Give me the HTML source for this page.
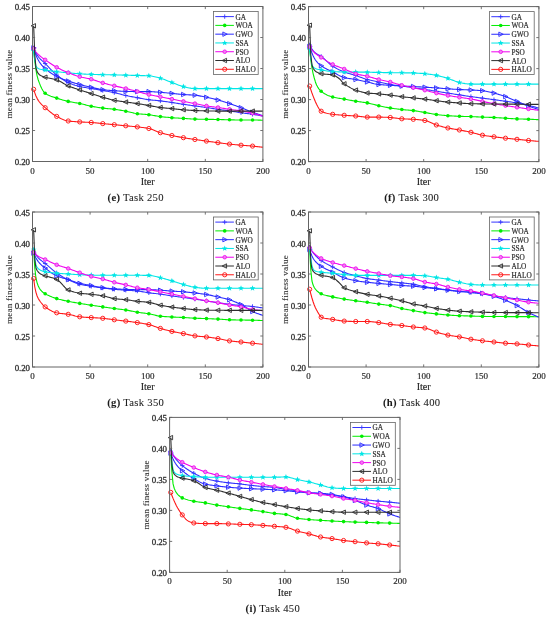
<!DOCTYPE html>
<html><head><meta charset="utf-8"><style>
html,body{margin:0;padding:0;background:#fff;}
svg{display:block;will-change:transform;}
text{stroke:#3a3a3a;stroke-width:0.18px;}
</style></head><body>
<svg width="550" height="617" viewBox="0 0 550 617">
<rect width="550" height="617" fill="#fff"/>
<path d="M33.65 47.90 L34.80 50.58 L35.96 53.00 L37.11 54.91 L38.26 56.56 L39.41 58.00 L40.56 59.26 L41.72 60.37 L42.87 61.40 L44.02 62.43 L45.17 63.50 L46.32 64.65 L47.48 65.84 L48.63 67.06 L49.78 68.28 L50.93 69.51 L52.08 70.71 L53.24 71.88 L54.39 72.99 L55.54 74.04 L56.69 75.00 L57.84 75.91 L59.00 76.80 L60.15 77.66 L61.30 78.50 L62.45 79.30 L63.60 80.06 L64.76 80.78 L65.91 81.44 L67.06 82.05 L68.21 82.60 L69.36 83.10 L70.52 83.58 L71.67 84.03 L72.82 84.46 L73.97 84.86 L75.12 85.24 L76.28 85.59 L77.43 85.92 L78.58 86.22 L79.73 86.50 L80.88 86.75 L82.04 86.98 L83.19 87.19 L84.34 87.39 L85.49 87.58 L86.64 87.76 L87.80 87.94 L88.95 88.12 L90.10 88.31 L91.25 88.50 L92.40 88.70 L93.56 88.90 L94.71 89.10 L95.86 89.30 L97.01 89.49 L98.16 89.69 L99.32 89.89 L100.47 90.09 L101.62 90.30 L102.77 90.50 L103.92 90.70 L105.08 90.90 L106.23 91.10 L107.38 91.30 L108.53 91.50 L109.68 91.71 L110.84 91.92 L111.99 92.14 L113.14 92.36 L114.29 92.60 L115.44 92.86 L116.60 93.13 L117.75 93.43 L118.90 93.73 L120.05 94.04 L121.20 94.35 L122.36 94.66 L123.51 94.96 L124.66 95.24 L125.81 95.50 L126.96 95.75 L128.12 95.98 L129.27 96.21 L130.42 96.43 L131.57 96.65 L132.72 96.86 L133.88 97.07 L135.03 97.28 L136.18 97.49 L137.33 97.70 L138.48 97.91 L139.64 98.13 L140.79 98.35 L141.94 98.56 L143.09 98.77 L144.24 98.98 L145.40 99.18 L146.55 99.37 L147.70 99.54 L148.85 99.70 L150.00 99.84 L151.16 99.97 L152.31 100.09 L153.46 100.21 L154.61 100.32 L155.76 100.42 L156.92 100.53 L158.07 100.65 L159.22 100.77 L160.37 100.90 L161.52 101.04 L162.68 101.19 L163.83 101.34 L164.98 101.50 L166.13 101.66 L167.28 101.82 L168.44 101.99 L169.59 102.16 L170.74 102.33 L171.89 102.50 L173.04 102.67 L174.20 102.85 L175.35 103.03 L176.50 103.21 L177.65 103.40 L178.80 103.59 L179.96 103.77 L181.11 103.95 L182.26 104.13 L183.41 104.30 L184.56 104.47 L185.72 104.63 L186.87 104.79 L188.02 104.95 L189.17 105.11 L190.32 105.27 L191.48 105.43 L192.63 105.58 L193.78 105.74 L194.93 105.90 L196.08 106.06 L197.24 106.22 L198.39 106.37 L199.54 106.53 L200.69 106.69 L201.84 106.85 L203.00 107.01 L204.15 107.17 L205.30 107.33 L206.45 107.50 L207.60 107.67 L208.76 107.85 L209.91 108.03 L211.06 108.21 L212.21 108.40 L213.36 108.59 L214.52 108.77 L215.67 108.95 L216.82 109.13 L217.97 109.30 L219.12 109.47 L220.28 109.63 L221.43 109.79 L222.58 109.94 L223.73 110.10 L224.88 110.26 L226.04 110.41 L227.19 110.57 L228.34 110.73 L229.49 110.90 L230.64 111.07 L231.80 111.25 L232.95 111.43 L234.10 111.61 L235.25 111.80 L236.40 111.99 L237.56 112.17 L238.71 112.35 L239.86 112.53 L241.01 112.70 L242.16 112.87 L243.32 113.03 L244.47 113.18 L245.62 113.34 L246.77 113.49 L247.92 113.64 L249.08 113.80 L250.23 113.96 L251.38 114.13 L252.53 114.30 L253.68 114.48 L254.84 114.67 L255.99 114.87 L257.14 115.07 L258.29 115.28 L259.44 115.49 L260.60 115.69 L261.75 115.90 L262.90 116.10" fill="none" stroke="#3434ff" stroke-width="1.1" stroke-linejoin="round"/>
<path d="M31.45 47.90H35.85M33.65 45.70V50.10" stroke="#3434ff" stroke-width="0.9" fill="none"/>
<path d="M42.97 63.50H47.37M45.17 61.30V65.70" stroke="#3434ff" stroke-width="0.9" fill="none"/>
<path d="M54.49 75.00H58.89M56.69 72.80V77.20" stroke="#3434ff" stroke-width="0.9" fill="none"/>
<path d="M66.01 82.60H70.41M68.21 80.40V84.80" stroke="#3434ff" stroke-width="0.9" fill="none"/>
<path d="M77.53 86.50H81.93M79.73 84.30V88.70" stroke="#3434ff" stroke-width="0.9" fill="none"/>
<path d="M89.05 88.50H93.45M91.25 86.30V90.70" stroke="#3434ff" stroke-width="0.9" fill="none"/>
<path d="M100.57 90.50H104.97M102.77 88.30V92.70" stroke="#3434ff" stroke-width="0.9" fill="none"/>
<path d="M112.09 92.60H116.49M114.29 90.40V94.80" stroke="#3434ff" stroke-width="0.9" fill="none"/>
<path d="M123.61 95.50H128.01M125.81 93.30V97.70" stroke="#3434ff" stroke-width="0.9" fill="none"/>
<path d="M135.13 97.70H139.53M137.33 95.50V99.90" stroke="#3434ff" stroke-width="0.9" fill="none"/>
<path d="M146.65 99.70H151.05M148.85 97.50V101.90" stroke="#3434ff" stroke-width="0.9" fill="none"/>
<path d="M158.17 100.90H162.57M160.37 98.70V103.10" stroke="#3434ff" stroke-width="0.9" fill="none"/>
<path d="M169.69 102.50H174.09M171.89 100.30V104.70" stroke="#3434ff" stroke-width="0.9" fill="none"/>
<path d="M181.21 104.30H185.61M183.41 102.10V106.50" stroke="#3434ff" stroke-width="0.9" fill="none"/>
<path d="M192.73 105.90H197.13M194.93 103.70V108.10" stroke="#3434ff" stroke-width="0.9" fill="none"/>
<path d="M204.25 107.50H208.65M206.45 105.30V109.70" stroke="#3434ff" stroke-width="0.9" fill="none"/>
<path d="M215.77 109.30H220.17M217.97 107.10V111.50" stroke="#3434ff" stroke-width="0.9" fill="none"/>
<path d="M227.29 110.90H231.69M229.49 108.70V113.10" stroke="#3434ff" stroke-width="0.9" fill="none"/>
<path d="M238.81 112.70H243.21M241.01 110.50V114.90" stroke="#3434ff" stroke-width="0.9" fill="none"/>
<path d="M250.33 114.30H254.73M252.53 112.10V116.50" stroke="#3434ff" stroke-width="0.9" fill="none"/>
<path d="M33.65 51.00 L34.80 61.24 L35.96 70.00 L37.11 75.82 L38.26 80.00 L39.41 83.13 L40.56 85.95 L41.72 88.42 L42.87 90.48 L44.02 92.09 L45.17 93.20 L46.32 93.99 L47.48 94.67 L48.63 95.25 L49.78 95.76 L50.93 96.21 L52.08 96.62 L53.24 97.00 L54.39 97.36 L55.54 97.72 L56.69 98.10 L57.84 98.49 L59.00 98.87 L60.15 99.23 L61.30 99.58 L62.45 99.92 L63.60 100.25 L64.76 100.56 L65.91 100.85 L67.06 101.14 L68.21 101.40 L69.36 101.65 L70.52 101.87 L71.67 102.08 L72.82 102.28 L73.97 102.48 L75.12 102.67 L76.28 102.86 L77.43 103.06 L78.58 103.27 L79.73 103.50 L80.88 103.75 L82.04 104.01 L83.19 104.29 L84.34 104.58 L85.49 104.87 L86.64 105.16 L87.80 105.44 L88.95 105.71 L90.10 105.96 L91.25 106.20 L92.40 106.42 L93.56 106.64 L94.71 106.85 L95.86 107.05 L97.01 107.24 L98.16 107.43 L99.32 107.61 L100.47 107.79 L101.62 107.95 L102.77 108.10 L103.92 108.24 L105.08 108.37 L106.23 108.48 L107.38 108.59 L108.53 108.70 L109.68 108.81 L110.84 108.92 L111.99 109.03 L113.14 109.16 L114.29 109.30 L115.44 109.45 L116.60 109.62 L117.75 109.79 L118.90 109.97 L120.05 110.16 L121.20 110.36 L122.36 110.56 L123.51 110.77 L124.66 110.99 L125.81 111.20 L126.96 111.43 L128.12 111.69 L129.27 111.97 L130.42 112.25 L131.57 112.54 L132.72 112.82 L133.88 113.09 L135.03 113.33 L136.18 113.53 L137.33 113.70 L138.48 113.83 L139.64 113.94 L140.79 114.04 L141.94 114.13 L143.09 114.21 L144.24 114.30 L145.40 114.38 L146.55 114.47 L147.70 114.58 L148.85 114.70 L150.00 114.85 L151.16 115.02 L152.31 115.22 L153.46 115.42 L154.61 115.64 L155.76 115.86 L156.92 116.07 L158.07 116.27 L159.22 116.45 L160.37 116.60 L161.52 116.74 L162.68 116.87 L163.83 116.99 L164.98 117.11 L166.13 117.22 L167.28 117.32 L168.44 117.42 L169.59 117.52 L170.74 117.61 L171.89 117.70 L173.04 117.78 L174.20 117.86 L175.35 117.93 L176.50 118.00 L177.65 118.07 L178.80 118.13 L179.96 118.20 L181.11 118.26 L182.26 118.33 L183.41 118.40 L184.56 118.47 L185.72 118.55 L186.87 118.63 L188.02 118.72 L189.17 118.80 L190.32 118.88 L191.48 118.95 L192.63 119.01 L193.78 119.06 L194.93 119.10 L196.08 119.13 L197.24 119.15 L198.39 119.18 L199.54 119.20 L200.69 119.21 L201.84 119.23 L203.00 119.25 L204.15 119.26 L205.30 119.28 L206.45 119.30 L207.60 119.32 L208.76 119.34 L209.91 119.36 L211.06 119.38 L212.21 119.39 L213.36 119.41 L214.52 119.43 L215.67 119.45 L216.82 119.48 L217.97 119.50 L219.12 119.53 L220.28 119.55 L221.43 119.58 L222.58 119.62 L223.73 119.65 L224.88 119.68 L226.04 119.72 L227.19 119.75 L228.34 119.77 L229.49 119.80 L230.64 119.83 L231.80 119.85 L232.95 119.88 L234.10 119.90 L235.25 119.93 L236.40 119.95 L237.56 119.97 L238.71 119.99 L239.86 120.00 L241.01 120.00 L242.16 120.00 L243.32 120.00 L244.47 120.00 L245.62 120.00 L246.77 120.00 L247.92 120.00 L249.08 120.00 L250.23 120.00 L251.38 120.00 L252.53 120.00 L253.68 120.00 L254.84 120.02 L255.99 120.04 L257.14 120.06 L258.29 120.09 L259.44 120.12 L260.60 120.15 L261.75 120.18 L262.90 120.20" fill="none" stroke="#00ee00" stroke-width="1.1" stroke-linejoin="round"/>
<circle cx="33.65" cy="51.00" r="1.8" fill="#00ee00"/>
<circle cx="45.17" cy="93.20" r="1.8" fill="#00ee00"/>
<circle cx="56.69" cy="98.10" r="1.8" fill="#00ee00"/>
<circle cx="68.21" cy="101.40" r="1.8" fill="#00ee00"/>
<circle cx="79.73" cy="103.50" r="1.8" fill="#00ee00"/>
<circle cx="91.25" cy="106.20" r="1.8" fill="#00ee00"/>
<circle cx="102.77" cy="108.10" r="1.8" fill="#00ee00"/>
<circle cx="114.29" cy="109.30" r="1.8" fill="#00ee00"/>
<circle cx="125.81" cy="111.20" r="1.8" fill="#00ee00"/>
<circle cx="137.33" cy="113.70" r="1.8" fill="#00ee00"/>
<circle cx="148.85" cy="114.70" r="1.8" fill="#00ee00"/>
<circle cx="160.37" cy="116.60" r="1.8" fill="#00ee00"/>
<circle cx="171.89" cy="117.70" r="1.8" fill="#00ee00"/>
<circle cx="183.41" cy="118.40" r="1.8" fill="#00ee00"/>
<circle cx="194.93" cy="119.10" r="1.8" fill="#00ee00"/>
<circle cx="206.45" cy="119.30" r="1.8" fill="#00ee00"/>
<circle cx="217.97" cy="119.50" r="1.8" fill="#00ee00"/>
<circle cx="229.49" cy="119.80" r="1.8" fill="#00ee00"/>
<circle cx="241.01" cy="120.00" r="1.8" fill="#00ee00"/>
<circle cx="252.53" cy="120.00" r="1.8" fill="#00ee00"/>
<path d="M33.65 47.90 L34.80 51.62 L35.96 55.00 L37.11 57.70 L38.26 60.06 L39.41 62.00 L40.56 63.61 L41.72 65.03 L42.87 66.30 L44.02 67.45 L45.17 68.50 L46.32 69.50 L47.48 70.45 L48.63 71.36 L49.78 72.23 L50.93 73.05 L52.08 73.83 L53.24 74.57 L54.39 75.26 L55.54 75.90 L56.69 76.50 L57.84 77.06 L59.00 77.58 L60.15 78.07 L61.30 78.54 L62.45 78.98 L63.60 79.40 L64.76 79.81 L65.91 80.21 L67.06 80.61 L68.21 81.00 L69.36 81.39 L70.52 81.77 L71.67 82.14 L72.82 82.50 L73.97 82.85 L75.12 83.20 L76.28 83.53 L77.43 83.86 L78.58 84.19 L79.73 84.50 L80.88 84.81 L82.04 85.11 L83.19 85.40 L84.34 85.69 L85.49 85.97 L86.64 86.24 L87.80 86.51 L88.95 86.78 L90.10 87.04 L91.25 87.30 L92.40 87.56 L93.56 87.84 L94.71 88.11 L95.86 88.38 L97.01 88.65 L98.16 88.90 L99.32 89.14 L100.47 89.35 L101.62 89.54 L102.77 89.70 L103.92 89.83 L105.08 89.96 L106.23 90.07 L107.38 90.18 L108.53 90.27 L109.68 90.36 L110.84 90.45 L111.99 90.54 L113.14 90.62 L114.29 90.70 L115.44 90.78 L116.60 90.87 L117.75 90.95 L118.90 91.04 L120.05 91.11 L121.20 91.19 L122.36 91.25 L123.51 91.31 L124.66 91.36 L125.81 91.40 L126.96 91.43 L128.12 91.46 L129.27 91.49 L130.42 91.52 L131.57 91.54 L132.72 91.56 L133.88 91.58 L135.03 91.59 L136.18 91.60 L137.33 91.60 L138.48 91.60 L139.64 91.60 L140.79 91.60 L141.94 91.60 L143.09 91.60 L144.24 91.60 L145.40 91.60 L146.55 91.60 L147.70 91.60 L148.85 91.60 L150.00 91.61 L151.16 91.65 L152.31 91.70 L153.46 91.76 L154.61 91.84 L155.76 91.93 L156.92 92.02 L158.07 92.12 L159.22 92.21 L160.37 92.30 L161.52 92.39 L162.68 92.49 L163.83 92.59 L164.98 92.70 L166.13 92.82 L167.28 92.94 L168.44 93.05 L169.59 93.17 L170.74 93.29 L171.89 93.40 L173.04 93.51 L174.20 93.63 L175.35 93.75 L176.50 93.86 L177.65 93.98 L178.80 94.10 L179.96 94.21 L181.11 94.31 L182.26 94.41 L183.41 94.50 L184.56 94.58 L185.72 94.65 L186.87 94.71 L188.02 94.77 L189.17 94.83 L190.32 94.88 L191.48 94.95 L192.63 95.02 L193.78 95.10 L194.93 95.20 L196.08 95.32 L197.24 95.48 L198.39 95.66 L199.54 95.86 L200.69 96.09 L201.84 96.32 L203.00 96.57 L204.15 96.81 L205.30 97.06 L206.45 97.30 L207.60 97.54 L208.76 97.78 L209.91 98.04 L211.06 98.29 L212.21 98.56 L213.36 98.83 L214.52 99.11 L215.67 99.40 L216.82 99.70 L217.97 100.00 L219.12 100.32 L220.28 100.65 L221.43 100.99 L222.58 101.34 L223.73 101.71 L224.88 102.08 L226.04 102.45 L227.19 102.83 L228.34 103.22 L229.49 103.60 L230.64 103.99 L231.80 104.38 L232.95 104.78 L234.10 105.18 L235.25 105.59 L236.40 106.00 L237.56 106.42 L238.71 106.84 L239.86 107.27 L241.01 107.70 L242.16 108.14 L243.32 108.60 L244.47 109.07 L245.62 109.55 L246.77 110.02 L247.92 110.50 L249.08 110.97 L250.23 111.43 L251.38 111.87 L252.53 112.30 L253.68 112.71 L254.84 113.10 L255.99 113.48 L257.14 113.86 L258.29 114.22 L259.44 114.59 L260.60 114.96 L261.75 115.33 L262.90 115.70" fill="none" stroke="#2a2aff" stroke-width="1.1" stroke-linejoin="round"/>
<path d="M36.18 47.90L31.78 45.70L31.78 50.10Z" stroke="#2a2aff" stroke-width="0.9" fill="none"/>
<path d="M47.70 68.50L43.30 66.30L43.30 70.70Z" stroke="#2a2aff" stroke-width="0.9" fill="none"/>
<path d="M59.22 76.50L54.82 74.30L54.82 78.70Z" stroke="#2a2aff" stroke-width="0.9" fill="none"/>
<path d="M70.74 81.00L66.34 78.80L66.34 83.20Z" stroke="#2a2aff" stroke-width="0.9" fill="none"/>
<path d="M82.26 84.50L77.86 82.30L77.86 86.70Z" stroke="#2a2aff" stroke-width="0.9" fill="none"/>
<path d="M93.78 87.30L89.38 85.10L89.38 89.50Z" stroke="#2a2aff" stroke-width="0.9" fill="none"/>
<path d="M105.30 89.70L100.90 87.50L100.90 91.90Z" stroke="#2a2aff" stroke-width="0.9" fill="none"/>
<path d="M116.82 90.70L112.42 88.50L112.42 92.90Z" stroke="#2a2aff" stroke-width="0.9" fill="none"/>
<path d="M128.34 91.40L123.94 89.20L123.94 93.60Z" stroke="#2a2aff" stroke-width="0.9" fill="none"/>
<path d="M139.86 91.60L135.46 89.40L135.46 93.80Z" stroke="#2a2aff" stroke-width="0.9" fill="none"/>
<path d="M151.38 91.60L146.98 89.40L146.98 93.80Z" stroke="#2a2aff" stroke-width="0.9" fill="none"/>
<path d="M162.90 92.30L158.50 90.10L158.50 94.50Z" stroke="#2a2aff" stroke-width="0.9" fill="none"/>
<path d="M174.42 93.40L170.02 91.20L170.02 95.60Z" stroke="#2a2aff" stroke-width="0.9" fill="none"/>
<path d="M185.94 94.50L181.54 92.30L181.54 96.70Z" stroke="#2a2aff" stroke-width="0.9" fill="none"/>
<path d="M197.46 95.20L193.06 93.00L193.06 97.40Z" stroke="#2a2aff" stroke-width="0.9" fill="none"/>
<path d="M208.98 97.30L204.58 95.10L204.58 99.50Z" stroke="#2a2aff" stroke-width="0.9" fill="none"/>
<path d="M220.50 100.00L216.10 97.80L216.10 102.20Z" stroke="#2a2aff" stroke-width="0.9" fill="none"/>
<path d="M232.02 103.60L227.62 101.40L227.62 105.80Z" stroke="#2a2aff" stroke-width="0.9" fill="none"/>
<path d="M243.54 107.70L239.14 105.50L239.14 109.90Z" stroke="#2a2aff" stroke-width="0.9" fill="none"/>
<path d="M255.06 112.30L250.66 110.10L250.66 114.50Z" stroke="#2a2aff" stroke-width="0.9" fill="none"/>
<path d="M33.65 51.00 L34.80 60.00 L35.96 66.00 L37.11 67.56 L38.26 68.50 L39.41 69.00 L40.56 69.30 L41.72 69.52 L42.87 69.68 L44.02 69.83 L45.17 70.00 L46.32 70.19 L47.48 70.37 L48.63 70.56 L49.78 70.74 L50.93 70.91 L52.08 71.09 L53.24 71.25 L54.39 71.41 L55.54 71.56 L56.69 71.70 L57.84 71.83 L59.00 71.95 L60.15 72.07 L61.30 72.18 L62.45 72.29 L63.60 72.39 L64.76 72.49 L65.91 72.59 L67.06 72.70 L68.21 72.80 L69.36 72.91 L70.52 73.01 L71.67 73.12 L72.82 73.23 L73.97 73.34 L75.12 73.44 L76.28 73.54 L77.43 73.63 L78.58 73.72 L79.73 73.80 L80.88 73.87 L82.04 73.95 L83.19 74.01 L84.34 74.08 L85.49 74.14 L86.64 74.20 L87.80 74.26 L88.95 74.31 L90.10 74.36 L91.25 74.40 L92.40 74.44 L93.56 74.47 L94.71 74.51 L95.86 74.54 L97.01 74.57 L98.16 74.60 L99.32 74.63 L100.47 74.65 L101.62 74.68 L102.77 74.70 L103.92 74.72 L105.08 74.74 L106.23 74.76 L107.38 74.78 L108.53 74.80 L109.68 74.82 L110.84 74.84 L111.99 74.86 L113.14 74.88 L114.29 74.90 L115.44 74.93 L116.60 74.95 L117.75 74.98 L118.90 75.01 L120.05 75.04 L121.20 75.07 L122.36 75.11 L123.51 75.14 L124.66 75.17 L125.81 75.20 L126.96 75.23 L128.12 75.26 L129.27 75.29 L130.42 75.32 L131.57 75.35 L132.72 75.38 L133.88 75.41 L135.03 75.44 L136.18 75.47 L137.33 75.50 L138.48 75.53 L139.64 75.55 L140.79 75.58 L141.94 75.60 L143.09 75.62 L144.24 75.65 L145.40 75.68 L146.55 75.71 L147.70 75.75 L148.85 75.80 L150.00 75.88 L151.16 76.02 L152.31 76.20 L153.46 76.43 L154.61 76.68 L155.76 76.96 L156.92 77.26 L158.07 77.57 L159.22 77.89 L160.37 78.20 L161.52 78.53 L162.68 78.91 L163.83 79.32 L164.98 79.75 L166.13 80.21 L167.28 80.68 L168.44 81.15 L169.59 81.61 L170.74 82.07 L171.89 82.50 L173.04 82.93 L174.20 83.38 L175.35 83.83 L176.50 84.29 L177.65 84.74 L178.80 85.17 L179.96 85.58 L181.11 85.96 L182.26 86.31 L183.41 86.60 L184.56 86.87 L185.72 87.15 L186.87 87.43 L188.02 87.69 L189.17 87.94 L190.32 88.15 L191.48 88.34 L192.63 88.48 L193.78 88.57 L194.93 88.60 L196.08 88.60 L197.24 88.60 L198.39 88.60 L199.54 88.60 L200.69 88.60 L201.84 88.60 L203.00 88.60 L204.15 88.60 L205.30 88.60 L206.45 88.60 L207.60 88.60 L208.76 88.60 L209.91 88.60 L211.06 88.60 L212.21 88.60 L213.36 88.60 L214.52 88.60 L215.67 88.60 L216.82 88.60 L217.97 88.60 L219.12 88.60 L220.28 88.60 L221.43 88.60 L222.58 88.60 L223.73 88.60 L224.88 88.60 L226.04 88.60 L227.19 88.60 L228.34 88.60 L229.49 88.60 L230.64 88.60 L231.80 88.60 L232.95 88.60 L234.10 88.60 L235.25 88.60 L236.40 88.60 L237.56 88.60 L238.71 88.60 L239.86 88.60 L241.01 88.60 L242.16 88.60 L243.32 88.60 L244.47 88.60 L245.62 88.60 L246.77 88.60 L247.92 88.60 L249.08 88.60 L250.23 88.60 L251.38 88.60 L252.53 88.60 L253.68 88.60 L254.84 88.60 L255.99 88.60 L257.14 88.60 L258.29 88.60 L259.44 88.60 L260.60 88.60 L261.75 88.60 L262.90 88.60" fill="none" stroke="#00e6e6" stroke-width="1.1" stroke-linejoin="round"/>
<polygon points="33.65,48.00 34.42,49.95 36.51,50.07 34.89,51.40 35.42,53.43 33.65,52.30 31.89,53.43 32.42,51.40 30.80,50.07 32.89,49.95" fill="#00e6e6"/>
<polygon points="45.17,67.00 45.94,68.95 48.03,69.07 46.41,70.40 46.94,72.43 45.17,71.30 43.41,72.43 43.94,70.40 42.32,69.07 44.41,68.95" fill="#00e6e6"/>
<polygon points="56.69,68.70 57.46,70.65 59.55,70.77 57.93,72.10 58.46,74.13 56.69,73.00 54.93,74.13 55.46,72.10 53.84,70.77 55.93,70.65" fill="#00e6e6"/>
<polygon points="68.21,69.80 68.98,71.75 71.07,71.87 69.45,73.20 69.98,75.23 68.21,74.10 66.45,75.23 66.98,73.20 65.36,71.87 67.45,71.75" fill="#00e6e6"/>
<polygon points="79.73,70.80 80.50,72.75 82.59,72.87 80.97,74.20 81.50,76.23 79.73,75.10 77.97,76.23 78.50,74.20 76.88,72.87 78.97,72.75" fill="#00e6e6"/>
<polygon points="91.25,71.40 92.02,73.35 94.11,73.47 92.49,74.80 93.02,76.83 91.25,75.70 89.49,76.83 90.02,74.80 88.40,73.47 90.49,73.35" fill="#00e6e6"/>
<polygon points="102.77,71.70 103.54,73.65 105.63,73.77 104.01,75.10 104.54,77.13 102.77,76.00 101.01,77.13 101.54,75.10 99.92,73.77 102.01,73.65" fill="#00e6e6"/>
<polygon points="114.29,71.90 115.06,73.85 117.15,73.97 115.53,75.30 116.06,77.33 114.29,76.20 112.53,77.33 113.06,75.30 111.44,73.97 113.53,73.85" fill="#00e6e6"/>
<polygon points="125.81,72.20 126.58,74.15 128.67,74.27 127.05,75.60 127.58,77.63 125.81,76.50 124.05,77.63 124.58,75.60 122.96,74.27 125.05,74.15" fill="#00e6e6"/>
<polygon points="137.33,72.50 138.10,74.45 140.19,74.57 138.57,75.90 139.10,77.93 137.33,76.80 135.57,77.93 136.10,75.90 134.48,74.57 136.57,74.45" fill="#00e6e6"/>
<polygon points="148.85,72.80 149.62,74.75 151.71,74.87 150.09,76.20 150.62,78.23 148.85,77.10 147.09,78.23 147.62,76.20 146.00,74.87 148.09,74.75" fill="#00e6e6"/>
<polygon points="160.37,75.20 161.14,77.15 163.23,77.27 161.61,78.60 162.14,80.63 160.37,79.50 158.61,80.63 159.14,78.60 157.52,77.27 159.61,77.15" fill="#00e6e6"/>
<polygon points="171.89,79.50 172.66,81.45 174.75,81.57 173.13,82.90 173.66,84.93 171.89,83.80 170.13,84.93 170.66,82.90 169.04,81.57 171.13,81.45" fill="#00e6e6"/>
<polygon points="183.41,83.60 184.18,85.55 186.27,85.67 184.65,87.00 185.18,89.03 183.41,87.90 181.65,89.03 182.18,87.00 180.56,85.67 182.65,85.55" fill="#00e6e6"/>
<polygon points="194.93,85.60 195.70,87.55 197.79,87.67 196.17,89.00 196.70,91.03 194.93,89.90 193.17,91.03 193.70,89.00 192.08,87.67 194.17,87.55" fill="#00e6e6"/>
<polygon points="206.45,85.60 207.22,87.55 209.31,87.67 207.69,89.00 208.22,91.03 206.45,89.90 204.69,91.03 205.22,89.00 203.60,87.67 205.69,87.55" fill="#00e6e6"/>
<polygon points="217.97,85.60 218.74,87.55 220.83,87.67 219.21,89.00 219.74,91.03 217.97,89.90 216.21,91.03 216.74,89.00 215.12,87.67 217.21,87.55" fill="#00e6e6"/>
<polygon points="229.49,85.60 230.26,87.55 232.35,87.67 230.73,89.00 231.26,91.03 229.49,89.90 227.73,91.03 228.26,89.00 226.64,87.67 228.73,87.55" fill="#00e6e6"/>
<polygon points="241.01,85.60 241.78,87.55 243.87,87.67 242.25,89.00 242.78,91.03 241.01,89.90 239.25,91.03 239.78,89.00 238.16,87.67 240.25,87.55" fill="#00e6e6"/>
<polygon points="252.53,85.60 253.30,87.55 255.39,87.67 253.77,89.00 254.30,91.03 252.53,89.90 250.77,91.03 251.30,89.00 249.68,87.67 251.77,87.55" fill="#00e6e6"/>
<path d="M33.65 48.50 L34.80 50.33 L35.96 52.00 L37.11 53.32 L38.26 54.46 L39.41 55.50 L40.56 56.46 L41.72 57.35 L42.87 58.19 L44.02 59.00 L45.17 59.80 L46.32 60.61 L47.48 61.41 L48.63 62.21 L49.78 63.00 L50.93 63.77 L52.08 64.53 L53.24 65.27 L54.39 65.97 L55.54 66.65 L56.69 67.30 L57.84 67.92 L59.00 68.52 L60.15 69.10 L61.30 69.66 L62.45 70.21 L63.60 70.74 L64.76 71.25 L65.91 71.75 L67.06 72.23 L68.21 72.70 L69.36 73.16 L70.52 73.61 L71.67 74.05 L72.82 74.47 L73.97 74.89 L75.12 75.29 L76.28 75.67 L77.43 76.04 L78.58 76.38 L79.73 76.70 L80.88 76.99 L82.04 77.26 L83.19 77.50 L84.34 77.74 L85.49 77.96 L86.64 78.19 L87.80 78.42 L88.95 78.66 L90.10 78.92 L91.25 79.20 L92.40 79.52 L93.56 79.86 L94.71 80.23 L95.86 80.62 L97.01 81.02 L98.16 81.42 L99.32 81.81 L100.47 82.19 L101.62 82.56 L102.77 82.90 L103.92 83.22 L105.08 83.53 L106.23 83.83 L107.38 84.12 L108.53 84.41 L109.68 84.69 L110.84 84.97 L111.99 85.24 L113.14 85.52 L114.29 85.80 L115.44 86.08 L116.60 86.35 L117.75 86.62 L118.90 86.88 L120.05 87.14 L121.20 87.41 L122.36 87.68 L123.51 87.94 L124.66 88.22 L125.81 88.50 L126.96 88.79 L128.12 89.08 L129.27 89.37 L130.42 89.67 L131.57 89.97 L132.72 90.28 L133.88 90.58 L135.03 90.89 L136.18 91.19 L137.33 91.50 L138.48 91.81 L139.64 92.13 L140.79 92.46 L141.94 92.78 L143.09 93.11 L144.24 93.43 L145.40 93.74 L146.55 94.05 L147.70 94.33 L148.85 94.60 L150.00 94.85 L151.16 95.09 L152.31 95.31 L153.46 95.53 L154.61 95.74 L155.76 95.95 L156.92 96.16 L158.07 96.37 L159.22 96.58 L160.37 96.80 L161.52 97.03 L162.68 97.25 L163.83 97.48 L164.98 97.71 L166.13 97.94 L167.28 98.18 L168.44 98.41 L169.59 98.64 L170.74 98.87 L171.89 99.10 L173.04 99.33 L174.20 99.56 L175.35 99.79 L176.50 100.02 L177.65 100.26 L178.80 100.49 L179.96 100.72 L181.11 100.95 L182.26 101.17 L183.41 101.40 L184.56 101.62 L185.72 101.84 L186.87 102.06 L188.02 102.28 L189.17 102.50 L190.32 102.72 L191.48 102.94 L192.63 103.16 L193.78 103.38 L194.93 103.60 L196.08 103.83 L197.24 104.07 L198.39 104.31 L199.54 104.55 L200.69 104.80 L201.84 105.03 L203.00 105.27 L204.15 105.49 L205.30 105.70 L206.45 105.90 L207.60 106.08 L208.76 106.25 L209.91 106.42 L211.06 106.57 L212.21 106.72 L213.36 106.87 L214.52 107.02 L215.67 107.18 L216.82 107.33 L217.97 107.50 L219.12 107.67 L220.28 107.85 L221.43 108.03 L222.58 108.21 L223.73 108.40 L224.88 108.59 L226.04 108.77 L227.19 108.95 L228.34 109.13 L229.49 109.30 L230.64 109.47 L231.80 109.62 L232.95 109.78 L234.10 109.93 L235.25 110.08 L236.40 110.23 L237.56 110.38 L238.71 110.55 L239.86 110.72 L241.01 110.90 L242.16 111.09 L243.32 111.29 L244.47 111.50 L245.62 111.72 L246.77 111.95 L247.92 112.18 L249.08 112.43 L250.23 112.68 L251.38 112.93 L252.53 113.20 L253.68 113.48 L254.84 113.78 L255.99 114.10 L257.14 114.42 L258.29 114.76 L259.44 115.10 L260.60 115.44 L261.75 115.77 L262.90 116.10" fill="none" stroke="#f000f0" stroke-width="1.1" stroke-linejoin="round"/>
<circle cx="33.65" cy="48.50" r="1.8" fill="#f080f0" stroke="#f000f0" stroke-width="0.8"/>
<circle cx="45.17" cy="59.80" r="1.8" fill="#f080f0" stroke="#f000f0" stroke-width="0.8"/>
<circle cx="56.69" cy="67.30" r="1.8" fill="#f080f0" stroke="#f000f0" stroke-width="0.8"/>
<circle cx="68.21" cy="72.70" r="1.8" fill="#f080f0" stroke="#f000f0" stroke-width="0.8"/>
<circle cx="79.73" cy="76.70" r="1.8" fill="#f080f0" stroke="#f000f0" stroke-width="0.8"/>
<circle cx="91.25" cy="79.20" r="1.8" fill="#f080f0" stroke="#f000f0" stroke-width="0.8"/>
<circle cx="102.77" cy="82.90" r="1.8" fill="#f080f0" stroke="#f000f0" stroke-width="0.8"/>
<circle cx="114.29" cy="85.80" r="1.8" fill="#f080f0" stroke="#f000f0" stroke-width="0.8"/>
<circle cx="125.81" cy="88.50" r="1.8" fill="#f080f0" stroke="#f000f0" stroke-width="0.8"/>
<circle cx="137.33" cy="91.50" r="1.8" fill="#f080f0" stroke="#f000f0" stroke-width="0.8"/>
<circle cx="148.85" cy="94.60" r="1.8" fill="#f080f0" stroke="#f000f0" stroke-width="0.8"/>
<circle cx="160.37" cy="96.80" r="1.8" fill="#f080f0" stroke="#f000f0" stroke-width="0.8"/>
<circle cx="171.89" cy="99.10" r="1.8" fill="#f080f0" stroke="#f000f0" stroke-width="0.8"/>
<circle cx="183.41" cy="101.40" r="1.8" fill="#f080f0" stroke="#f000f0" stroke-width="0.8"/>
<circle cx="194.93" cy="103.60" r="1.8" fill="#f080f0" stroke="#f000f0" stroke-width="0.8"/>
<circle cx="206.45" cy="105.90" r="1.8" fill="#f080f0" stroke="#f000f0" stroke-width="0.8"/>
<circle cx="217.97" cy="107.50" r="1.8" fill="#f080f0" stroke="#f000f0" stroke-width="0.8"/>
<circle cx="229.49" cy="109.30" r="1.8" fill="#f080f0" stroke="#f000f0" stroke-width="0.8"/>
<circle cx="241.01" cy="110.90" r="1.8" fill="#f080f0" stroke="#f000f0" stroke-width="0.8"/>
<circle cx="252.53" cy="113.20" r="1.8" fill="#f080f0" stroke="#f000f0" stroke-width="0.8"/>
<path d="M33.65 25.80 L34.80 55.00 L35.96 68.00 L37.11 71.61 L38.26 73.50 L39.41 74.71 L40.56 75.50 L41.72 76.05 L42.87 76.49 L44.02 76.86 L45.17 77.20 L46.32 77.52 L47.48 77.80 L48.63 78.05 L49.78 78.28 L50.93 78.51 L52.08 78.74 L53.24 78.98 L54.39 79.25 L55.54 79.55 L56.69 79.90 L57.84 80.33 L59.00 80.85 L60.15 81.44 L61.30 82.09 L62.45 82.77 L63.60 83.45 L64.76 84.13 L65.91 84.78 L67.06 85.38 L68.21 85.90 L69.36 86.37 L70.52 86.81 L71.67 87.23 L72.82 87.63 L73.97 88.02 L75.12 88.40 L76.28 88.77 L77.43 89.15 L78.58 89.52 L79.73 89.90 L80.88 90.28 L82.04 90.66 L83.19 91.03 L84.34 91.41 L85.49 91.77 L86.64 92.14 L87.80 92.51 L88.95 92.87 L90.10 93.24 L91.25 93.60 L92.40 93.97 L93.56 94.33 L94.71 94.70 L95.86 95.07 L97.01 95.44 L98.16 95.80 L99.32 96.16 L100.47 96.52 L101.62 96.86 L102.77 97.20 L103.92 97.54 L105.08 97.88 L106.23 98.22 L107.38 98.56 L108.53 98.89 L109.68 99.21 L110.84 99.52 L111.99 99.80 L113.14 100.07 L114.29 100.30 L115.44 100.51 L116.60 100.71 L117.75 100.89 L118.90 101.06 L120.05 101.22 L121.20 101.38 L122.36 101.53 L123.51 101.68 L124.66 101.84 L125.81 102.00 L126.96 102.16 L128.12 102.32 L129.27 102.48 L130.42 102.63 L131.57 102.79 L132.72 102.94 L133.88 103.10 L135.03 103.26 L136.18 103.43 L137.33 103.60 L138.48 103.78 L139.64 103.96 L140.79 104.14 L141.94 104.33 L143.09 104.52 L144.24 104.72 L145.40 104.91 L146.55 105.11 L147.70 105.30 L148.85 105.50 L150.00 105.70 L151.16 105.91 L152.31 106.13 L153.46 106.35 L154.61 106.57 L155.76 106.78 L156.92 106.98 L158.07 107.17 L159.22 107.35 L160.37 107.50 L161.52 107.64 L162.68 107.76 L163.83 107.87 L164.98 107.98 L166.13 108.08 L167.28 108.18 L168.44 108.28 L169.59 108.38 L170.74 108.49 L171.89 108.60 L173.04 108.72 L174.20 108.84 L175.35 108.97 L176.50 109.10 L177.65 109.23 L178.80 109.36 L179.96 109.48 L181.11 109.60 L182.26 109.71 L183.41 109.80 L184.56 109.89 L185.72 109.97 L186.87 110.05 L188.02 110.12 L189.17 110.20 L190.32 110.27 L191.48 110.33 L192.63 110.39 L193.78 110.45 L194.93 110.50 L196.08 110.55 L197.24 110.60 L198.39 110.64 L199.54 110.69 L200.69 110.73 L201.84 110.77 L203.00 110.81 L204.15 110.84 L205.30 110.87 L206.45 110.90 L207.60 110.93 L208.76 110.95 L209.91 110.98 L211.06 111.01 L212.21 111.03 L213.36 111.06 L214.52 111.07 L215.67 111.09 L216.82 111.10 L217.97 111.10 L219.12 111.10 L220.28 111.10 L221.43 111.10 L222.58 111.10 L223.73 111.10 L224.88 111.10 L226.04 111.10 L227.19 111.10 L228.34 111.10 L229.49 111.10 L230.64 111.10 L231.80 111.10 L232.95 111.10 L234.10 111.10 L235.25 111.10 L236.40 111.10 L237.56 111.10 L238.71 111.10 L239.86 111.10 L241.01 111.10 L242.16 111.10 L243.32 111.10 L244.47 111.10 L245.62 111.10 L246.77 111.10 L247.92 111.10 L249.08 111.10 L250.23 111.10 L251.38 111.10 L252.53 111.10 L253.68 111.10 L254.84 111.10 L255.99 111.10 L257.14 111.10 L258.29 111.10 L259.44 111.10 L260.60 111.10 L261.75 111.10 L262.90 111.10" fill="none" stroke="#2e2e2e" stroke-width="1.1" stroke-linejoin="round"/>
<path d="M31.12 25.80L35.52 23.60L35.52 28.00Z" stroke="#2e2e2e" stroke-width="0.9" fill="none"/>
<path d="M42.64 77.20L47.04 75.00L47.04 79.40Z" stroke="#2e2e2e" stroke-width="0.9" fill="none"/>
<path d="M54.16 79.90L58.56 77.70L58.56 82.10Z" stroke="#2e2e2e" stroke-width="0.9" fill="none"/>
<path d="M65.68 85.90L70.08 83.70L70.08 88.10Z" stroke="#2e2e2e" stroke-width="0.9" fill="none"/>
<path d="M77.20 89.90L81.60 87.70L81.60 92.10Z" stroke="#2e2e2e" stroke-width="0.9" fill="none"/>
<path d="M88.72 93.60L93.12 91.40L93.12 95.80Z" stroke="#2e2e2e" stroke-width="0.9" fill="none"/>
<path d="M100.24 97.20L104.64 95.00L104.64 99.40Z" stroke="#2e2e2e" stroke-width="0.9" fill="none"/>
<path d="M111.76 100.30L116.16 98.10L116.16 102.50Z" stroke="#2e2e2e" stroke-width="0.9" fill="none"/>
<path d="M123.28 102.00L127.68 99.80L127.68 104.20Z" stroke="#2e2e2e" stroke-width="0.9" fill="none"/>
<path d="M134.80 103.60L139.20 101.40L139.20 105.80Z" stroke="#2e2e2e" stroke-width="0.9" fill="none"/>
<path d="M146.32 105.50L150.72 103.30L150.72 107.70Z" stroke="#2e2e2e" stroke-width="0.9" fill="none"/>
<path d="M157.84 107.50L162.24 105.30L162.24 109.70Z" stroke="#2e2e2e" stroke-width="0.9" fill="none"/>
<path d="M169.36 108.60L173.76 106.40L173.76 110.80Z" stroke="#2e2e2e" stroke-width="0.9" fill="none"/>
<path d="M180.88 109.80L185.28 107.60L185.28 112.00Z" stroke="#2e2e2e" stroke-width="0.9" fill="none"/>
<path d="M192.40 110.50L196.80 108.30L196.80 112.70Z" stroke="#2e2e2e" stroke-width="0.9" fill="none"/>
<path d="M203.92 110.90L208.32 108.70L208.32 113.10Z" stroke="#2e2e2e" stroke-width="0.9" fill="none"/>
<path d="M215.44 111.10L219.84 108.90L219.84 113.30Z" stroke="#2e2e2e" stroke-width="0.9" fill="none"/>
<path d="M226.96 111.10L231.36 108.90L231.36 113.30Z" stroke="#2e2e2e" stroke-width="0.9" fill="none"/>
<path d="M238.48 111.10L242.88 108.90L242.88 113.30Z" stroke="#2e2e2e" stroke-width="0.9" fill="none"/>
<path d="M250.00 111.10L254.40 108.90L254.40 113.30Z" stroke="#2e2e2e" stroke-width="0.9" fill="none"/>
<path d="M33.65 89.30 L34.80 92.85 L35.96 96.00 L37.11 98.36 L38.26 100.35 L39.41 102.00 L40.56 103.38 L41.72 104.60 L42.87 105.69 L44.02 106.70 L45.17 107.70 L46.32 108.70 L47.48 109.69 L48.63 110.67 L49.78 111.63 L50.93 112.55 L52.08 113.43 L53.24 114.27 L54.39 115.05 L55.54 115.76 L56.69 116.40 L57.84 117.00 L59.00 117.60 L60.15 118.18 L61.30 118.74 L62.45 119.26 L63.60 119.74 L64.76 120.16 L65.91 120.52 L67.06 120.80 L68.21 121.00 L69.36 121.14 L70.52 121.26 L71.67 121.37 L72.82 121.46 L73.97 121.55 L75.12 121.62 L76.28 121.69 L77.43 121.76 L78.58 121.83 L79.73 121.90 L80.88 121.97 L82.04 122.03 L83.19 122.09 L84.34 122.14 L85.49 122.19 L86.64 122.25 L87.80 122.30 L88.95 122.36 L90.10 122.43 L91.25 122.50 L92.40 122.58 L93.56 122.68 L94.71 122.78 L95.86 122.89 L97.01 123.01 L98.16 123.13 L99.32 123.25 L100.47 123.37 L101.62 123.49 L102.77 123.60 L103.92 123.71 L105.08 123.82 L106.23 123.93 L107.38 124.04 L108.53 124.15 L109.68 124.26 L110.84 124.37 L111.99 124.48 L113.14 124.59 L114.29 124.70 L115.44 124.81 L116.60 124.92 L117.75 125.03 L118.90 125.14 L120.05 125.25 L121.20 125.36 L122.36 125.47 L123.51 125.58 L124.66 125.69 L125.81 125.80 L126.96 125.91 L128.12 126.01 L129.27 126.12 L130.42 126.22 L131.57 126.32 L132.72 126.43 L133.88 126.54 L135.03 126.65 L136.18 126.77 L137.33 126.90 L138.48 127.03 L139.64 127.16 L140.79 127.29 L141.94 127.43 L143.09 127.57 L144.24 127.73 L145.40 127.90 L146.55 128.08 L147.70 128.28 L148.85 128.50 L150.00 128.78 L151.16 129.13 L152.31 129.54 L153.46 129.99 L154.61 130.47 L155.76 130.96 L156.92 131.44 L158.07 131.91 L159.22 132.33 L160.37 132.70 L161.52 133.03 L162.68 133.34 L163.83 133.64 L164.98 133.93 L166.13 134.21 L167.28 134.48 L168.44 134.74 L169.59 135.00 L170.74 135.25 L171.89 135.50 L173.04 135.74 L174.20 135.98 L175.35 136.21 L176.50 136.44 L177.65 136.66 L178.80 136.88 L179.96 137.09 L181.11 137.30 L182.26 137.50 L183.41 137.70 L184.56 137.90 L185.72 138.09 L186.87 138.27 L188.02 138.46 L189.17 138.64 L190.32 138.81 L191.48 138.99 L192.63 139.16 L193.78 139.33 L194.93 139.50 L196.08 139.67 L197.24 139.83 L198.39 139.99 L199.54 140.15 L200.69 140.31 L201.84 140.47 L203.00 140.63 L204.15 140.78 L205.30 140.94 L206.45 141.10 L207.60 141.26 L208.76 141.42 L209.91 141.59 L211.06 141.75 L212.21 141.91 L213.36 142.08 L214.52 142.24 L215.67 142.39 L216.82 142.55 L217.97 142.70 L219.12 142.85 L220.28 143.00 L221.43 143.14 L222.58 143.29 L223.73 143.43 L224.88 143.57 L226.04 143.71 L227.19 143.84 L228.34 143.97 L229.49 144.10 L230.64 144.22 L231.80 144.34 L232.95 144.46 L234.10 144.57 L235.25 144.68 L236.40 144.79 L237.56 144.89 L238.71 145.00 L239.86 145.10 L241.01 145.20 L242.16 145.30 L243.32 145.39 L244.47 145.47 L245.62 145.56 L246.77 145.64 L247.92 145.72 L249.08 145.81 L250.23 145.90 L251.38 146.00 L252.53 146.10 L253.68 146.21 L254.84 146.34 L255.99 146.47 L257.14 146.60 L258.29 146.74 L259.44 146.88 L260.60 147.02 L261.75 147.16 L262.90 147.30" fill="none" stroke="#ff1818" stroke-width="1.1" stroke-linejoin="round"/>
<circle cx="33.65" cy="89.30" r="2.1" fill="none" stroke="#ff1818" stroke-width="0.95"/>
<circle cx="45.17" cy="107.70" r="2.1" fill="none" stroke="#ff1818" stroke-width="0.95"/>
<circle cx="56.69" cy="116.40" r="2.1" fill="none" stroke="#ff1818" stroke-width="0.95"/>
<circle cx="68.21" cy="121.00" r="2.1" fill="none" stroke="#ff1818" stroke-width="0.95"/>
<circle cx="79.73" cy="121.90" r="2.1" fill="none" stroke="#ff1818" stroke-width="0.95"/>
<circle cx="91.25" cy="122.50" r="2.1" fill="none" stroke="#ff1818" stroke-width="0.95"/>
<circle cx="102.77" cy="123.60" r="2.1" fill="none" stroke="#ff1818" stroke-width="0.95"/>
<circle cx="114.29" cy="124.70" r="2.1" fill="none" stroke="#ff1818" stroke-width="0.95"/>
<circle cx="125.81" cy="125.80" r="2.1" fill="none" stroke="#ff1818" stroke-width="0.95"/>
<circle cx="137.33" cy="126.90" r="2.1" fill="none" stroke="#ff1818" stroke-width="0.95"/>
<circle cx="148.85" cy="128.50" r="2.1" fill="none" stroke="#ff1818" stroke-width="0.95"/>
<circle cx="160.37" cy="132.70" r="2.1" fill="none" stroke="#ff1818" stroke-width="0.95"/>
<circle cx="171.89" cy="135.50" r="2.1" fill="none" stroke="#ff1818" stroke-width="0.95"/>
<circle cx="183.41" cy="137.70" r="2.1" fill="none" stroke="#ff1818" stroke-width="0.95"/>
<circle cx="194.93" cy="139.50" r="2.1" fill="none" stroke="#ff1818" stroke-width="0.95"/>
<circle cx="206.45" cy="141.10" r="2.1" fill="none" stroke="#ff1818" stroke-width="0.95"/>
<circle cx="217.97" cy="142.70" r="2.1" fill="none" stroke="#ff1818" stroke-width="0.95"/>
<circle cx="229.49" cy="144.10" r="2.1" fill="none" stroke="#ff1818" stroke-width="0.95"/>
<circle cx="241.01" cy="145.20" r="2.1" fill="none" stroke="#ff1818" stroke-width="0.95"/>
<circle cx="252.53" cy="146.10" r="2.1" fill="none" stroke="#ff1818" stroke-width="0.95"/>
<rect x="32.50" y="6.50" width="230.4" height="155.0" fill="none" stroke="#646464" stroke-width="1.0"/>
<path d="M32.50 161.50V158.90M32.50 6.50V9.10" stroke="#646464" stroke-width="0.9"/>
<text x="32.50" y="173.50" text-anchor="middle" font-size="9.0" fill="#222" font-family="Liberation Serif, serif">0</text>
<path d="M90.10 161.50V158.90M90.10 6.50V9.10" stroke="#646464" stroke-width="0.9"/>
<text x="90.10" y="173.50" text-anchor="middle" font-size="9.0" fill="#222" font-family="Liberation Serif, serif">50</text>
<path d="M147.70 161.50V158.90M147.70 6.50V9.10" stroke="#646464" stroke-width="0.9"/>
<text x="147.70" y="173.50" text-anchor="middle" font-size="9.0" fill="#222" font-family="Liberation Serif, serif">100</text>
<path d="M205.30 161.50V158.90M205.30 6.50V9.10" stroke="#646464" stroke-width="0.9"/>
<text x="205.30" y="173.50" text-anchor="middle" font-size="9.0" fill="#222" font-family="Liberation Serif, serif">150</text>
<path d="M262.90 161.50V158.90M262.90 6.50V9.10" stroke="#646464" stroke-width="0.9"/>
<text x="262.90" y="173.50" text-anchor="middle" font-size="9.0" fill="#222" font-family="Liberation Serif, serif">200</text>
<path d="M32.50 161.50H35.10M262.90 161.50H260.30" stroke="#646464" stroke-width="0.9"/>
<text x="29.80" y="165.00" text-anchor="end" letter-spacing="-0.12" font-size="8.9" fill="#222" style="stroke-width:0.3px" font-family="Liberation Serif, serif">0.20</text>
<path d="M32.50 130.50H35.10M262.90 130.50H260.30" stroke="#646464" stroke-width="0.9"/>
<text x="29.80" y="134.00" text-anchor="end" letter-spacing="-0.12" font-size="8.9" fill="#222" style="stroke-width:0.3px" font-family="Liberation Serif, serif">0.25</text>
<path d="M32.50 99.50H35.10M262.90 99.50H260.30" stroke="#646464" stroke-width="0.9"/>
<text x="29.80" y="103.00" text-anchor="end" letter-spacing="-0.12" font-size="8.9" fill="#222" style="stroke-width:0.3px" font-family="Liberation Serif, serif">0.30</text>
<path d="M32.50 68.50H35.10M262.90 68.50H260.30" stroke="#646464" stroke-width="0.9"/>
<text x="29.80" y="72.00" text-anchor="end" letter-spacing="-0.12" font-size="8.9" fill="#222" style="stroke-width:0.3px" font-family="Liberation Serif, serif">0.35</text>
<path d="M32.50 37.50H35.10M262.90 37.50H260.30" stroke="#646464" stroke-width="0.9"/>
<text x="29.80" y="41.00" text-anchor="end" letter-spacing="-0.12" font-size="8.9" fill="#222" style="stroke-width:0.3px" font-family="Liberation Serif, serif">0.40</text>
<path d="M32.50 6.50H35.10M262.90 6.50H260.30" stroke="#646464" stroke-width="0.9"/>
<text x="29.80" y="10.00" text-anchor="end" letter-spacing="-0.12" font-size="8.9" fill="#222" style="stroke-width:0.3px" font-family="Liberation Serif, serif">0.45</text>
<text x="147.70" y="184.80" text-anchor="middle" font-size="10.2" fill="#222" font-family="Liberation Serif, serif">Iter</text>
<text transform="translate(11.90 84.00) rotate(-90)" text-anchor="middle" font-size="9.1" letter-spacing="0.24" fill="#333" style="stroke-width:0.12px" font-family="Liberation Serif, serif">mean finess value</text>
<text x="135.70" y="200.90" text-anchor="middle" font-size="10.6" letter-spacing="0.3" fill="#1a1a1a" style="stroke-width:0.08px" font-family="Liberation Serif, serif"><tspan font-weight="bold">(e)</tspan> Task 250</text>
<rect x="213.40" y="11.50" width="44.8" height="62.9" fill="#fff" stroke="#646464" stroke-width="0.8"/>
<path d="M215.30 16.60H233.90" stroke="#3434ff" stroke-width="1.0"/>
<path d="M222.50 16.60H226.90M224.70 14.40V18.80" stroke="#3434ff" stroke-width="0.9" fill="none"/>
<text x="235.40" y="19.50" font-size="7.3" fill="#222" font-family="Liberation Serif, serif">GA</text>
<path d="M215.30 25.38H233.90" stroke="#00ee00" stroke-width="1.0"/>
<circle cx="224.70" cy="25.38" r="1.8" fill="#00ee00"/>
<text x="235.40" y="28.28" font-size="7.3" fill="#222" font-family="Liberation Serif, serif">WOA</text>
<path d="M215.30 34.16H233.90" stroke="#2a2aff" stroke-width="1.0"/>
<path d="M227.23 34.16L222.83 31.96L222.83 36.36Z" stroke="#2a2aff" stroke-width="0.9" fill="none"/>
<text x="235.40" y="37.06" font-size="7.3" fill="#222" font-family="Liberation Serif, serif">GWO</text>
<path d="M215.30 42.94H233.90" stroke="#00e6e6" stroke-width="1.0"/>
<polygon points="224.70,39.94 225.46,41.89 227.55,42.01 225.94,43.34 226.46,45.37 224.70,44.24 222.94,45.37 223.46,43.34 221.85,42.01 223.94,41.89" fill="#00e6e6"/>
<text x="235.40" y="45.84" font-size="7.3" fill="#222" font-family="Liberation Serif, serif">SSA</text>
<path d="M215.30 51.72H233.90" stroke="#f000f0" stroke-width="1.0"/>
<circle cx="224.70" cy="51.72" r="1.8" fill="#f080f0" stroke="#f000f0" stroke-width="0.8"/>
<text x="235.40" y="54.62" font-size="7.3" fill="#222" font-family="Liberation Serif, serif">PSO</text>
<path d="M215.30 60.50H233.90" stroke="#2e2e2e" stroke-width="1.0"/>
<path d="M222.17 60.50L226.57 58.30L226.57 62.70Z" stroke="#2e2e2e" stroke-width="0.9" fill="none"/>
<text x="235.40" y="63.40" font-size="7.3" fill="#222" font-family="Liberation Serif, serif">ALO</text>
<path d="M215.30 69.28H233.90" stroke="#ff1818" stroke-width="1.0"/>
<circle cx="224.70" cy="69.28" r="2.1" fill="none" stroke="#ff1818" stroke-width="0.95"/>
<text x="235.40" y="72.18" font-size="7.3" fill="#222" font-family="Liberation Serif, serif">HALO</text>
<path d="M309.65 44.90 L310.80 47.05 L311.96 49.00 L313.11 50.56 L314.26 51.92 L315.41 53.00 L316.56 53.82 L317.72 54.49 L318.87 55.08 L320.02 55.69 L321.17 56.40 L322.32 57.25 L323.48 58.19 L324.63 59.21 L325.78 60.28 L326.93 61.37 L328.08 62.46 L329.24 63.51 L330.39 64.50 L331.54 65.41 L332.69 66.20 L333.84 66.91 L335.00 67.60 L336.15 68.25 L337.30 68.87 L338.45 69.47 L339.60 70.03 L340.76 70.56 L341.91 71.07 L343.06 71.55 L344.21 72.00 L345.36 72.42 L346.52 72.80 L347.67 73.16 L348.82 73.50 L349.97 73.83 L351.12 74.15 L352.28 74.47 L353.43 74.80 L354.58 75.14 L355.73 75.50 L356.88 75.89 L358.04 76.30 L359.19 76.72 L360.34 77.15 L361.49 77.58 L362.64 78.01 L363.80 78.42 L364.95 78.81 L366.10 79.17 L367.25 79.50 L368.40 79.80 L369.56 80.07 L370.71 80.33 L371.86 80.58 L373.01 80.82 L374.16 81.06 L375.32 81.29 L376.47 81.52 L377.62 81.76 L378.77 82.00 L379.92 82.25 L381.08 82.52 L382.23 82.78 L383.38 83.05 L384.53 83.32 L385.68 83.58 L386.84 83.83 L387.99 84.07 L389.14 84.29 L390.29 84.50 L391.44 84.69 L392.60 84.86 L393.75 85.03 L394.90 85.19 L396.05 85.34 L397.20 85.49 L398.36 85.64 L399.51 85.79 L400.66 85.94 L401.81 86.10 L402.96 86.26 L404.12 86.42 L405.27 86.58 L406.42 86.74 L407.57 86.89 L408.72 87.05 L409.88 87.21 L411.03 87.37 L412.18 87.54 L413.33 87.70 L414.48 87.87 L415.64 88.03 L416.79 88.20 L417.94 88.37 L419.09 88.54 L420.24 88.71 L421.40 88.88 L422.55 89.05 L423.70 89.22 L424.85 89.40 L426.00 89.58 L427.16 89.76 L428.31 89.94 L429.46 90.12 L430.61 90.31 L431.76 90.49 L432.92 90.68 L434.07 90.86 L435.22 91.05 L436.37 91.24 L437.52 91.43 L438.68 91.62 L439.83 91.81 L440.98 91.99 L442.13 92.18 L443.28 92.37 L444.44 92.55 L445.59 92.74 L446.74 92.92 L447.89 93.10 L449.04 93.28 L450.20 93.46 L451.35 93.64 L452.50 93.82 L453.65 94.00 L454.80 94.18 L455.96 94.36 L457.11 94.53 L458.26 94.71 L459.41 94.89 L460.56 95.06 L461.72 95.24 L462.87 95.41 L464.02 95.59 L465.17 95.76 L466.32 95.93 L467.48 96.10 L468.63 96.27 L469.78 96.43 L470.93 96.60 L472.08 96.76 L473.24 96.92 L474.39 97.08 L475.54 97.24 L476.69 97.40 L477.84 97.55 L479.00 97.71 L480.15 97.86 L481.30 98.01 L482.45 98.16 L483.60 98.31 L484.76 98.46 L485.91 98.62 L487.06 98.77 L488.21 98.92 L489.36 99.07 L490.52 99.23 L491.67 99.38 L492.82 99.54 L493.97 99.70 L495.12 99.86 L496.28 100.02 L497.43 100.17 L498.58 100.32 L499.73 100.48 L500.88 100.63 L502.04 100.78 L503.19 100.94 L504.34 101.09 L505.49 101.25 L506.64 101.41 L507.80 101.57 L508.95 101.73 L510.10 101.90 L511.25 102.07 L512.40 102.25 L513.56 102.43 L514.71 102.61 L515.86 102.80 L517.01 103.00 L518.16 103.21 L519.32 103.42 L520.47 103.65 L521.62 103.88 L522.77 104.12 L523.92 104.37 L525.08 104.62 L526.23 104.88 L527.38 105.14 L528.53 105.40 L529.68 105.67 L530.84 105.95 L531.99 106.23 L533.14 106.52 L534.29 106.82 L535.44 107.12 L536.60 107.41 L537.75 107.71 L538.90 108.00" fill="none" stroke="#3434ff" stroke-width="1.1" stroke-linejoin="round"/>
<path d="M307.45 44.90H311.85M309.65 42.70V47.10" stroke="#3434ff" stroke-width="0.9" fill="none"/>
<path d="M318.97 56.40H323.37M321.17 54.20V58.60" stroke="#3434ff" stroke-width="0.9" fill="none"/>
<path d="M330.49 66.20H334.89M332.69 64.00V68.40" stroke="#3434ff" stroke-width="0.9" fill="none"/>
<path d="M342.01 72.00H346.41M344.21 69.80V74.20" stroke="#3434ff" stroke-width="0.9" fill="none"/>
<path d="M353.53 75.50H357.93M355.73 73.30V77.70" stroke="#3434ff" stroke-width="0.9" fill="none"/>
<path d="M365.05 79.50H369.45M367.25 77.30V81.70" stroke="#3434ff" stroke-width="0.9" fill="none"/>
<path d="M376.57 82.00H380.97M378.77 79.80V84.20" stroke="#3434ff" stroke-width="0.9" fill="none"/>
<path d="M388.09 84.50H392.49M390.29 82.30V86.70" stroke="#3434ff" stroke-width="0.9" fill="none"/>
<path d="M399.61 86.10H404.01M401.81 83.90V88.30" stroke="#3434ff" stroke-width="0.9" fill="none"/>
<path d="M411.13 87.70H415.53M413.33 85.50V89.90" stroke="#3434ff" stroke-width="0.9" fill="none"/>
<path d="M422.65 89.40H427.05M424.85 87.20V91.60" stroke="#3434ff" stroke-width="0.9" fill="none"/>
<path d="M434.17 91.24H438.57M436.37 89.04V93.44" stroke="#3434ff" stroke-width="0.9" fill="none"/>
<path d="M445.69 93.10H450.09M447.89 90.90V95.30" stroke="#3434ff" stroke-width="0.9" fill="none"/>
<path d="M457.21 94.89H461.61M459.41 92.69V97.09" stroke="#3434ff" stroke-width="0.9" fill="none"/>
<path d="M468.73 96.60H473.13M470.93 94.40V98.80" stroke="#3434ff" stroke-width="0.9" fill="none"/>
<path d="M480.25 98.16H484.65M482.45 95.96V100.36" stroke="#3434ff" stroke-width="0.9" fill="none"/>
<path d="M491.77 99.70H496.17M493.97 97.50V101.90" stroke="#3434ff" stroke-width="0.9" fill="none"/>
<path d="M503.29 101.25H507.69M505.49 99.05V103.45" stroke="#3434ff" stroke-width="0.9" fill="none"/>
<path d="M514.81 103.00H519.21M517.01 100.80V105.20" stroke="#3434ff" stroke-width="0.9" fill="none"/>
<path d="M526.33 105.40H530.73M528.53 103.20V107.60" stroke="#3434ff" stroke-width="0.9" fill="none"/>
<path d="M309.65 49.80 L310.80 60.00 L311.96 68.00 L313.11 73.55 L314.26 78.00 L315.41 81.96 L316.56 85.00 L317.72 87.09 L318.87 88.84 L320.02 90.24 L321.17 91.30 L322.32 92.16 L323.48 92.94 L324.63 93.66 L325.78 94.30 L326.93 94.89 L328.08 95.41 L329.24 95.88 L330.39 96.30 L331.54 96.67 L332.69 97.00 L333.84 97.29 L335.00 97.54 L336.15 97.77 L337.30 97.98 L338.45 98.17 L339.60 98.35 L340.76 98.53 L341.91 98.71 L343.06 98.90 L344.21 99.10 L345.36 99.31 L346.52 99.53 L347.67 99.74 L348.82 99.96 L349.97 100.18 L351.12 100.39 L352.28 100.60 L353.43 100.81 L354.58 101.01 L355.73 101.20 L356.88 101.38 L358.04 101.55 L359.19 101.71 L360.34 101.87 L361.49 102.02 L362.64 102.18 L363.80 102.34 L364.95 102.51 L366.10 102.70 L367.25 102.90 L368.40 103.13 L369.56 103.38 L370.71 103.66 L371.86 103.95 L373.01 104.25 L374.16 104.55 L375.32 104.86 L376.47 105.15 L377.62 105.44 L378.77 105.70 L379.92 105.95 L381.08 106.20 L382.23 106.45 L383.38 106.70 L384.53 106.94 L385.68 107.17 L386.84 107.40 L387.99 107.61 L389.14 107.81 L390.29 108.00 L391.44 108.18 L392.60 108.35 L393.75 108.51 L394.90 108.67 L396.05 108.82 L397.20 108.96 L398.36 109.10 L399.51 109.24 L400.66 109.37 L401.81 109.50 L402.96 109.62 L404.12 109.73 L405.27 109.84 L406.42 109.94 L407.57 110.03 L408.72 110.13 L409.88 110.24 L411.03 110.35 L412.18 110.47 L413.33 110.60 L414.48 110.75 L415.64 110.91 L416.79 111.09 L417.94 111.28 L419.09 111.48 L420.24 111.68 L421.40 111.89 L422.55 112.10 L423.70 112.30 L424.85 112.50 L426.00 112.70 L427.16 112.91 L428.31 113.12 L429.46 113.34 L430.61 113.56 L431.76 113.77 L432.92 113.97 L434.07 114.16 L435.22 114.34 L436.37 114.50 L437.52 114.65 L438.68 114.79 L439.83 114.93 L440.98 115.06 L442.13 115.19 L443.28 115.31 L444.44 115.42 L445.59 115.52 L446.74 115.62 L447.89 115.70 L449.04 115.78 L450.20 115.85 L451.35 115.92 L452.50 115.99 L453.65 116.05 L454.80 116.11 L455.96 116.16 L457.11 116.21 L458.26 116.26 L459.41 116.30 L460.56 116.34 L461.72 116.37 L462.87 116.40 L464.02 116.43 L465.17 116.45 L466.32 116.48 L467.48 116.51 L468.63 116.53 L469.78 116.56 L470.93 116.60 L472.08 116.64 L473.24 116.69 L474.39 116.74 L475.54 116.79 L476.69 116.84 L477.84 116.90 L479.00 116.95 L480.15 117.00 L481.30 117.05 L482.45 117.10 L483.60 117.14 L484.76 117.18 L485.91 117.22 L487.06 117.26 L488.21 117.29 L489.36 117.33 L490.52 117.37 L491.67 117.41 L492.82 117.45 L493.97 117.50 L495.12 117.55 L496.28 117.62 L497.43 117.68 L498.58 117.75 L499.73 117.83 L500.88 117.90 L502.04 117.98 L503.19 118.05 L504.34 118.13 L505.49 118.20 L506.64 118.27 L507.80 118.35 L508.95 118.43 L510.10 118.51 L511.25 118.59 L512.40 118.66 L513.56 118.73 L514.71 118.80 L515.86 118.85 L517.01 118.90 L518.16 118.94 L519.32 118.97 L520.47 119.00 L521.62 119.03 L522.77 119.05 L523.92 119.08 L525.08 119.10 L526.23 119.13 L527.38 119.16 L528.53 119.20 L529.68 119.24 L530.84 119.29 L531.99 119.34 L533.14 119.40 L534.29 119.46 L535.44 119.52 L536.60 119.58 L537.75 119.64 L538.90 119.70" fill="none" stroke="#00ee00" stroke-width="1.1" stroke-linejoin="round"/>
<circle cx="309.65" cy="49.80" r="1.8" fill="#00ee00"/>
<circle cx="321.17" cy="91.30" r="1.8" fill="#00ee00"/>
<circle cx="332.69" cy="97.00" r="1.8" fill="#00ee00"/>
<circle cx="344.21" cy="99.10" r="1.8" fill="#00ee00"/>
<circle cx="355.73" cy="101.20" r="1.8" fill="#00ee00"/>
<circle cx="367.25" cy="102.90" r="1.8" fill="#00ee00"/>
<circle cx="378.77" cy="105.70" r="1.8" fill="#00ee00"/>
<circle cx="390.29" cy="108.00" r="1.8" fill="#00ee00"/>
<circle cx="401.81" cy="109.50" r="1.8" fill="#00ee00"/>
<circle cx="413.33" cy="110.60" r="1.8" fill="#00ee00"/>
<circle cx="424.85" cy="112.50" r="1.8" fill="#00ee00"/>
<circle cx="436.37" cy="114.50" r="1.8" fill="#00ee00"/>
<circle cx="447.89" cy="115.70" r="1.8" fill="#00ee00"/>
<circle cx="459.41" cy="116.30" r="1.8" fill="#00ee00"/>
<circle cx="470.93" cy="116.60" r="1.8" fill="#00ee00"/>
<circle cx="482.45" cy="117.10" r="1.8" fill="#00ee00"/>
<circle cx="493.97" cy="117.50" r="1.8" fill="#00ee00"/>
<circle cx="505.49" cy="118.20" r="1.8" fill="#00ee00"/>
<circle cx="517.01" cy="118.90" r="1.8" fill="#00ee00"/>
<circle cx="528.53" cy="119.20" r="1.8" fill="#00ee00"/>
<path d="M309.65 46.50 L310.80 49.88 L311.96 53.00 L313.11 55.68 L314.26 58.09 L315.41 60.00 L316.56 61.49 L317.72 62.79 L318.87 63.93 L320.02 64.92 L321.17 65.80 L322.32 66.59 L323.48 67.31 L324.63 67.96 L325.78 68.57 L326.93 69.15 L328.08 69.70 L329.24 70.24 L330.39 70.78 L331.54 71.33 L332.69 71.90 L333.84 72.51 L335.00 73.16 L336.15 73.82 L337.30 74.48 L338.45 75.13 L339.60 75.75 L340.76 76.32 L341.91 76.83 L343.06 77.26 L344.21 77.60 L345.36 77.86 L346.52 78.09 L347.67 78.29 L348.82 78.47 L349.97 78.64 L351.12 78.79 L352.28 78.95 L353.43 79.12 L354.58 79.30 L355.73 79.50 L356.88 79.72 L358.04 79.96 L359.19 80.20 L360.34 80.45 L361.49 80.71 L362.64 80.97 L363.80 81.23 L364.95 81.49 L366.10 81.75 L367.25 82.00 L368.40 82.26 L369.56 82.54 L370.71 82.83 L371.86 83.12 L373.01 83.41 L374.16 83.69 L375.32 83.94 L376.47 84.16 L377.62 84.35 L378.77 84.50 L379.92 84.61 L381.08 84.71 L382.23 84.80 L383.38 84.88 L384.53 84.95 L385.68 85.02 L386.84 85.09 L387.99 85.15 L389.14 85.22 L390.29 85.30 L391.44 85.38 L392.60 85.47 L393.75 85.56 L394.90 85.65 L396.05 85.73 L397.20 85.82 L398.36 85.90 L399.51 85.97 L400.66 86.04 L401.81 86.10 L402.96 86.15 L404.12 86.19 L405.27 86.23 L406.42 86.27 L407.57 86.30 L408.72 86.34 L409.88 86.37 L411.03 86.41 L412.18 86.45 L413.33 86.50 L414.48 86.55 L415.64 86.62 L416.79 86.68 L417.94 86.75 L419.09 86.83 L420.24 86.90 L421.40 86.98 L422.55 87.05 L423.70 87.13 L424.85 87.20 L426.00 87.27 L427.16 87.34 L428.31 87.40 L429.46 87.47 L430.61 87.54 L431.76 87.61 L432.92 87.68 L434.07 87.75 L435.22 87.82 L436.37 87.90 L437.52 87.98 L438.68 88.07 L439.83 88.16 L440.98 88.25 L442.13 88.35 L443.28 88.45 L444.44 88.54 L445.59 88.63 L446.74 88.72 L447.89 88.80 L449.04 88.88 L450.20 88.95 L451.35 89.03 L452.50 89.10 L453.65 89.18 L454.80 89.25 L455.96 89.31 L457.11 89.38 L458.26 89.44 L459.41 89.50 L460.56 89.56 L461.72 89.61 L462.87 89.66 L464.02 89.70 L465.17 89.75 L466.32 89.80 L467.48 89.84 L468.63 89.89 L469.78 89.94 L470.93 90.00 L472.08 90.06 L473.24 90.11 L474.39 90.17 L475.54 90.23 L476.69 90.29 L477.84 90.35 L479.00 90.43 L480.15 90.51 L481.30 90.60 L482.45 90.70 L483.60 90.83 L484.76 91.00 L485.91 91.20 L487.06 91.43 L488.21 91.68 L489.36 91.95 L490.52 92.23 L491.67 92.52 L492.82 92.81 L493.97 93.10 L495.12 93.39 L496.28 93.70 L497.43 94.02 L498.58 94.35 L499.73 94.70 L500.88 95.06 L502.04 95.43 L503.19 95.81 L504.34 96.20 L505.49 96.60 L506.64 97.02 L507.80 97.47 L508.95 97.93 L510.10 98.42 L511.25 98.91 L512.40 99.42 L513.56 99.92 L514.71 100.42 L515.86 100.92 L517.01 101.40 L518.16 101.88 L519.32 102.36 L520.47 102.85 L521.62 103.33 L522.77 103.81 L523.92 104.29 L525.08 104.76 L526.23 105.22 L527.38 105.67 L528.53 106.10 L529.68 106.52 L530.84 106.92 L531.99 107.31 L533.14 107.70 L534.29 108.08 L535.44 108.46 L536.60 108.83 L537.75 109.21 L538.90 109.60" fill="none" stroke="#2a2aff" stroke-width="1.1" stroke-linejoin="round"/>
<path d="M312.18 46.50L307.78 44.30L307.78 48.70Z" stroke="#2a2aff" stroke-width="0.9" fill="none"/>
<path d="M323.70 65.80L319.30 63.60L319.30 68.00Z" stroke="#2a2aff" stroke-width="0.9" fill="none"/>
<path d="M335.22 71.90L330.82 69.70L330.82 74.10Z" stroke="#2a2aff" stroke-width="0.9" fill="none"/>
<path d="M346.74 77.60L342.34 75.40L342.34 79.80Z" stroke="#2a2aff" stroke-width="0.9" fill="none"/>
<path d="M358.26 79.50L353.86 77.30L353.86 81.70Z" stroke="#2a2aff" stroke-width="0.9" fill="none"/>
<path d="M369.78 82.00L365.38 79.80L365.38 84.20Z" stroke="#2a2aff" stroke-width="0.9" fill="none"/>
<path d="M381.30 84.50L376.90 82.30L376.90 86.70Z" stroke="#2a2aff" stroke-width="0.9" fill="none"/>
<path d="M392.82 85.30L388.42 83.10L388.42 87.50Z" stroke="#2a2aff" stroke-width="0.9" fill="none"/>
<path d="M404.34 86.10L399.94 83.90L399.94 88.30Z" stroke="#2a2aff" stroke-width="0.9" fill="none"/>
<path d="M415.86 86.50L411.46 84.30L411.46 88.70Z" stroke="#2a2aff" stroke-width="0.9" fill="none"/>
<path d="M427.38 87.20L422.98 85.00L422.98 89.40Z" stroke="#2a2aff" stroke-width="0.9" fill="none"/>
<path d="M438.90 87.90L434.50 85.70L434.50 90.10Z" stroke="#2a2aff" stroke-width="0.9" fill="none"/>
<path d="M450.42 88.80L446.02 86.60L446.02 91.00Z" stroke="#2a2aff" stroke-width="0.9" fill="none"/>
<path d="M461.94 89.50L457.54 87.30L457.54 91.70Z" stroke="#2a2aff" stroke-width="0.9" fill="none"/>
<path d="M473.46 90.00L469.06 87.80L469.06 92.20Z" stroke="#2a2aff" stroke-width="0.9" fill="none"/>
<path d="M484.98 90.70L480.58 88.50L480.58 92.90Z" stroke="#2a2aff" stroke-width="0.9" fill="none"/>
<path d="M496.50 93.10L492.10 90.90L492.10 95.30Z" stroke="#2a2aff" stroke-width="0.9" fill="none"/>
<path d="M508.02 96.60L503.62 94.40L503.62 98.80Z" stroke="#2a2aff" stroke-width="0.9" fill="none"/>
<path d="M519.54 101.40L515.14 99.20L515.14 103.60Z" stroke="#2a2aff" stroke-width="0.9" fill="none"/>
<path d="M531.06 106.10L526.66 103.90L526.66 108.30Z" stroke="#2a2aff" stroke-width="0.9" fill="none"/>
<path d="M309.65 49.80 L310.80 58.00 L311.96 65.00 L313.11 67.02 L314.26 68.00 L315.41 68.52 L316.56 68.91 L317.72 69.22 L318.87 69.47 L320.02 69.68 L321.17 69.90 L322.32 70.13 L323.48 70.35 L324.63 70.56 L325.78 70.76 L326.93 70.95 L328.08 71.13 L329.24 71.28 L330.39 71.41 L331.54 71.52 L332.69 71.60 L333.84 71.66 L335.00 71.72 L336.15 71.77 L337.30 71.82 L338.45 71.86 L339.60 71.90 L340.76 71.93 L341.91 71.96 L343.06 71.98 L344.21 72.00 L345.36 72.01 L346.52 72.03 L347.67 72.04 L348.82 72.05 L349.97 72.06 L351.12 72.07 L352.28 72.07 L353.43 72.08 L354.58 72.09 L355.73 72.10 L356.88 72.11 L358.04 72.12 L359.19 72.13 L360.34 72.14 L361.49 72.14 L362.64 72.15 L363.80 72.16 L364.95 72.17 L366.10 72.19 L367.25 72.20 L368.40 72.22 L369.56 72.24 L370.71 72.27 L371.86 72.30 L373.01 72.34 L374.16 72.37 L375.32 72.41 L376.47 72.44 L377.62 72.47 L378.77 72.50 L379.92 72.52 L381.08 72.55 L382.23 72.57 L383.38 72.59 L384.53 72.61 L385.68 72.63 L386.84 72.65 L387.99 72.67 L389.14 72.69 L390.29 72.70 L391.44 72.71 L392.60 72.72 L393.75 72.73 L394.90 72.74 L396.05 72.75 L397.20 72.76 L398.36 72.77 L399.51 72.78 L400.66 72.79 L401.81 72.80 L402.96 72.81 L404.12 72.83 L405.27 72.84 L406.42 72.86 L407.57 72.88 L408.72 72.90 L409.88 72.92 L411.03 72.94 L412.18 72.97 L413.33 73.00 L414.48 73.04 L415.64 73.08 L416.79 73.13 L417.94 73.20 L419.09 73.26 L420.24 73.34 L421.40 73.42 L422.55 73.51 L423.70 73.60 L424.85 73.70 L426.00 73.81 L427.16 73.93 L428.31 74.08 L429.46 74.23 L430.61 74.40 L431.76 74.58 L432.92 74.78 L434.07 74.98 L435.22 75.19 L436.37 75.40 L437.52 75.63 L438.68 75.88 L439.83 76.15 L440.98 76.44 L442.13 76.74 L443.28 77.05 L444.44 77.38 L445.59 77.71 L446.74 78.05 L447.89 78.40 L449.04 78.77 L450.20 79.20 L451.35 79.65 L452.50 80.12 L453.65 80.60 L454.80 81.06 L455.96 81.49 L457.11 81.89 L458.26 82.23 L459.41 82.50 L460.56 82.73 L461.72 82.96 L462.87 83.18 L464.02 83.39 L465.17 83.59 L466.32 83.76 L467.48 83.90 L468.63 84.01 L469.78 84.08 L470.93 84.10 L472.08 84.10 L473.24 84.10 L474.39 84.10 L475.54 84.10 L476.69 84.10 L477.84 84.10 L479.00 84.10 L480.15 84.10 L481.30 84.10 L482.45 84.10 L483.60 84.10 L484.76 84.10 L485.91 84.10 L487.06 84.10 L488.21 84.10 L489.36 84.10 L490.52 84.10 L491.67 84.10 L492.82 84.10 L493.97 84.10 L495.12 84.10 L496.28 84.10 L497.43 84.10 L498.58 84.10 L499.73 84.10 L500.88 84.10 L502.04 84.10 L503.19 84.10 L504.34 84.10 L505.49 84.10 L506.64 84.10 L507.80 84.10 L508.95 84.10 L510.10 84.10 L511.25 84.10 L512.40 84.10 L513.56 84.10 L514.71 84.10 L515.86 84.10 L517.01 84.10 L518.16 84.10 L519.32 84.10 L520.47 84.10 L521.62 84.10 L522.77 84.10 L523.92 84.10 L525.08 84.10 L526.23 84.10 L527.38 84.10 L528.53 84.10 L529.68 84.10 L530.84 84.10 L531.99 84.10 L533.14 84.10 L534.29 84.10 L535.44 84.10 L536.60 84.10 L537.75 84.10 L538.90 84.10" fill="none" stroke="#00e6e6" stroke-width="1.1" stroke-linejoin="round"/>
<polygon points="309.65,46.80 310.42,48.75 312.51,48.87 310.89,50.20 311.42,52.23 309.65,51.10 307.89,52.23 308.42,50.20 306.80,48.87 308.89,48.75" fill="#00e6e6"/>
<polygon points="321.17,66.90 321.94,68.85 324.03,68.97 322.41,70.30 322.94,72.33 321.17,71.20 319.41,72.33 319.94,70.30 318.32,68.97 320.41,68.85" fill="#00e6e6"/>
<polygon points="332.69,68.60 333.46,70.55 335.55,70.67 333.93,72.00 334.46,74.03 332.69,72.90 330.93,74.03 331.46,72.00 329.84,70.67 331.93,70.55" fill="#00e6e6"/>
<polygon points="344.21,69.00 344.98,70.95 347.07,71.07 345.45,72.40 345.98,74.43 344.21,73.30 342.45,74.43 342.98,72.40 341.36,71.07 343.45,70.95" fill="#00e6e6"/>
<polygon points="355.73,69.10 356.50,71.05 358.59,71.17 356.97,72.50 357.50,74.53 355.73,73.40 353.97,74.53 354.50,72.50 352.88,71.17 354.97,71.05" fill="#00e6e6"/>
<polygon points="367.25,69.20 368.02,71.15 370.11,71.27 368.49,72.60 369.02,74.63 367.25,73.50 365.49,74.63 366.02,72.60 364.40,71.27 366.49,71.15" fill="#00e6e6"/>
<polygon points="378.77,69.50 379.54,71.45 381.63,71.57 380.01,72.90 380.54,74.93 378.77,73.80 377.01,74.93 377.54,72.90 375.92,71.57 378.01,71.45" fill="#00e6e6"/>
<polygon points="390.29,69.70 391.06,71.65 393.15,71.77 391.53,73.10 392.06,75.13 390.29,74.00 388.53,75.13 389.06,73.10 387.44,71.77 389.53,71.65" fill="#00e6e6"/>
<polygon points="401.81,69.80 402.58,71.75 404.67,71.87 403.05,73.20 403.58,75.23 401.81,74.10 400.05,75.23 400.58,73.20 398.96,71.87 401.05,71.75" fill="#00e6e6"/>
<polygon points="413.33,70.00 414.10,71.95 416.19,72.07 414.57,73.40 415.10,75.43 413.33,74.30 411.57,75.43 412.10,73.40 410.48,72.07 412.57,71.95" fill="#00e6e6"/>
<polygon points="424.85,70.70 425.62,72.65 427.71,72.77 426.09,74.10 426.62,76.13 424.85,75.00 423.09,76.13 423.62,74.10 422.00,72.77 424.09,72.65" fill="#00e6e6"/>
<polygon points="436.37,72.40 437.14,74.35 439.23,74.47 437.61,75.80 438.14,77.83 436.37,76.70 434.61,77.83 435.14,75.80 433.52,74.47 435.61,74.35" fill="#00e6e6"/>
<polygon points="447.89,75.40 448.66,77.35 450.75,77.47 449.13,78.80 449.66,80.83 447.89,79.70 446.13,80.83 446.66,78.80 445.04,77.47 447.13,77.35" fill="#00e6e6"/>
<polygon points="459.41,79.50 460.18,81.45 462.27,81.57 460.65,82.90 461.18,84.93 459.41,83.80 457.65,84.93 458.18,82.90 456.56,81.57 458.65,81.45" fill="#00e6e6"/>
<polygon points="470.93,81.10 471.70,83.05 473.79,83.17 472.17,84.50 472.70,86.53 470.93,85.40 469.17,86.53 469.70,84.50 468.08,83.17 470.17,83.05" fill="#00e6e6"/>
<polygon points="482.45,81.10 483.22,83.05 485.31,83.17 483.69,84.50 484.22,86.53 482.45,85.40 480.69,86.53 481.22,84.50 479.60,83.17 481.69,83.05" fill="#00e6e6"/>
<polygon points="493.97,81.10 494.74,83.05 496.83,83.17 495.21,84.50 495.74,86.53 493.97,85.40 492.21,86.53 492.74,84.50 491.12,83.17 493.21,83.05" fill="#00e6e6"/>
<polygon points="505.49,81.10 506.26,83.05 508.35,83.17 506.73,84.50 507.26,86.53 505.49,85.40 503.73,86.53 504.26,84.50 502.64,83.17 504.73,83.05" fill="#00e6e6"/>
<polygon points="517.01,81.10 517.78,83.05 519.87,83.17 518.25,84.50 518.78,86.53 517.01,85.40 515.25,86.53 515.78,84.50 514.16,83.17 516.25,83.05" fill="#00e6e6"/>
<polygon points="528.53,81.10 529.30,83.05 531.39,83.17 529.77,84.50 530.30,86.53 528.53,85.40 526.77,86.53 527.30,84.50 525.68,83.17 527.77,83.05" fill="#00e6e6"/>
<path d="M309.65 46.60 L310.80 48.37 L311.96 50.00 L313.11 51.32 L314.26 52.48 L315.41 53.50 L316.56 54.40 L317.72 55.20 L318.87 55.95 L320.02 56.67 L321.17 57.40 L322.32 58.15 L323.48 58.90 L324.63 59.65 L325.78 60.40 L326.93 61.13 L328.08 61.85 L329.24 62.54 L330.39 63.20 L331.54 63.82 L332.69 64.40 L333.84 64.94 L335.00 65.44 L336.15 65.91 L337.30 66.37 L338.45 66.81 L339.60 67.24 L340.76 67.67 L341.91 68.10 L343.06 68.54 L344.21 69.00 L345.36 69.49 L346.52 70.00 L347.67 70.52 L348.82 71.05 L349.97 71.58 L351.12 72.09 L352.28 72.58 L353.43 73.03 L354.58 73.44 L355.73 73.80 L356.88 74.11 L358.04 74.39 L359.19 74.65 L360.34 74.88 L361.49 75.11 L362.64 75.33 L363.80 75.55 L364.95 75.79 L366.10 76.03 L367.25 76.30 L368.40 76.59 L369.56 76.90 L370.71 77.23 L371.86 77.56 L373.01 77.90 L374.16 78.24 L375.32 78.57 L376.47 78.90 L377.62 79.21 L378.77 79.50 L379.92 79.77 L381.08 80.03 L382.23 80.27 L383.38 80.51 L384.53 80.75 L385.68 80.98 L386.84 81.22 L387.99 81.47 L389.14 81.72 L390.29 82.00 L391.44 82.30 L392.60 82.62 L393.75 82.96 L394.90 83.30 L396.05 83.66 L397.20 84.01 L398.36 84.36 L399.51 84.69 L400.66 85.01 L401.81 85.30 L402.96 85.57 L404.12 85.83 L405.27 86.07 L406.42 86.31 L407.57 86.54 L408.72 86.77 L409.88 87.00 L411.03 87.23 L412.18 87.46 L413.33 87.70 L414.48 87.94 L415.64 88.19 L416.79 88.43 L417.94 88.67 L419.09 88.92 L420.24 89.17 L421.40 89.42 L422.55 89.67 L423.70 89.93 L424.85 90.20 L426.00 90.48 L427.16 90.76 L428.31 91.06 L429.46 91.36 L430.61 91.66 L431.76 91.96 L432.92 92.26 L434.07 92.55 L435.22 92.83 L436.37 93.10 L437.52 93.36 L438.68 93.62 L439.83 93.87 L440.98 94.13 L442.13 94.37 L443.28 94.61 L444.44 94.84 L445.59 95.07 L446.74 95.29 L447.89 95.50 L449.04 95.70 L450.20 95.89 L451.35 96.08 L452.50 96.26 L453.65 96.44 L454.80 96.61 L455.96 96.78 L457.11 96.95 L458.26 97.13 L459.41 97.30 L460.56 97.47 L461.72 97.64 L462.87 97.80 L464.02 97.96 L465.17 98.12 L466.32 98.28 L467.48 98.45 L468.63 98.62 L469.78 98.81 L470.93 99.00 L472.08 99.21 L473.24 99.43 L474.39 99.66 L475.54 99.91 L476.69 100.16 L477.84 100.41 L479.00 100.66 L480.15 100.91 L481.30 101.16 L482.45 101.40 L483.60 101.64 L484.76 101.87 L485.91 102.11 L487.06 102.35 L488.21 102.58 L489.36 102.82 L490.52 103.05 L491.67 103.27 L492.82 103.49 L493.97 103.70 L495.12 103.91 L496.28 104.11 L497.43 104.30 L498.58 104.50 L499.73 104.69 L500.88 104.87 L502.04 105.06 L503.19 105.24 L504.34 105.42 L505.49 105.60 L506.64 105.78 L507.80 105.95 L508.95 106.13 L510.10 106.30 L511.25 106.47 L512.40 106.64 L513.56 106.80 L514.71 106.97 L515.86 107.14 L517.01 107.30 L518.16 107.46 L519.32 107.63 L520.47 107.79 L521.62 107.95 L522.77 108.11 L523.92 108.27 L525.08 108.43 L526.23 108.58 L527.38 108.74 L528.53 108.90 L529.68 109.06 L530.84 109.21 L531.99 109.37 L533.14 109.52 L534.29 109.68 L535.44 109.83 L536.60 109.99 L537.75 110.14 L538.90 110.30" fill="none" stroke="#f000f0" stroke-width="1.1" stroke-linejoin="round"/>
<circle cx="309.65" cy="46.60" r="1.8" fill="#f080f0" stroke="#f000f0" stroke-width="0.8"/>
<circle cx="321.17" cy="57.40" r="1.8" fill="#f080f0" stroke="#f000f0" stroke-width="0.8"/>
<circle cx="332.69" cy="64.40" r="1.8" fill="#f080f0" stroke="#f000f0" stroke-width="0.8"/>
<circle cx="344.21" cy="69.00" r="1.8" fill="#f080f0" stroke="#f000f0" stroke-width="0.8"/>
<circle cx="355.73" cy="73.80" r="1.8" fill="#f080f0" stroke="#f000f0" stroke-width="0.8"/>
<circle cx="367.25" cy="76.30" r="1.8" fill="#f080f0" stroke="#f000f0" stroke-width="0.8"/>
<circle cx="378.77" cy="79.50" r="1.8" fill="#f080f0" stroke="#f000f0" stroke-width="0.8"/>
<circle cx="390.29" cy="82.00" r="1.8" fill="#f080f0" stroke="#f000f0" stroke-width="0.8"/>
<circle cx="401.81" cy="85.30" r="1.8" fill="#f080f0" stroke="#f000f0" stroke-width="0.8"/>
<circle cx="413.33" cy="87.70" r="1.8" fill="#f080f0" stroke="#f000f0" stroke-width="0.8"/>
<circle cx="424.85" cy="90.20" r="1.8" fill="#f080f0" stroke="#f000f0" stroke-width="0.8"/>
<circle cx="436.37" cy="93.10" r="1.8" fill="#f080f0" stroke="#f000f0" stroke-width="0.8"/>
<circle cx="447.89" cy="95.50" r="1.8" fill="#f080f0" stroke="#f000f0" stroke-width="0.8"/>
<circle cx="459.41" cy="97.30" r="1.8" fill="#f080f0" stroke="#f000f0" stroke-width="0.8"/>
<circle cx="470.93" cy="99.00" r="1.8" fill="#f080f0" stroke="#f000f0" stroke-width="0.8"/>
<circle cx="482.45" cy="101.40" r="1.8" fill="#f080f0" stroke="#f000f0" stroke-width="0.8"/>
<circle cx="493.97" cy="103.70" r="1.8" fill="#f080f0" stroke="#f000f0" stroke-width="0.8"/>
<circle cx="505.49" cy="105.60" r="1.8" fill="#f080f0" stroke="#f000f0" stroke-width="0.8"/>
<circle cx="517.01" cy="107.30" r="1.8" fill="#f080f0" stroke="#f000f0" stroke-width="0.8"/>
<circle cx="528.53" cy="108.90" r="1.8" fill="#f080f0" stroke="#f000f0" stroke-width="0.8"/>
<path d="M309.65 25.20 L310.80 55.00 L311.96 65.00 L313.11 68.21 L314.26 70.00 L315.41 71.20 L316.56 72.00 L317.72 72.58 L318.87 73.06 L320.02 73.44 L321.17 73.70 L322.32 73.88 L323.48 74.02 L324.63 74.12 L325.78 74.21 L326.93 74.28 L328.08 74.36 L329.24 74.45 L330.39 74.56 L331.54 74.71 L332.69 74.90 L333.84 75.23 L335.00 75.76 L336.15 76.43 L337.30 77.20 L338.45 78.00 L339.60 78.99 L340.76 80.22 L341.91 81.54 L343.06 82.79 L344.21 83.80 L345.36 84.62 L346.52 85.41 L347.67 86.15 L348.82 86.85 L349.97 87.51 L351.12 88.12 L352.28 88.69 L353.43 89.21 L354.58 89.68 L355.73 90.10 L356.88 90.49 L358.04 90.87 L359.19 91.22 L360.34 91.56 L361.49 91.87 L362.64 92.16 L363.80 92.42 L364.95 92.65 L366.10 92.84 L367.25 93.00 L368.40 93.13 L369.56 93.24 L370.71 93.33 L371.86 93.42 L373.01 93.49 L374.16 93.57 L375.32 93.64 L376.47 93.72 L377.62 93.80 L378.77 93.90 L379.92 94.00 L381.08 94.11 L382.23 94.22 L383.38 94.34 L384.53 94.46 L385.68 94.58 L386.84 94.70 L387.99 94.83 L389.14 94.96 L390.29 95.10 L391.44 95.24 L392.60 95.40 L393.75 95.56 L394.90 95.73 L396.05 95.90 L397.20 96.07 L398.36 96.24 L399.51 96.40 L400.66 96.56 L401.81 96.70 L402.96 96.83 L404.12 96.96 L405.27 97.09 L406.42 97.20 L407.57 97.32 L408.72 97.44 L409.88 97.55 L411.03 97.67 L412.18 97.78 L413.33 97.90 L414.48 98.02 L415.64 98.13 L416.79 98.25 L417.94 98.36 L419.09 98.48 L420.24 98.60 L421.40 98.71 L422.55 98.84 L423.70 98.97 L424.85 99.10 L426.00 99.24 L427.16 99.39 L428.31 99.55 L429.46 99.72 L430.61 99.88 L431.76 100.05 L432.92 100.22 L434.07 100.39 L435.22 100.55 L436.37 100.70 L437.52 100.85 L438.68 101.00 L439.83 101.15 L440.98 101.30 L442.13 101.45 L443.28 101.59 L444.44 101.73 L445.59 101.86 L446.74 101.99 L447.89 102.10 L449.04 102.21 L450.20 102.31 L451.35 102.41 L452.50 102.50 L453.65 102.59 L454.80 102.67 L455.96 102.76 L457.11 102.84 L458.26 102.92 L459.41 103.00 L460.56 103.08 L461.72 103.16 L462.87 103.25 L464.02 103.33 L465.17 103.41 L466.32 103.48 L467.48 103.55 L468.63 103.61 L469.78 103.66 L470.93 103.70 L472.08 103.73 L473.24 103.76 L474.39 103.78 L475.54 103.80 L476.69 103.82 L477.84 103.84 L479.00 103.86 L480.15 103.87 L481.30 103.89 L482.45 103.90 L483.60 103.91 L484.76 103.92 L485.91 103.93 L487.06 103.94 L488.21 103.95 L489.36 103.96 L490.52 103.97 L491.67 103.98 L492.82 103.99 L493.97 104.00 L495.12 104.01 L496.28 104.02 L497.43 104.03 L498.58 104.04 L499.73 104.05 L500.88 104.06 L502.04 104.07 L503.19 104.08 L504.34 104.09 L505.49 104.10 L506.64 104.11 L507.80 104.12 L508.95 104.13 L510.10 104.14 L511.25 104.15 L512.40 104.16 L513.56 104.17 L514.71 104.18 L515.86 104.19 L517.01 104.20 L518.16 104.21 L519.32 104.22 L520.47 104.23 L521.62 104.24 L522.77 104.25 L523.92 104.26 L525.08 104.27 L526.23 104.28 L527.38 104.29 L528.53 104.30 L529.68 104.32 L530.84 104.33 L531.99 104.34 L533.14 104.35 L534.29 104.36 L535.44 104.37 L536.60 104.38 L537.75 104.39 L538.90 104.40" fill="none" stroke="#2e2e2e" stroke-width="1.1" stroke-linejoin="round"/>
<path d="M307.12 25.20L311.52 23.00L311.52 27.40Z" stroke="#2e2e2e" stroke-width="0.9" fill="none"/>
<path d="M318.64 73.70L323.04 71.50L323.04 75.90Z" stroke="#2e2e2e" stroke-width="0.9" fill="none"/>
<path d="M330.16 74.90L334.56 72.70L334.56 77.10Z" stroke="#2e2e2e" stroke-width="0.9" fill="none"/>
<path d="M341.68 83.80L346.08 81.60L346.08 86.00Z" stroke="#2e2e2e" stroke-width="0.9" fill="none"/>
<path d="M353.20 90.10L357.60 87.90L357.60 92.30Z" stroke="#2e2e2e" stroke-width="0.9" fill="none"/>
<path d="M364.72 93.00L369.12 90.80L369.12 95.20Z" stroke="#2e2e2e" stroke-width="0.9" fill="none"/>
<path d="M376.24 93.90L380.64 91.70L380.64 96.10Z" stroke="#2e2e2e" stroke-width="0.9" fill="none"/>
<path d="M387.76 95.10L392.16 92.90L392.16 97.30Z" stroke="#2e2e2e" stroke-width="0.9" fill="none"/>
<path d="M399.28 96.70L403.68 94.50L403.68 98.90Z" stroke="#2e2e2e" stroke-width="0.9" fill="none"/>
<path d="M410.80 97.90L415.20 95.70L415.20 100.10Z" stroke="#2e2e2e" stroke-width="0.9" fill="none"/>
<path d="M422.32 99.10L426.72 96.90L426.72 101.30Z" stroke="#2e2e2e" stroke-width="0.9" fill="none"/>
<path d="M433.84 100.70L438.24 98.50L438.24 102.90Z" stroke="#2e2e2e" stroke-width="0.9" fill="none"/>
<path d="M445.36 102.10L449.76 99.90L449.76 104.30Z" stroke="#2e2e2e" stroke-width="0.9" fill="none"/>
<path d="M456.88 103.00L461.28 100.80L461.28 105.20Z" stroke="#2e2e2e" stroke-width="0.9" fill="none"/>
<path d="M468.40 103.70L472.80 101.50L472.80 105.90Z" stroke="#2e2e2e" stroke-width="0.9" fill="none"/>
<path d="M479.92 103.90L484.32 101.70L484.32 106.10Z" stroke="#2e2e2e" stroke-width="0.9" fill="none"/>
<path d="M491.44 104.00L495.84 101.80L495.84 106.20Z" stroke="#2e2e2e" stroke-width="0.9" fill="none"/>
<path d="M502.96 104.10L507.36 101.90L507.36 106.30Z" stroke="#2e2e2e" stroke-width="0.9" fill="none"/>
<path d="M514.48 104.20L518.88 102.00L518.88 106.40Z" stroke="#2e2e2e" stroke-width="0.9" fill="none"/>
<path d="M526.00 104.30L530.40 102.10L530.40 106.50Z" stroke="#2e2e2e" stroke-width="0.9" fill="none"/>
<path d="M309.65 86.10 L310.80 89.61 L311.96 93.00 L313.11 96.12 L314.26 99.00 L315.41 101.74 L316.56 104.31 L317.72 106.50 L318.87 108.44 L320.02 110.15 L321.17 111.20 L322.32 111.75 L323.48 112.23 L324.63 112.64 L325.78 112.99 L326.93 113.30 L328.08 113.56 L329.24 113.78 L330.39 113.97 L331.54 114.14 L332.69 114.30 L333.84 114.44 L335.00 114.57 L336.15 114.69 L337.30 114.79 L338.45 114.89 L339.60 114.97 L340.76 115.06 L341.91 115.14 L343.06 115.22 L344.21 115.30 L345.36 115.38 L346.52 115.45 L347.67 115.52 L348.82 115.58 L349.97 115.65 L351.12 115.71 L352.28 115.77 L353.43 115.84 L354.58 115.92 L355.73 116.00 L356.88 116.10 L358.04 116.22 L359.19 116.36 L360.34 116.51 L361.49 116.66 L362.64 116.79 L363.80 116.92 L364.95 117.01 L366.10 117.08 L367.25 117.10 L368.40 117.10 L369.56 117.10 L370.71 117.10 L371.86 117.10 L373.01 117.10 L374.16 117.10 L375.32 117.10 L376.47 117.10 L377.62 117.10 L378.77 117.10 L379.92 117.11 L381.08 117.12 L382.23 117.15 L383.38 117.18 L384.53 117.22 L385.68 117.27 L386.84 117.32 L387.99 117.38 L389.14 117.44 L390.29 117.50 L391.44 117.58 L392.60 117.69 L393.75 117.83 L394.90 117.98 L396.05 118.14 L397.20 118.30 L398.36 118.45 L399.51 118.59 L400.66 118.71 L401.81 118.80 L402.96 118.87 L404.12 118.92 L405.27 118.97 L406.42 119.01 L407.57 119.05 L408.72 119.09 L409.88 119.13 L411.03 119.18 L412.18 119.24 L413.33 119.30 L414.48 119.37 L415.64 119.45 L416.79 119.54 L417.94 119.64 L419.09 119.75 L420.24 119.87 L421.40 120.01 L422.55 120.16 L423.70 120.32 L424.85 120.50 L426.00 120.75 L427.16 121.10 L428.31 121.52 L429.46 122.01 L430.61 122.54 L431.76 123.08 L432.92 123.62 L434.07 124.13 L435.22 124.60 L436.37 125.00 L437.52 125.35 L438.68 125.70 L439.83 126.03 L440.98 126.34 L442.13 126.65 L443.28 126.94 L444.44 127.23 L445.59 127.50 L446.74 127.75 L447.89 128.00 L449.04 128.23 L450.20 128.45 L451.35 128.65 L452.50 128.84 L453.65 129.03 L454.80 129.22 L455.96 129.40 L457.11 129.59 L458.26 129.79 L459.41 130.00 L460.56 130.21 L461.72 130.43 L462.87 130.65 L464.02 130.87 L465.17 131.10 L466.32 131.33 L467.48 131.56 L468.63 131.80 L469.78 132.05 L470.93 132.30 L472.08 132.57 L473.24 132.86 L474.39 133.17 L475.54 133.49 L476.69 133.81 L477.84 134.13 L479.00 134.43 L480.15 134.72 L481.30 134.97 L482.45 135.20 L483.60 135.40 L484.76 135.58 L485.91 135.75 L487.06 135.92 L488.21 136.07 L489.36 136.22 L490.52 136.36 L491.67 136.51 L492.82 136.65 L493.97 136.80 L495.12 136.95 L496.28 137.10 L497.43 137.24 L498.58 137.39 L499.73 137.53 L500.88 137.67 L502.04 137.81 L503.19 137.94 L504.34 138.07 L505.49 138.20 L506.64 138.32 L507.80 138.44 L508.95 138.55 L510.10 138.65 L511.25 138.76 L512.40 138.87 L513.56 138.97 L514.71 139.08 L515.86 139.19 L517.01 139.30 L518.16 139.42 L519.32 139.54 L520.47 139.66 L521.62 139.78 L522.77 139.91 L523.92 140.03 L525.08 140.15 L526.23 140.27 L527.38 140.39 L528.53 140.50 L529.68 140.61 L530.84 140.71 L531.99 140.81 L533.14 140.91 L534.29 141.01 L535.44 141.11 L536.60 141.20 L537.75 141.30 L538.90 141.40" fill="none" stroke="#ff1818" stroke-width="1.1" stroke-linejoin="round"/>
<circle cx="309.65" cy="86.10" r="2.1" fill="none" stroke="#ff1818" stroke-width="0.95"/>
<circle cx="321.17" cy="111.20" r="2.1" fill="none" stroke="#ff1818" stroke-width="0.95"/>
<circle cx="332.69" cy="114.30" r="2.1" fill="none" stroke="#ff1818" stroke-width="0.95"/>
<circle cx="344.21" cy="115.30" r="2.1" fill="none" stroke="#ff1818" stroke-width="0.95"/>
<circle cx="355.73" cy="116.00" r="2.1" fill="none" stroke="#ff1818" stroke-width="0.95"/>
<circle cx="367.25" cy="117.10" r="2.1" fill="none" stroke="#ff1818" stroke-width="0.95"/>
<circle cx="378.77" cy="117.10" r="2.1" fill="none" stroke="#ff1818" stroke-width="0.95"/>
<circle cx="390.29" cy="117.50" r="2.1" fill="none" stroke="#ff1818" stroke-width="0.95"/>
<circle cx="401.81" cy="118.80" r="2.1" fill="none" stroke="#ff1818" stroke-width="0.95"/>
<circle cx="413.33" cy="119.30" r="2.1" fill="none" stroke="#ff1818" stroke-width="0.95"/>
<circle cx="424.85" cy="120.50" r="2.1" fill="none" stroke="#ff1818" stroke-width="0.95"/>
<circle cx="436.37" cy="125.00" r="2.1" fill="none" stroke="#ff1818" stroke-width="0.95"/>
<circle cx="447.89" cy="128.00" r="2.1" fill="none" stroke="#ff1818" stroke-width="0.95"/>
<circle cx="459.41" cy="130.00" r="2.1" fill="none" stroke="#ff1818" stroke-width="0.95"/>
<circle cx="470.93" cy="132.30" r="2.1" fill="none" stroke="#ff1818" stroke-width="0.95"/>
<circle cx="482.45" cy="135.20" r="2.1" fill="none" stroke="#ff1818" stroke-width="0.95"/>
<circle cx="493.97" cy="136.80" r="2.1" fill="none" stroke="#ff1818" stroke-width="0.95"/>
<circle cx="505.49" cy="138.20" r="2.1" fill="none" stroke="#ff1818" stroke-width="0.95"/>
<circle cx="517.01" cy="139.30" r="2.1" fill="none" stroke="#ff1818" stroke-width="0.95"/>
<circle cx="528.53" cy="140.50" r="2.1" fill="none" stroke="#ff1818" stroke-width="0.95"/>
<rect x="308.50" y="6.60" width="230.4" height="155.0" fill="none" stroke="#646464" stroke-width="1.0"/>
<path d="M308.50 161.60V159.00M308.50 6.60V9.20" stroke="#646464" stroke-width="0.9"/>
<text x="308.50" y="173.60" text-anchor="middle" font-size="9.0" fill="#222" font-family="Liberation Serif, serif">0</text>
<path d="M366.10 161.60V159.00M366.10 6.60V9.20" stroke="#646464" stroke-width="0.9"/>
<text x="366.10" y="173.60" text-anchor="middle" font-size="9.0" fill="#222" font-family="Liberation Serif, serif">50</text>
<path d="M423.70 161.60V159.00M423.70 6.60V9.20" stroke="#646464" stroke-width="0.9"/>
<text x="423.70" y="173.60" text-anchor="middle" font-size="9.0" fill="#222" font-family="Liberation Serif, serif">100</text>
<path d="M481.30 161.60V159.00M481.30 6.60V9.20" stroke="#646464" stroke-width="0.9"/>
<text x="481.30" y="173.60" text-anchor="middle" font-size="9.0" fill="#222" font-family="Liberation Serif, serif">150</text>
<path d="M538.90 161.60V159.00M538.90 6.60V9.20" stroke="#646464" stroke-width="0.9"/>
<text x="538.90" y="173.60" text-anchor="middle" font-size="9.0" fill="#222" font-family="Liberation Serif, serif">200</text>
<path d="M308.50 161.60H311.10M538.90 161.60H536.30" stroke="#646464" stroke-width="0.9"/>
<text x="305.80" y="165.10" text-anchor="end" letter-spacing="-0.12" font-size="8.9" fill="#222" style="stroke-width:0.3px" font-family="Liberation Serif, serif">0.20</text>
<path d="M308.50 130.60H311.10M538.90 130.60H536.30" stroke="#646464" stroke-width="0.9"/>
<text x="305.80" y="134.10" text-anchor="end" letter-spacing="-0.12" font-size="8.9" fill="#222" style="stroke-width:0.3px" font-family="Liberation Serif, serif">0.25</text>
<path d="M308.50 99.60H311.10M538.90 99.60H536.30" stroke="#646464" stroke-width="0.9"/>
<text x="305.80" y="103.10" text-anchor="end" letter-spacing="-0.12" font-size="8.9" fill="#222" style="stroke-width:0.3px" font-family="Liberation Serif, serif">0.30</text>
<path d="M308.50 68.60H311.10M538.90 68.60H536.30" stroke="#646464" stroke-width="0.9"/>
<text x="305.80" y="72.10" text-anchor="end" letter-spacing="-0.12" font-size="8.9" fill="#222" style="stroke-width:0.3px" font-family="Liberation Serif, serif">0.35</text>
<path d="M308.50 37.60H311.10M538.90 37.60H536.30" stroke="#646464" stroke-width="0.9"/>
<text x="305.80" y="41.10" text-anchor="end" letter-spacing="-0.12" font-size="8.9" fill="#222" style="stroke-width:0.3px" font-family="Liberation Serif, serif">0.40</text>
<path d="M308.50 6.60H311.10M538.90 6.60H536.30" stroke="#646464" stroke-width="0.9"/>
<text x="305.80" y="10.10" text-anchor="end" letter-spacing="-0.12" font-size="8.9" fill="#222" style="stroke-width:0.3px" font-family="Liberation Serif, serif">0.45</text>
<text x="423.70" y="184.90" text-anchor="middle" font-size="10.2" fill="#222" font-family="Liberation Serif, serif">Iter</text>
<text transform="translate(287.90 84.10) rotate(-90)" text-anchor="middle" font-size="9.1" letter-spacing="0.24" fill="#333" style="stroke-width:0.12px" font-family="Liberation Serif, serif">mean finess value</text>
<text x="411.70" y="201.00" text-anchor="middle" font-size="10.6" letter-spacing="0.3" fill="#1a1a1a" style="stroke-width:0.08px" font-family="Liberation Serif, serif"><tspan font-weight="bold">(f)</tspan> Task 300</text>
<rect x="489.40" y="11.60" width="44.8" height="62.9" fill="#fff" stroke="#646464" stroke-width="0.8"/>
<path d="M491.30 16.70H509.90" stroke="#3434ff" stroke-width="1.0"/>
<path d="M498.50 16.70H502.90M500.70 14.50V18.90" stroke="#3434ff" stroke-width="0.9" fill="none"/>
<text x="511.40" y="19.60" font-size="7.3" fill="#222" font-family="Liberation Serif, serif">GA</text>
<path d="M491.30 25.48H509.90" stroke="#00ee00" stroke-width="1.0"/>
<circle cx="500.70" cy="25.48" r="1.8" fill="#00ee00"/>
<text x="511.40" y="28.38" font-size="7.3" fill="#222" font-family="Liberation Serif, serif">WOA</text>
<path d="M491.30 34.26H509.90" stroke="#2a2aff" stroke-width="1.0"/>
<path d="M503.23 34.26L498.83 32.06L498.83 36.46Z" stroke="#2a2aff" stroke-width="0.9" fill="none"/>
<text x="511.40" y="37.16" font-size="7.3" fill="#222" font-family="Liberation Serif, serif">GWO</text>
<path d="M491.30 43.04H509.90" stroke="#00e6e6" stroke-width="1.0"/>
<polygon points="500.70,40.04 501.46,41.99 503.55,42.11 501.94,43.44 502.46,45.47 500.70,44.34 498.94,45.47 499.46,43.44 497.85,42.11 499.94,41.99" fill="#00e6e6"/>
<text x="511.40" y="45.94" font-size="7.3" fill="#222" font-family="Liberation Serif, serif">SSA</text>
<path d="M491.30 51.82H509.90" stroke="#f000f0" stroke-width="1.0"/>
<circle cx="500.70" cy="51.82" r="1.8" fill="#f080f0" stroke="#f000f0" stroke-width="0.8"/>
<text x="511.40" y="54.72" font-size="7.3" fill="#222" font-family="Liberation Serif, serif">PSO</text>
<path d="M491.30 60.60H509.90" stroke="#2e2e2e" stroke-width="1.0"/>
<path d="M498.17 60.60L502.57 58.40L502.57 62.80Z" stroke="#2e2e2e" stroke-width="0.9" fill="none"/>
<text x="511.40" y="63.50" font-size="7.3" fill="#222" font-family="Liberation Serif, serif">ALO</text>
<path d="M491.30 69.38H509.90" stroke="#ff1818" stroke-width="1.0"/>
<circle cx="500.70" cy="69.38" r="2.1" fill="none" stroke="#ff1818" stroke-width="0.95"/>
<text x="511.40" y="72.28" font-size="7.3" fill="#222" font-family="Liberation Serif, serif">HALO</text>
<path d="M33.65 251.70 L34.80 253.39 L35.96 255.00 L37.11 256.45 L38.26 257.81 L39.41 259.00 L40.56 260.02 L41.72 260.93 L42.87 261.78 L44.02 262.62 L45.17 263.50 L46.32 264.44 L47.48 265.41 L48.63 266.41 L49.78 267.41 L50.93 268.41 L52.08 269.40 L53.24 270.36 L54.39 271.29 L55.54 272.17 L56.69 273.00 L57.84 273.78 L59.00 274.55 L60.15 275.30 L61.30 276.02 L62.45 276.72 L63.60 277.40 L64.76 278.05 L65.91 278.66 L67.06 279.25 L68.21 279.80 L69.36 280.33 L70.52 280.85 L71.67 281.36 L72.82 281.85 L73.97 282.31 L75.12 282.75 L76.28 283.17 L77.43 283.55 L78.58 283.89 L79.73 284.20 L80.88 284.47 L82.04 284.72 L83.19 284.95 L84.34 285.17 L85.49 285.37 L86.64 285.56 L87.80 285.75 L88.95 285.93 L90.10 286.11 L91.25 286.30 L92.40 286.49 L93.56 286.67 L94.71 286.85 L95.86 287.03 L97.01 287.20 L98.16 287.37 L99.32 287.53 L100.47 287.69 L101.62 287.85 L102.77 288.00 L103.92 288.15 L105.08 288.29 L106.23 288.43 L107.38 288.57 L108.53 288.70 L109.68 288.83 L110.84 288.96 L111.99 289.08 L113.14 289.19 L114.29 289.30 L115.44 289.40 L116.60 289.50 L117.75 289.60 L118.90 289.69 L120.05 289.78 L121.20 289.86 L122.36 289.95 L123.51 290.03 L124.66 290.12 L125.81 290.20 L126.96 290.28 L128.12 290.36 L129.27 290.43 L130.42 290.50 L131.57 290.57 L132.72 290.64 L133.88 290.72 L135.03 290.80 L136.18 290.90 L137.33 291.00 L138.48 291.13 L139.64 291.28 L140.79 291.46 L141.94 291.65 L143.09 291.85 L144.24 292.06 L145.40 292.26 L146.55 292.46 L147.70 292.64 L148.85 292.80 L150.00 292.95 L151.16 293.08 L152.31 293.21 L153.46 293.33 L154.61 293.45 L155.76 293.57 L156.92 293.69 L158.07 293.82 L159.22 293.95 L160.37 294.10 L161.52 294.26 L162.68 294.43 L163.83 294.60 L164.98 294.79 L166.13 294.98 L167.28 295.17 L168.44 295.36 L169.59 295.54 L170.74 295.73 L171.89 295.90 L173.04 296.07 L174.20 296.23 L175.35 296.39 L176.50 296.55 L177.65 296.71 L178.80 296.87 L179.96 297.03 L181.11 297.18 L182.26 297.34 L183.41 297.50 L184.56 297.66 L185.72 297.82 L186.87 297.97 L188.02 298.13 L189.17 298.29 L190.32 298.45 L191.48 298.61 L192.63 298.77 L193.78 298.93 L194.93 299.10 L196.08 299.27 L197.24 299.45 L198.39 299.62 L199.54 299.80 L200.69 299.99 L201.84 300.17 L203.00 300.35 L204.15 300.54 L205.30 300.72 L206.45 300.90 L207.60 301.08 L208.76 301.26 L209.91 301.45 L211.06 301.63 L212.21 301.81 L213.36 302.00 L214.52 302.18 L215.67 302.35 L216.82 302.53 L217.97 302.70 L219.12 302.87 L220.28 303.04 L221.43 303.21 L222.58 303.38 L223.73 303.54 L224.88 303.70 L226.04 303.86 L227.19 304.01 L228.34 304.16 L229.49 304.30 L230.64 304.43 L231.80 304.57 L232.95 304.69 L234.10 304.82 L235.25 304.94 L236.40 305.05 L237.56 305.17 L238.71 305.28 L239.86 305.39 L241.01 305.50 L242.16 305.61 L243.32 305.70 L244.47 305.80 L245.62 305.89 L246.77 305.98 L247.92 306.07 L249.08 306.17 L250.23 306.27 L251.38 306.38 L252.53 306.50 L253.68 306.63 L254.84 306.78 L255.99 306.95 L257.14 307.12 L258.29 307.29 L259.44 307.47 L260.60 307.65 L261.75 307.83 L262.90 308.00" fill="none" stroke="#3434ff" stroke-width="1.1" stroke-linejoin="round"/>
<path d="M31.45 251.70H35.85M33.65 249.50V253.90" stroke="#3434ff" stroke-width="0.9" fill="none"/>
<path d="M42.97 263.50H47.37M45.17 261.30V265.70" stroke="#3434ff" stroke-width="0.9" fill="none"/>
<path d="M54.49 273.00H58.89M56.69 270.80V275.20" stroke="#3434ff" stroke-width="0.9" fill="none"/>
<path d="M66.01 279.80H70.41M68.21 277.60V282.00" stroke="#3434ff" stroke-width="0.9" fill="none"/>
<path d="M77.53 284.20H81.93M79.73 282.00V286.40" stroke="#3434ff" stroke-width="0.9" fill="none"/>
<path d="M89.05 286.30H93.45M91.25 284.10V288.50" stroke="#3434ff" stroke-width="0.9" fill="none"/>
<path d="M100.57 288.00H104.97M102.77 285.80V290.20" stroke="#3434ff" stroke-width="0.9" fill="none"/>
<path d="M112.09 289.30H116.49M114.29 287.10V291.50" stroke="#3434ff" stroke-width="0.9" fill="none"/>
<path d="M123.61 290.20H128.01M125.81 288.00V292.40" stroke="#3434ff" stroke-width="0.9" fill="none"/>
<path d="M135.13 291.00H139.53M137.33 288.80V293.20" stroke="#3434ff" stroke-width="0.9" fill="none"/>
<path d="M146.65 292.80H151.05M148.85 290.60V295.00" stroke="#3434ff" stroke-width="0.9" fill="none"/>
<path d="M158.17 294.10H162.57M160.37 291.90V296.30" stroke="#3434ff" stroke-width="0.9" fill="none"/>
<path d="M169.69 295.90H174.09M171.89 293.70V298.10" stroke="#3434ff" stroke-width="0.9" fill="none"/>
<path d="M181.21 297.50H185.61M183.41 295.30V299.70" stroke="#3434ff" stroke-width="0.9" fill="none"/>
<path d="M192.73 299.10H197.13M194.93 296.90V301.30" stroke="#3434ff" stroke-width="0.9" fill="none"/>
<path d="M204.25 300.90H208.65M206.45 298.70V303.10" stroke="#3434ff" stroke-width="0.9" fill="none"/>
<path d="M215.77 302.70H220.17M217.97 300.50V304.90" stroke="#3434ff" stroke-width="0.9" fill="none"/>
<path d="M227.29 304.30H231.69M229.49 302.10V306.50" stroke="#3434ff" stroke-width="0.9" fill="none"/>
<path d="M238.81 305.50H243.21M241.01 303.30V307.70" stroke="#3434ff" stroke-width="0.9" fill="none"/>
<path d="M250.33 306.50H254.73M252.53 304.30V308.70" stroke="#3434ff" stroke-width="0.9" fill="none"/>
<path d="M33.65 250.50 L34.80 268.00 L35.96 278.00 L37.11 282.83 L38.26 286.00 L39.41 288.33 L40.56 290.00 L41.72 291.22 L42.87 292.24 L44.02 293.08 L45.17 293.80 L46.32 294.45 L47.48 295.05 L48.63 295.60 L49.78 296.12 L50.93 296.60 L52.08 297.06 L53.24 297.48 L54.39 297.87 L55.54 298.25 L56.69 298.60 L57.84 298.93 L59.00 299.25 L60.15 299.54 L61.30 299.82 L62.45 300.09 L63.60 300.34 L64.76 300.59 L65.91 300.83 L67.06 301.06 L68.21 301.30 L69.36 301.53 L70.52 301.76 L71.67 301.98 L72.82 302.19 L73.97 302.40 L75.12 302.61 L76.28 302.81 L77.43 303.01 L78.58 303.21 L79.73 303.40 L80.88 303.59 L82.04 303.78 L83.19 303.96 L84.34 304.14 L85.49 304.32 L86.64 304.50 L87.80 304.68 L88.95 304.85 L90.10 305.03 L91.25 305.20 L92.40 305.37 L93.56 305.55 L94.71 305.72 L95.86 305.89 L97.01 306.06 L98.16 306.23 L99.32 306.40 L100.47 306.57 L101.62 306.73 L102.77 306.90 L103.92 307.06 L105.08 307.23 L106.23 307.39 L107.38 307.55 L108.53 307.71 L109.68 307.87 L110.84 308.03 L111.99 308.19 L113.14 308.34 L114.29 308.50 L115.44 308.65 L116.60 308.80 L117.75 308.94 L118.90 309.08 L120.05 309.22 L121.20 309.36 L122.36 309.51 L123.51 309.67 L124.66 309.83 L125.81 310.00 L126.96 310.19 L128.12 310.40 L129.27 310.62 L130.42 310.85 L131.57 311.09 L132.72 311.33 L133.88 311.56 L135.03 311.79 L136.18 312.00 L137.33 312.20 L138.48 312.38 L139.64 312.54 L140.79 312.70 L141.94 312.85 L143.09 312.99 L144.24 313.14 L145.40 313.29 L146.55 313.45 L147.70 313.62 L148.85 313.80 L150.00 314.01 L151.16 314.26 L152.31 314.53 L153.46 314.81 L154.61 315.09 L155.76 315.37 L156.92 315.63 L158.07 315.86 L159.22 316.05 L160.37 316.20 L161.52 316.31 L162.68 316.42 L163.83 316.51 L164.98 316.60 L166.13 316.67 L167.28 316.74 L168.44 316.81 L169.59 316.88 L170.74 316.94 L171.89 317.00 L173.04 317.06 L174.20 317.11 L175.35 317.16 L176.50 317.21 L177.65 317.25 L178.80 317.30 L179.96 317.35 L181.11 317.39 L182.26 317.44 L183.41 317.50 L184.56 317.56 L185.72 317.63 L186.87 317.70 L188.02 317.78 L189.17 317.86 L190.32 317.94 L191.48 318.01 L192.63 318.08 L193.78 318.14 L194.93 318.20 L196.08 318.25 L197.24 318.29 L198.39 318.33 L199.54 318.37 L200.69 318.41 L201.84 318.44 L203.00 318.48 L204.15 318.52 L205.30 318.56 L206.45 318.60 L207.60 318.64 L208.76 318.69 L209.91 318.74 L211.06 318.78 L212.21 318.83 L213.36 318.88 L214.52 318.93 L215.67 318.99 L216.82 319.04 L217.97 319.10 L219.12 319.16 L220.28 319.24 L221.43 319.32 L222.58 319.40 L223.73 319.48 L224.88 319.56 L226.04 319.64 L227.19 319.71 L228.34 319.76 L229.49 319.80 L230.64 319.83 L231.80 319.85 L232.95 319.88 L234.10 319.90 L235.25 319.91 L236.40 319.93 L237.56 319.95 L238.71 319.96 L239.86 319.98 L241.01 320.00 L242.16 320.02 L243.32 320.04 L244.47 320.06 L245.62 320.08 L246.77 320.09 L247.92 320.11 L249.08 320.13 L250.23 320.15 L251.38 320.18 L252.53 320.20 L253.68 320.23 L254.84 320.26 L255.99 320.29 L257.14 320.32 L258.29 320.36 L259.44 320.39 L260.60 320.43 L261.75 320.47 L262.90 320.50" fill="none" stroke="#00ee00" stroke-width="1.1" stroke-linejoin="round"/>
<circle cx="33.65" cy="250.50" r="1.8" fill="#00ee00"/>
<circle cx="45.17" cy="293.80" r="1.8" fill="#00ee00"/>
<circle cx="56.69" cy="298.60" r="1.8" fill="#00ee00"/>
<circle cx="68.21" cy="301.30" r="1.8" fill="#00ee00"/>
<circle cx="79.73" cy="303.40" r="1.8" fill="#00ee00"/>
<circle cx="91.25" cy="305.20" r="1.8" fill="#00ee00"/>
<circle cx="102.77" cy="306.90" r="1.8" fill="#00ee00"/>
<circle cx="114.29" cy="308.50" r="1.8" fill="#00ee00"/>
<circle cx="125.81" cy="310.00" r="1.8" fill="#00ee00"/>
<circle cx="137.33" cy="312.20" r="1.8" fill="#00ee00"/>
<circle cx="148.85" cy="313.80" r="1.8" fill="#00ee00"/>
<circle cx="160.37" cy="316.20" r="1.8" fill="#00ee00"/>
<circle cx="171.89" cy="317.00" r="1.8" fill="#00ee00"/>
<circle cx="183.41" cy="317.50" r="1.8" fill="#00ee00"/>
<circle cx="194.93" cy="318.20" r="1.8" fill="#00ee00"/>
<circle cx="206.45" cy="318.60" r="1.8" fill="#00ee00"/>
<circle cx="217.97" cy="319.10" r="1.8" fill="#00ee00"/>
<circle cx="229.49" cy="319.80" r="1.8" fill="#00ee00"/>
<circle cx="241.01" cy="320.00" r="1.8" fill="#00ee00"/>
<circle cx="252.53" cy="320.20" r="1.8" fill="#00ee00"/>
<path d="M33.65 253.10 L34.80 255.66 L35.96 258.00 L37.11 259.90 L38.26 261.58 L39.41 263.00 L40.56 264.21 L41.72 265.30 L42.87 266.28 L44.02 267.21 L45.17 268.10 L46.32 268.99 L47.48 269.88 L48.63 270.75 L49.78 271.61 L50.93 272.43 L52.08 273.21 L53.24 273.95 L54.39 274.63 L55.54 275.25 L56.69 275.80 L57.84 276.28 L59.00 276.72 L60.15 277.13 L61.30 277.51 L62.45 277.86 L63.60 278.20 L64.76 278.54 L65.91 278.88 L67.06 279.23 L68.21 279.60 L69.36 279.99 L70.52 280.40 L71.67 280.81 L72.82 281.23 L73.97 281.64 L75.12 282.04 L76.28 282.42 L77.43 282.78 L78.58 283.11 L79.73 283.40 L80.88 283.66 L82.04 283.90 L83.19 284.12 L84.34 284.32 L85.49 284.52 L86.64 284.71 L87.80 284.90 L88.95 285.09 L90.10 285.29 L91.25 285.50 L92.40 285.72 L93.56 285.96 L94.71 286.20 L95.86 286.44 L97.01 286.69 L98.16 286.92 L99.32 287.14 L100.47 287.35 L101.62 287.54 L102.77 287.70 L103.92 287.84 L105.08 287.98 L106.23 288.10 L107.38 288.22 L108.53 288.34 L109.68 288.44 L110.84 288.54 L111.99 288.63 L113.14 288.72 L114.29 288.80 L115.44 288.88 L116.60 288.95 L117.75 289.02 L118.90 289.08 L120.05 289.15 L121.20 289.21 L122.36 289.26 L123.51 289.31 L124.66 289.36 L125.81 289.40 L126.96 289.44 L128.12 289.48 L129.27 289.52 L130.42 289.56 L131.57 289.60 L132.72 289.63 L133.88 289.66 L135.03 289.68 L136.18 289.70 L137.33 289.70 L138.48 289.70 L139.64 289.69 L140.79 289.68 L141.94 289.66 L143.09 289.65 L144.24 289.64 L145.40 289.62 L146.55 289.61 L147.70 289.60 L148.85 289.60 L150.00 289.61 L151.16 289.64 L152.31 289.68 L153.46 289.74 L154.61 289.81 L155.76 289.89 L156.92 289.96 L158.07 290.05 L159.22 290.12 L160.37 290.20 L161.52 290.28 L162.68 290.36 L163.83 290.45 L164.98 290.54 L166.13 290.64 L167.28 290.74 L168.44 290.84 L169.59 290.93 L170.74 291.02 L171.89 291.10 L173.04 291.18 L174.20 291.25 L175.35 291.31 L176.50 291.37 L177.65 291.44 L178.80 291.50 L179.96 291.57 L181.11 291.64 L182.26 291.72 L183.41 291.80 L184.56 291.89 L185.72 292.00 L186.87 292.11 L188.02 292.22 L189.17 292.34 L190.32 292.47 L191.48 292.60 L192.63 292.73 L193.78 292.87 L194.93 293.00 L196.08 293.13 L197.24 293.27 L198.39 293.40 L199.54 293.54 L200.69 293.68 L201.84 293.83 L203.00 293.98 L204.15 294.15 L205.30 294.32 L206.45 294.50 L207.60 294.70 L208.76 294.92 L209.91 295.15 L211.06 295.40 L212.21 295.65 L213.36 295.92 L214.52 296.19 L215.67 296.46 L216.82 296.73 L217.97 297.00 L219.12 297.26 L220.28 297.52 L221.43 297.77 L222.58 298.03 L223.73 298.29 L224.88 298.56 L226.04 298.85 L227.19 299.14 L228.34 299.46 L229.49 299.80 L230.64 300.17 L231.80 300.56 L232.95 300.98 L234.10 301.42 L235.25 301.89 L236.40 302.37 L237.56 302.88 L238.71 303.40 L239.86 303.94 L241.01 304.50 L242.16 305.10 L243.32 305.77 L244.47 306.50 L245.62 307.25 L246.77 308.03 L247.92 308.80 L249.08 309.55 L250.23 310.26 L251.38 310.92 L252.53 311.50 L253.68 312.02 L254.84 312.51 L255.99 312.96 L257.14 313.40 L258.29 313.82 L259.44 314.23 L260.60 314.64 L261.75 315.07 L262.90 315.50" fill="none" stroke="#2a2aff" stroke-width="1.1" stroke-linejoin="round"/>
<path d="M36.18 253.10L31.78 250.90L31.78 255.30Z" stroke="#2a2aff" stroke-width="0.9" fill="none"/>
<path d="M47.70 268.10L43.30 265.90L43.30 270.30Z" stroke="#2a2aff" stroke-width="0.9" fill="none"/>
<path d="M59.22 275.80L54.82 273.60L54.82 278.00Z" stroke="#2a2aff" stroke-width="0.9" fill="none"/>
<path d="M70.74 279.60L66.34 277.40L66.34 281.80Z" stroke="#2a2aff" stroke-width="0.9" fill="none"/>
<path d="M82.26 283.40L77.86 281.20L77.86 285.60Z" stroke="#2a2aff" stroke-width="0.9" fill="none"/>
<path d="M93.78 285.50L89.38 283.30L89.38 287.70Z" stroke="#2a2aff" stroke-width="0.9" fill="none"/>
<path d="M105.30 287.70L100.90 285.50L100.90 289.90Z" stroke="#2a2aff" stroke-width="0.9" fill="none"/>
<path d="M116.82 288.80L112.42 286.60L112.42 291.00Z" stroke="#2a2aff" stroke-width="0.9" fill="none"/>
<path d="M128.34 289.40L123.94 287.20L123.94 291.60Z" stroke="#2a2aff" stroke-width="0.9" fill="none"/>
<path d="M139.86 289.70L135.46 287.50L135.46 291.90Z" stroke="#2a2aff" stroke-width="0.9" fill="none"/>
<path d="M151.38 289.60L146.98 287.40L146.98 291.80Z" stroke="#2a2aff" stroke-width="0.9" fill="none"/>
<path d="M162.90 290.20L158.50 288.00L158.50 292.40Z" stroke="#2a2aff" stroke-width="0.9" fill="none"/>
<path d="M174.42 291.10L170.02 288.90L170.02 293.30Z" stroke="#2a2aff" stroke-width="0.9" fill="none"/>
<path d="M185.94 291.80L181.54 289.60L181.54 294.00Z" stroke="#2a2aff" stroke-width="0.9" fill="none"/>
<path d="M197.46 293.00L193.06 290.80L193.06 295.20Z" stroke="#2a2aff" stroke-width="0.9" fill="none"/>
<path d="M208.98 294.50L204.58 292.30L204.58 296.70Z" stroke="#2a2aff" stroke-width="0.9" fill="none"/>
<path d="M220.50 297.00L216.10 294.80L216.10 299.20Z" stroke="#2a2aff" stroke-width="0.9" fill="none"/>
<path d="M232.02 299.80L227.62 297.60L227.62 302.00Z" stroke="#2a2aff" stroke-width="0.9" fill="none"/>
<path d="M243.54 304.50L239.14 302.30L239.14 306.70Z" stroke="#2a2aff" stroke-width="0.9" fill="none"/>
<path d="M255.06 311.50L250.66 309.30L250.66 313.70Z" stroke="#2a2aff" stroke-width="0.9" fill="none"/>
<path d="M33.65 249.70 L34.80 258.00 L35.96 265.00 L37.11 267.41 L38.26 268.70 L39.41 269.52 L40.56 270.19 L41.72 270.75 L42.87 271.19 L44.02 271.53 L45.17 271.80 L46.32 272.02 L47.48 272.21 L48.63 272.38 L49.78 272.53 L50.93 272.66 L52.08 272.78 L53.24 272.89 L54.39 273.00 L55.54 273.10 L56.69 273.20 L57.84 273.30 L59.00 273.39 L60.15 273.48 L61.30 273.56 L62.45 273.63 L63.60 273.71 L64.76 273.78 L65.91 273.85 L67.06 273.93 L68.21 274.00 L69.36 274.08 L70.52 274.15 L71.67 274.23 L72.82 274.31 L73.97 274.38 L75.12 274.45 L76.28 274.52 L77.43 274.59 L78.58 274.65 L79.73 274.70 L80.88 274.75 L82.04 274.80 L83.19 274.84 L84.34 274.89 L85.49 274.93 L86.64 274.97 L87.80 275.01 L88.95 275.04 L90.10 275.07 L91.25 275.10 L92.40 275.13 L93.56 275.15 L94.71 275.18 L95.86 275.21 L97.01 275.23 L98.16 275.26 L99.32 275.27 L100.47 275.29 L101.62 275.30 L102.77 275.30 L103.92 275.30 L105.08 275.30 L106.23 275.30 L107.38 275.30 L108.53 275.30 L109.68 275.30 L110.84 275.30 L111.99 275.30 L113.14 275.30 L114.29 275.30 L115.44 275.30 L116.60 275.30 L117.75 275.30 L118.90 275.30 L120.05 275.30 L121.20 275.30 L122.36 275.30 L123.51 275.30 L124.66 275.30 L125.81 275.30 L126.96 275.30 L128.12 275.30 L129.27 275.30 L130.42 275.30 L131.57 275.30 L132.72 275.30 L133.88 275.30 L135.03 275.30 L136.18 275.30 L137.33 275.30 L138.48 275.30 L139.64 275.30 L140.79 275.31 L141.94 275.32 L143.09 275.33 L144.24 275.34 L145.40 275.35 L146.55 275.37 L147.70 275.38 L148.85 275.40 L150.00 275.46 L151.16 275.58 L152.31 275.76 L153.46 275.98 L154.61 276.24 L155.76 276.52 L156.92 276.82 L158.07 277.12 L159.22 277.42 L160.37 277.70 L161.52 277.98 L162.68 278.27 L163.83 278.57 L164.98 278.89 L166.13 279.21 L167.28 279.54 L168.44 279.88 L169.59 280.22 L170.74 280.56 L171.89 280.90 L173.04 281.25 L174.20 281.61 L175.35 281.98 L176.50 282.35 L177.65 282.73 L178.80 283.10 L179.96 283.47 L181.11 283.83 L182.26 284.17 L183.41 284.50 L184.56 284.82 L185.72 285.15 L186.87 285.48 L188.02 285.80 L189.17 286.11 L190.32 286.40 L191.48 286.68 L192.63 286.92 L193.78 287.13 L194.93 287.30 L196.08 287.45 L197.24 287.59 L198.39 287.73 L199.54 287.86 L200.69 287.98 L201.84 288.09 L203.00 288.18 L204.15 288.24 L205.30 288.29 L206.45 288.30 L207.60 288.30 L208.76 288.30 L209.91 288.30 L211.06 288.30 L212.21 288.30 L213.36 288.30 L214.52 288.30 L215.67 288.30 L216.82 288.30 L217.97 288.30 L219.12 288.30 L220.28 288.30 L221.43 288.30 L222.58 288.30 L223.73 288.30 L224.88 288.30 L226.04 288.30 L227.19 288.30 L228.34 288.30 L229.49 288.30 L230.64 288.30 L231.80 288.30 L232.95 288.30 L234.10 288.30 L235.25 288.30 L236.40 288.30 L237.56 288.30 L238.71 288.30 L239.86 288.30 L241.01 288.30 L242.16 288.30 L243.32 288.30 L244.47 288.30 L245.62 288.30 L246.77 288.30 L247.92 288.30 L249.08 288.30 L250.23 288.30 L251.38 288.30 L252.53 288.30 L253.68 288.30 L254.84 288.30 L255.99 288.30 L257.14 288.30 L258.29 288.30 L259.44 288.30 L260.60 288.30 L261.75 288.30 L262.90 288.30" fill="none" stroke="#00e6e6" stroke-width="1.1" stroke-linejoin="round"/>
<polygon points="33.65,246.70 34.42,248.65 36.51,248.77 34.89,250.10 35.42,252.13 33.65,251.00 31.89,252.13 32.42,250.10 30.80,248.77 32.89,248.65" fill="#00e6e6"/>
<polygon points="45.17,268.80 45.94,270.75 48.03,270.87 46.41,272.20 46.94,274.23 45.17,273.10 43.41,274.23 43.94,272.20 42.32,270.87 44.41,270.75" fill="#00e6e6"/>
<polygon points="56.69,270.20 57.46,272.15 59.55,272.27 57.93,273.60 58.46,275.63 56.69,274.50 54.93,275.63 55.46,273.60 53.84,272.27 55.93,272.15" fill="#00e6e6"/>
<polygon points="68.21,271.00 68.98,272.95 71.07,273.07 69.45,274.40 69.98,276.43 68.21,275.30 66.45,276.43 66.98,274.40 65.36,273.07 67.45,272.95" fill="#00e6e6"/>
<polygon points="79.73,271.70 80.50,273.65 82.59,273.77 80.97,275.10 81.50,277.13 79.73,276.00 77.97,277.13 78.50,275.10 76.88,273.77 78.97,273.65" fill="#00e6e6"/>
<polygon points="91.25,272.10 92.02,274.05 94.11,274.17 92.49,275.50 93.02,277.53 91.25,276.40 89.49,277.53 90.02,275.50 88.40,274.17 90.49,274.05" fill="#00e6e6"/>
<polygon points="102.77,272.30 103.54,274.25 105.63,274.37 104.01,275.70 104.54,277.73 102.77,276.60 101.01,277.73 101.54,275.70 99.92,274.37 102.01,274.25" fill="#00e6e6"/>
<polygon points="114.29,272.30 115.06,274.25 117.15,274.37 115.53,275.70 116.06,277.73 114.29,276.60 112.53,277.73 113.06,275.70 111.44,274.37 113.53,274.25" fill="#00e6e6"/>
<polygon points="125.81,272.30 126.58,274.25 128.67,274.37 127.05,275.70 127.58,277.73 125.81,276.60 124.05,277.73 124.58,275.70 122.96,274.37 125.05,274.25" fill="#00e6e6"/>
<polygon points="137.33,272.30 138.10,274.25 140.19,274.37 138.57,275.70 139.10,277.73 137.33,276.60 135.57,277.73 136.10,275.70 134.48,274.37 136.57,274.25" fill="#00e6e6"/>
<polygon points="148.85,272.40 149.62,274.35 151.71,274.47 150.09,275.80 150.62,277.83 148.85,276.70 147.09,277.83 147.62,275.80 146.00,274.47 148.09,274.35" fill="#00e6e6"/>
<polygon points="160.37,274.70 161.14,276.65 163.23,276.77 161.61,278.10 162.14,280.13 160.37,279.00 158.61,280.13 159.14,278.10 157.52,276.77 159.61,276.65" fill="#00e6e6"/>
<polygon points="171.89,277.90 172.66,279.85 174.75,279.97 173.13,281.30 173.66,283.33 171.89,282.20 170.13,283.33 170.66,281.30 169.04,279.97 171.13,279.85" fill="#00e6e6"/>
<polygon points="183.41,281.50 184.18,283.45 186.27,283.57 184.65,284.90 185.18,286.93 183.41,285.80 181.65,286.93 182.18,284.90 180.56,283.57 182.65,283.45" fill="#00e6e6"/>
<polygon points="194.93,284.30 195.70,286.25 197.79,286.37 196.17,287.70 196.70,289.73 194.93,288.60 193.17,289.73 193.70,287.70 192.08,286.37 194.17,286.25" fill="#00e6e6"/>
<polygon points="206.45,285.30 207.22,287.25 209.31,287.37 207.69,288.70 208.22,290.73 206.45,289.60 204.69,290.73 205.22,288.70 203.60,287.37 205.69,287.25" fill="#00e6e6"/>
<polygon points="217.97,285.30 218.74,287.25 220.83,287.37 219.21,288.70 219.74,290.73 217.97,289.60 216.21,290.73 216.74,288.70 215.12,287.37 217.21,287.25" fill="#00e6e6"/>
<polygon points="229.49,285.30 230.26,287.25 232.35,287.37 230.73,288.70 231.26,290.73 229.49,289.60 227.73,290.73 228.26,288.70 226.64,287.37 228.73,287.25" fill="#00e6e6"/>
<polygon points="241.01,285.30 241.78,287.25 243.87,287.37 242.25,288.70 242.78,290.73 241.01,289.60 239.25,290.73 239.78,288.70 238.16,287.37 240.25,287.25" fill="#00e6e6"/>
<polygon points="252.53,285.30 253.30,287.25 255.39,287.37 253.77,288.70 254.30,290.73 252.53,289.60 250.77,290.73 251.30,288.70 249.68,287.37 251.77,287.25" fill="#00e6e6"/>
<path d="M33.65 252.20 L34.80 253.39 L35.96 254.50 L37.11 255.44 L38.26 256.29 L39.41 257.00 L40.56 257.59 L41.72 258.09 L42.87 258.56 L44.02 259.01 L45.17 259.50 L46.32 260.02 L47.48 260.57 L48.63 261.12 L49.78 261.69 L50.93 262.25 L52.08 262.80 L53.24 263.34 L54.39 263.86 L55.54 264.34 L56.69 264.80 L57.84 265.22 L59.00 265.62 L60.15 265.99 L61.30 266.35 L62.45 266.70 L63.60 267.05 L64.76 267.40 L65.91 267.75 L67.06 268.12 L68.21 268.50 L69.36 268.90 L70.52 269.31 L71.67 269.74 L72.82 270.17 L73.97 270.60 L75.12 271.03 L76.28 271.46 L77.43 271.89 L78.58 272.30 L79.73 272.70 L80.88 273.09 L82.04 273.49 L83.19 273.89 L84.34 274.28 L85.49 274.66 L86.64 275.04 L87.80 275.40 L88.95 275.75 L90.10 276.08 L91.25 276.40 L92.40 276.69 L93.56 276.97 L94.71 277.23 L95.86 277.48 L97.01 277.72 L98.16 277.96 L99.32 278.20 L100.47 278.46 L101.62 278.72 L102.77 279.00 L103.92 279.30 L105.08 279.62 L106.23 279.96 L107.38 280.30 L108.53 280.65 L109.68 281.00 L110.84 281.34 L111.99 281.68 L113.14 282.00 L114.29 282.30 L115.44 282.58 L116.60 282.86 L117.75 283.12 L118.90 283.38 L120.05 283.63 L121.20 283.88 L122.36 284.13 L123.51 284.38 L124.66 284.63 L125.81 284.90 L126.96 285.18 L128.12 285.47 L129.27 285.76 L130.42 286.06 L131.57 286.36 L132.72 286.66 L133.88 286.94 L135.03 287.21 L136.18 287.47 L137.33 287.70 L138.48 287.91 L139.64 288.10 L140.79 288.28 L141.94 288.46 L143.09 288.62 L144.24 288.79 L145.40 288.95 L146.55 289.12 L147.70 289.31 L148.85 289.50 L150.00 289.71 L151.16 289.92 L152.31 290.15 L153.46 290.38 L154.61 290.61 L155.76 290.85 L156.92 291.09 L158.07 291.33 L159.22 291.57 L160.37 291.80 L161.52 292.03 L162.68 292.26 L163.83 292.49 L164.98 292.72 L166.13 292.95 L167.28 293.18 L168.44 293.41 L169.59 293.64 L170.74 293.87 L171.89 294.10 L173.04 294.33 L174.20 294.56 L175.35 294.79 L176.50 295.02 L177.65 295.26 L178.80 295.49 L179.96 295.72 L181.11 295.95 L182.26 296.17 L183.41 296.40 L184.56 296.62 L185.72 296.84 L186.87 297.06 L188.02 297.28 L189.17 297.50 L190.32 297.72 L191.48 297.94 L192.63 298.16 L193.78 298.38 L194.93 298.60 L196.08 298.83 L197.24 299.06 L198.39 299.30 L199.54 299.54 L200.69 299.78 L201.84 300.02 L203.00 300.25 L204.15 300.47 L205.30 300.69 L206.45 300.90 L207.60 301.10 L208.76 301.28 L209.91 301.46 L211.06 301.63 L212.21 301.80 L213.36 301.97 L214.52 302.14 L215.67 302.32 L216.82 302.50 L217.97 302.70 L219.12 302.91 L220.28 303.13 L221.43 303.37 L222.58 303.61 L223.73 303.85 L224.88 304.09 L226.04 304.33 L227.19 304.57 L228.34 304.79 L229.49 305.00 L230.64 305.19 L231.80 305.38 L232.95 305.55 L234.10 305.72 L235.25 305.88 L236.40 306.05 L237.56 306.22 L238.71 306.40 L239.86 306.59 L241.01 306.80 L242.16 307.03 L243.32 307.30 L244.47 307.58 L245.62 307.88 L246.77 308.19 L247.92 308.49 L249.08 308.78 L250.23 309.05 L251.38 309.29 L252.53 309.50 L253.68 309.68 L254.84 309.84 L255.99 309.99 L257.14 310.13 L258.29 310.26 L259.44 310.40 L260.60 310.53 L261.75 310.66 L262.90 310.80" fill="none" stroke="#f000f0" stroke-width="1.1" stroke-linejoin="round"/>
<circle cx="33.65" cy="252.20" r="1.8" fill="#f080f0" stroke="#f000f0" stroke-width="0.8"/>
<circle cx="45.17" cy="259.50" r="1.8" fill="#f080f0" stroke="#f000f0" stroke-width="0.8"/>
<circle cx="56.69" cy="264.80" r="1.8" fill="#f080f0" stroke="#f000f0" stroke-width="0.8"/>
<circle cx="68.21" cy="268.50" r="1.8" fill="#f080f0" stroke="#f000f0" stroke-width="0.8"/>
<circle cx="79.73" cy="272.70" r="1.8" fill="#f080f0" stroke="#f000f0" stroke-width="0.8"/>
<circle cx="91.25" cy="276.40" r="1.8" fill="#f080f0" stroke="#f000f0" stroke-width="0.8"/>
<circle cx="102.77" cy="279.00" r="1.8" fill="#f080f0" stroke="#f000f0" stroke-width="0.8"/>
<circle cx="114.29" cy="282.30" r="1.8" fill="#f080f0" stroke="#f000f0" stroke-width="0.8"/>
<circle cx="125.81" cy="284.90" r="1.8" fill="#f080f0" stroke="#f000f0" stroke-width="0.8"/>
<circle cx="137.33" cy="287.70" r="1.8" fill="#f080f0" stroke="#f000f0" stroke-width="0.8"/>
<circle cx="148.85" cy="289.50" r="1.8" fill="#f080f0" stroke="#f000f0" stroke-width="0.8"/>
<circle cx="160.37" cy="291.80" r="1.8" fill="#f080f0" stroke="#f000f0" stroke-width="0.8"/>
<circle cx="171.89" cy="294.10" r="1.8" fill="#f080f0" stroke="#f000f0" stroke-width="0.8"/>
<circle cx="183.41" cy="296.40" r="1.8" fill="#f080f0" stroke="#f000f0" stroke-width="0.8"/>
<circle cx="194.93" cy="298.60" r="1.8" fill="#f080f0" stroke="#f000f0" stroke-width="0.8"/>
<circle cx="206.45" cy="300.90" r="1.8" fill="#f080f0" stroke="#f000f0" stroke-width="0.8"/>
<circle cx="217.97" cy="302.70" r="1.8" fill="#f080f0" stroke="#f000f0" stroke-width="0.8"/>
<circle cx="229.49" cy="305.00" r="1.8" fill="#f080f0" stroke="#f000f0" stroke-width="0.8"/>
<circle cx="241.01" cy="306.80" r="1.8" fill="#f080f0" stroke="#f000f0" stroke-width="0.8"/>
<circle cx="252.53" cy="309.50" r="1.8" fill="#f080f0" stroke="#f000f0" stroke-width="0.8"/>
<path d="M33.65 229.80 L34.80 260.00 L35.96 268.00 L37.11 270.52 L38.26 272.00 L39.41 273.17 L40.56 274.00 L41.72 274.57 L42.87 275.02 L44.02 275.41 L45.17 275.80 L46.32 276.18 L47.48 276.52 L48.63 276.84 L49.78 277.14 L50.93 277.44 L52.08 277.75 L53.24 278.09 L54.39 278.47 L55.54 278.90 L56.69 279.40 L57.84 280.08 L59.00 281.02 L60.15 282.14 L61.30 283.39 L62.45 284.69 L63.60 286.00 L64.76 287.23 L65.91 288.34 L67.06 289.25 L68.21 289.90 L69.36 290.38 L70.52 290.83 L71.67 291.25 L72.82 291.63 L73.97 291.97 L75.12 292.28 L76.28 292.56 L77.43 292.81 L78.58 293.02 L79.73 293.20 L80.88 293.35 L82.04 293.48 L83.19 293.60 L84.34 293.70 L85.49 293.80 L86.64 293.89 L87.80 293.98 L88.95 294.08 L90.10 294.18 L91.25 294.30 L92.40 294.43 L93.56 294.56 L94.71 294.69 L95.86 294.82 L97.01 294.96 L98.16 295.11 L99.32 295.27 L100.47 295.43 L101.62 295.61 L102.77 295.80 L103.92 296.02 L105.08 296.29 L106.23 296.59 L107.38 296.92 L108.53 297.25 L109.68 297.57 L110.84 297.89 L111.99 298.17 L113.14 298.41 L114.29 298.60 L115.44 298.75 L116.60 298.87 L117.75 298.99 L118.90 299.09 L120.05 299.18 L121.20 299.28 L122.36 299.37 L123.51 299.47 L124.66 299.58 L125.81 299.70 L126.96 299.84 L128.12 299.99 L129.27 300.16 L130.42 300.33 L131.57 300.50 L132.72 300.67 L133.88 300.84 L135.03 301.01 L136.18 301.16 L137.33 301.30 L138.48 301.42 L139.64 301.53 L140.79 301.63 L141.94 301.72 L143.09 301.82 L144.24 301.91 L145.40 302.01 L146.55 302.13 L147.70 302.25 L148.85 302.40 L150.00 302.59 L151.16 302.82 L152.31 303.09 L153.46 303.40 L154.61 303.71 L155.76 304.04 L156.92 304.36 L158.07 304.67 L159.22 304.95 L160.37 305.20 L161.52 305.42 L162.68 305.64 L163.83 305.84 L164.98 306.04 L166.13 306.23 L167.28 306.42 L168.44 306.60 L169.59 306.77 L170.74 306.94 L171.89 307.10 L173.04 307.26 L174.20 307.41 L175.35 307.56 L176.50 307.71 L177.65 307.85 L178.80 307.98 L179.96 308.12 L181.11 308.25 L182.26 308.38 L183.41 308.50 L184.56 308.62 L185.72 308.75 L186.87 308.88 L188.02 309.00 L189.17 309.12 L190.32 309.23 L191.48 309.34 L192.63 309.44 L193.78 309.52 L194.93 309.60 L196.08 309.67 L197.24 309.73 L198.39 309.79 L199.54 309.85 L200.69 309.90 L201.84 309.95 L203.00 309.99 L204.15 310.03 L205.30 310.07 L206.45 310.10 L207.60 310.13 L208.76 310.16 L209.91 310.18 L211.06 310.21 L212.21 310.23 L213.36 310.25 L214.52 310.27 L215.67 310.28 L216.82 310.29 L217.97 310.30 L219.12 310.31 L220.28 310.31 L221.43 310.31 L222.58 310.32 L223.73 310.32 L224.88 310.33 L226.04 310.33 L227.19 310.33 L228.34 310.34 L229.49 310.34 L230.64 310.34 L231.80 310.35 L232.95 310.35 L234.10 310.35 L235.25 310.35 L236.40 310.36 L237.56 310.36 L238.71 310.36 L239.86 310.36 L241.01 310.36 L242.16 310.37 L243.32 310.37 L244.47 310.37 L245.62 310.37 L246.77 310.37 L247.92 310.37 L249.08 310.38 L250.23 310.38 L251.38 310.38 L252.53 310.38 L253.68 310.38 L254.84 310.38 L255.99 310.39 L257.14 310.39 L258.29 310.39 L259.44 310.39 L260.60 310.40 L261.75 310.40 L262.90 310.40" fill="none" stroke="#2e2e2e" stroke-width="1.1" stroke-linejoin="round"/>
<path d="M31.12 229.80L35.52 227.60L35.52 232.00Z" stroke="#2e2e2e" stroke-width="0.9" fill="none"/>
<path d="M42.64 275.80L47.04 273.60L47.04 278.00Z" stroke="#2e2e2e" stroke-width="0.9" fill="none"/>
<path d="M54.16 279.40L58.56 277.20L58.56 281.60Z" stroke="#2e2e2e" stroke-width="0.9" fill="none"/>
<path d="M65.68 289.90L70.08 287.70L70.08 292.10Z" stroke="#2e2e2e" stroke-width="0.9" fill="none"/>
<path d="M77.20 293.20L81.60 291.00L81.60 295.40Z" stroke="#2e2e2e" stroke-width="0.9" fill="none"/>
<path d="M88.72 294.30L93.12 292.10L93.12 296.50Z" stroke="#2e2e2e" stroke-width="0.9" fill="none"/>
<path d="M100.24 295.80L104.64 293.60L104.64 298.00Z" stroke="#2e2e2e" stroke-width="0.9" fill="none"/>
<path d="M111.76 298.60L116.16 296.40L116.16 300.80Z" stroke="#2e2e2e" stroke-width="0.9" fill="none"/>
<path d="M123.28 299.70L127.68 297.50L127.68 301.90Z" stroke="#2e2e2e" stroke-width="0.9" fill="none"/>
<path d="M134.80 301.30L139.20 299.10L139.20 303.50Z" stroke="#2e2e2e" stroke-width="0.9" fill="none"/>
<path d="M146.32 302.40L150.72 300.20L150.72 304.60Z" stroke="#2e2e2e" stroke-width="0.9" fill="none"/>
<path d="M157.84 305.20L162.24 303.00L162.24 307.40Z" stroke="#2e2e2e" stroke-width="0.9" fill="none"/>
<path d="M169.36 307.10L173.76 304.90L173.76 309.30Z" stroke="#2e2e2e" stroke-width="0.9" fill="none"/>
<path d="M180.88 308.50L185.28 306.30L185.28 310.70Z" stroke="#2e2e2e" stroke-width="0.9" fill="none"/>
<path d="M192.40 309.60L196.80 307.40L196.80 311.80Z" stroke="#2e2e2e" stroke-width="0.9" fill="none"/>
<path d="M203.92 310.10L208.32 307.90L208.32 312.30Z" stroke="#2e2e2e" stroke-width="0.9" fill="none"/>
<path d="M215.44 310.30L219.84 308.10L219.84 312.50Z" stroke="#2e2e2e" stroke-width="0.9" fill="none"/>
<path d="M226.96 310.34L231.36 308.14L231.36 312.54Z" stroke="#2e2e2e" stroke-width="0.9" fill="none"/>
<path d="M238.48 310.36L242.88 308.16L242.88 312.56Z" stroke="#2e2e2e" stroke-width="0.9" fill="none"/>
<path d="M250.00 310.38L254.40 308.18L254.40 312.58Z" stroke="#2e2e2e" stroke-width="0.9" fill="none"/>
<path d="M33.65 278.50 L34.80 287.00 L35.96 292.31 L37.11 296.00 L38.26 298.48 L39.41 300.39 L40.56 302.00 L41.72 303.47 L42.87 304.80 L44.02 305.95 L45.17 306.90 L46.32 307.72 L47.48 308.51 L48.63 309.26 L49.78 309.95 L50.93 310.60 L52.08 311.18 L53.24 311.70 L54.39 312.15 L55.54 312.52 L56.69 312.80 L57.84 313.02 L59.00 313.20 L60.15 313.36 L61.30 313.49 L62.45 313.61 L63.60 313.73 L64.76 313.85 L65.91 313.98 L67.06 314.13 L68.21 314.30 L69.36 314.51 L70.52 314.76 L71.67 315.04 L72.82 315.33 L73.97 315.63 L75.12 315.93 L76.28 316.20 L77.43 316.44 L78.58 316.65 L79.73 316.80 L80.88 316.91 L82.04 317.01 L83.19 317.10 L84.34 317.18 L85.49 317.26 L86.64 317.33 L87.80 317.39 L88.95 317.46 L90.10 317.53 L91.25 317.60 L92.40 317.67 L93.56 317.74 L94.71 317.80 L95.86 317.86 L97.01 317.92 L98.16 317.99 L99.32 318.06 L100.47 318.13 L101.62 318.21 L102.77 318.30 L103.92 318.41 L105.08 318.53 L106.23 318.68 L107.38 318.83 L108.53 319.00 L109.68 319.16 L110.84 319.33 L111.99 319.50 L113.14 319.65 L114.29 319.80 L115.44 319.94 L116.60 320.07 L117.75 320.20 L118.90 320.32 L120.05 320.45 L121.20 320.58 L122.36 320.70 L123.51 320.83 L124.66 320.96 L125.81 321.10 L126.96 321.24 L128.12 321.38 L129.27 321.52 L130.42 321.66 L131.57 321.81 L132.72 321.96 L133.88 322.11 L135.03 322.27 L136.18 322.43 L137.33 322.60 L138.48 322.77 L139.64 322.94 L140.79 323.12 L141.94 323.30 L143.09 323.49 L144.24 323.68 L145.40 323.89 L146.55 324.11 L147.70 324.35 L148.85 324.60 L150.00 324.89 L151.16 325.22 L152.31 325.59 L153.46 325.99 L154.61 326.41 L155.76 326.83 L156.92 327.25 L158.07 327.66 L159.22 328.05 L160.37 328.40 L161.52 328.73 L162.68 329.06 L163.83 329.38 L164.98 329.70 L166.13 330.00 L167.28 330.30 L168.44 330.59 L169.59 330.87 L170.74 331.14 L171.89 331.40 L173.04 331.65 L174.20 331.88 L175.35 332.11 L176.50 332.32 L177.65 332.54 L178.80 332.75 L179.96 332.95 L181.11 333.16 L182.26 333.38 L183.41 333.60 L184.56 333.83 L185.72 334.08 L186.87 334.33 L188.02 334.59 L189.17 334.85 L190.32 335.09 L191.48 335.33 L192.63 335.54 L193.78 335.74 L194.93 335.90 L196.08 336.04 L197.24 336.16 L198.39 336.27 L199.54 336.38 L200.69 336.47 L201.84 336.57 L203.00 336.66 L204.15 336.77 L205.30 336.88 L206.45 337.00 L207.60 337.13 L208.76 337.27 L209.91 337.42 L211.06 337.57 L212.21 337.73 L213.36 337.89 L214.52 338.06 L215.67 338.23 L216.82 338.41 L217.97 338.60 L219.12 338.80 L220.28 339.03 L221.43 339.28 L222.58 339.54 L223.73 339.80 L224.88 340.06 L226.04 340.30 L227.19 340.53 L228.34 340.73 L229.49 340.90 L230.64 341.04 L231.80 341.17 L232.95 341.28 L234.10 341.39 L235.25 341.49 L236.40 341.59 L237.56 341.69 L238.71 341.79 L239.86 341.89 L241.01 342.00 L242.16 342.12 L243.32 342.23 L244.47 342.35 L245.62 342.47 L246.77 342.59 L247.92 342.71 L249.08 342.84 L250.23 342.96 L251.38 343.08 L252.53 343.20 L253.68 343.32 L254.84 343.44 L255.99 343.57 L257.14 343.69 L258.29 343.81 L259.44 343.93 L260.60 344.06 L261.75 344.18 L262.90 344.30" fill="none" stroke="#ff1818" stroke-width="1.1" stroke-linejoin="round"/>
<circle cx="33.65" cy="278.50" r="2.1" fill="none" stroke="#ff1818" stroke-width="0.95"/>
<circle cx="45.17" cy="306.90" r="2.1" fill="none" stroke="#ff1818" stroke-width="0.95"/>
<circle cx="56.69" cy="312.80" r="2.1" fill="none" stroke="#ff1818" stroke-width="0.95"/>
<circle cx="68.21" cy="314.30" r="2.1" fill="none" stroke="#ff1818" stroke-width="0.95"/>
<circle cx="79.73" cy="316.80" r="2.1" fill="none" stroke="#ff1818" stroke-width="0.95"/>
<circle cx="91.25" cy="317.60" r="2.1" fill="none" stroke="#ff1818" stroke-width="0.95"/>
<circle cx="102.77" cy="318.30" r="2.1" fill="none" stroke="#ff1818" stroke-width="0.95"/>
<circle cx="114.29" cy="319.80" r="2.1" fill="none" stroke="#ff1818" stroke-width="0.95"/>
<circle cx="125.81" cy="321.10" r="2.1" fill="none" stroke="#ff1818" stroke-width="0.95"/>
<circle cx="137.33" cy="322.60" r="2.1" fill="none" stroke="#ff1818" stroke-width="0.95"/>
<circle cx="148.85" cy="324.60" r="2.1" fill="none" stroke="#ff1818" stroke-width="0.95"/>
<circle cx="160.37" cy="328.40" r="2.1" fill="none" stroke="#ff1818" stroke-width="0.95"/>
<circle cx="171.89" cy="331.40" r="2.1" fill="none" stroke="#ff1818" stroke-width="0.95"/>
<circle cx="183.41" cy="333.60" r="2.1" fill="none" stroke="#ff1818" stroke-width="0.95"/>
<circle cx="194.93" cy="335.90" r="2.1" fill="none" stroke="#ff1818" stroke-width="0.95"/>
<circle cx="206.45" cy="337.00" r="2.1" fill="none" stroke="#ff1818" stroke-width="0.95"/>
<circle cx="217.97" cy="338.60" r="2.1" fill="none" stroke="#ff1818" stroke-width="0.95"/>
<circle cx="229.49" cy="340.90" r="2.1" fill="none" stroke="#ff1818" stroke-width="0.95"/>
<circle cx="241.01" cy="342.00" r="2.1" fill="none" stroke="#ff1818" stroke-width="0.95"/>
<circle cx="252.53" cy="343.20" r="2.1" fill="none" stroke="#ff1818" stroke-width="0.95"/>
<rect x="32.50" y="212.00" width="230.4" height="155.0" fill="none" stroke="#646464" stroke-width="1.0"/>
<path d="M32.50 367.00V364.40M32.50 212.00V214.60" stroke="#646464" stroke-width="0.9"/>
<text x="32.50" y="379.00" text-anchor="middle" font-size="9.0" fill="#222" font-family="Liberation Serif, serif">0</text>
<path d="M90.10 367.00V364.40M90.10 212.00V214.60" stroke="#646464" stroke-width="0.9"/>
<text x="90.10" y="379.00" text-anchor="middle" font-size="9.0" fill="#222" font-family="Liberation Serif, serif">50</text>
<path d="M147.70 367.00V364.40M147.70 212.00V214.60" stroke="#646464" stroke-width="0.9"/>
<text x="147.70" y="379.00" text-anchor="middle" font-size="9.0" fill="#222" font-family="Liberation Serif, serif">100</text>
<path d="M205.30 367.00V364.40M205.30 212.00V214.60" stroke="#646464" stroke-width="0.9"/>
<text x="205.30" y="379.00" text-anchor="middle" font-size="9.0" fill="#222" font-family="Liberation Serif, serif">150</text>
<path d="M262.90 367.00V364.40M262.90 212.00V214.60" stroke="#646464" stroke-width="0.9"/>
<text x="262.90" y="379.00" text-anchor="middle" font-size="9.0" fill="#222" font-family="Liberation Serif, serif">200</text>
<path d="M32.50 367.00H35.10M262.90 367.00H260.30" stroke="#646464" stroke-width="0.9"/>
<text x="29.80" y="370.50" text-anchor="end" letter-spacing="-0.12" font-size="8.9" fill="#222" style="stroke-width:0.3px" font-family="Liberation Serif, serif">0.20</text>
<path d="M32.50 336.00H35.10M262.90 336.00H260.30" stroke="#646464" stroke-width="0.9"/>
<text x="29.80" y="339.50" text-anchor="end" letter-spacing="-0.12" font-size="8.9" fill="#222" style="stroke-width:0.3px" font-family="Liberation Serif, serif">0.25</text>
<path d="M32.50 305.00H35.10M262.90 305.00H260.30" stroke="#646464" stroke-width="0.9"/>
<text x="29.80" y="308.50" text-anchor="end" letter-spacing="-0.12" font-size="8.9" fill="#222" style="stroke-width:0.3px" font-family="Liberation Serif, serif">0.30</text>
<path d="M32.50 274.00H35.10M262.90 274.00H260.30" stroke="#646464" stroke-width="0.9"/>
<text x="29.80" y="277.50" text-anchor="end" letter-spacing="-0.12" font-size="8.9" fill="#222" style="stroke-width:0.3px" font-family="Liberation Serif, serif">0.35</text>
<path d="M32.50 243.00H35.10M262.90 243.00H260.30" stroke="#646464" stroke-width="0.9"/>
<text x="29.80" y="246.50" text-anchor="end" letter-spacing="-0.12" font-size="8.9" fill="#222" style="stroke-width:0.3px" font-family="Liberation Serif, serif">0.40</text>
<path d="M32.50 212.00H35.10M262.90 212.00H260.30" stroke="#646464" stroke-width="0.9"/>
<text x="29.80" y="215.50" text-anchor="end" letter-spacing="-0.12" font-size="8.9" fill="#222" style="stroke-width:0.3px" font-family="Liberation Serif, serif">0.45</text>
<text x="147.70" y="390.30" text-anchor="middle" font-size="10.2" fill="#222" font-family="Liberation Serif, serif">Iter</text>
<text transform="translate(11.90 289.50) rotate(-90)" text-anchor="middle" font-size="9.1" letter-spacing="0.24" fill="#333" style="stroke-width:0.12px" font-family="Liberation Serif, serif">mean finess value</text>
<text x="135.70" y="406.40" text-anchor="middle" font-size="10.6" letter-spacing="0.3" fill="#1a1a1a" style="stroke-width:0.08px" font-family="Liberation Serif, serif"><tspan font-weight="bold">(g)</tspan> Task 350</text>
<rect x="213.40" y="217.00" width="44.8" height="62.9" fill="#fff" stroke="#646464" stroke-width="0.8"/>
<path d="M215.30 222.10H233.90" stroke="#3434ff" stroke-width="1.0"/>
<path d="M222.50 222.10H226.90M224.70 219.90V224.30" stroke="#3434ff" stroke-width="0.9" fill="none"/>
<text x="235.40" y="225.00" font-size="7.3" fill="#222" font-family="Liberation Serif, serif">GA</text>
<path d="M215.30 230.88H233.90" stroke="#00ee00" stroke-width="1.0"/>
<circle cx="224.70" cy="230.88" r="1.8" fill="#00ee00"/>
<text x="235.40" y="233.78" font-size="7.3" fill="#222" font-family="Liberation Serif, serif">WOA</text>
<path d="M215.30 239.66H233.90" stroke="#2a2aff" stroke-width="1.0"/>
<path d="M227.23 239.66L222.83 237.46L222.83 241.86Z" stroke="#2a2aff" stroke-width="0.9" fill="none"/>
<text x="235.40" y="242.56" font-size="7.3" fill="#222" font-family="Liberation Serif, serif">GWO</text>
<path d="M215.30 248.44H233.90" stroke="#00e6e6" stroke-width="1.0"/>
<polygon points="224.70,245.44 225.46,247.39 227.55,247.51 225.94,248.84 226.46,250.87 224.70,249.74 222.94,250.87 223.46,248.84 221.85,247.51 223.94,247.39" fill="#00e6e6"/>
<text x="235.40" y="251.34" font-size="7.3" fill="#222" font-family="Liberation Serif, serif">SSA</text>
<path d="M215.30 257.22H233.90" stroke="#f000f0" stroke-width="1.0"/>
<circle cx="224.70" cy="257.22" r="1.8" fill="#f080f0" stroke="#f000f0" stroke-width="0.8"/>
<text x="235.40" y="260.12" font-size="7.3" fill="#222" font-family="Liberation Serif, serif">PSO</text>
<path d="M215.30 266.00H233.90" stroke="#2e2e2e" stroke-width="1.0"/>
<path d="M222.17 266.00L226.57 263.80L226.57 268.20Z" stroke="#2e2e2e" stroke-width="0.9" fill="none"/>
<text x="235.40" y="268.90" font-size="7.3" fill="#222" font-family="Liberation Serif, serif">ALO</text>
<path d="M215.30 274.78H233.90" stroke="#ff1818" stroke-width="1.0"/>
<circle cx="224.70" cy="274.78" r="2.1" fill="none" stroke="#ff1818" stroke-width="0.95"/>
<text x="235.40" y="277.68" font-size="7.3" fill="#222" font-family="Liberation Serif, serif">HALO</text>
<path d="M309.65 247.30 L310.80 249.20 L311.96 251.00 L313.11 252.64 L314.26 254.16 L315.41 255.50 L316.56 256.67 L317.72 257.75 L318.87 258.74 L320.02 259.66 L321.17 260.50 L322.32 261.28 L323.48 262.02 L324.63 262.71 L325.78 263.38 L326.93 264.01 L328.08 264.63 L329.24 265.23 L330.39 265.82 L331.54 266.41 L332.69 267.00 L333.84 267.60 L335.00 268.20 L336.15 268.80 L337.30 269.40 L338.45 269.98 L339.60 270.54 L340.76 271.08 L341.91 271.59 L343.06 272.07 L344.21 272.50 L345.36 272.90 L346.52 273.27 L347.67 273.63 L348.82 273.96 L349.97 274.29 L351.12 274.60 L352.28 274.90 L353.43 275.20 L354.58 275.50 L355.73 275.80 L356.88 276.11 L358.04 276.42 L359.19 276.73 L360.34 277.03 L361.49 277.33 L362.64 277.62 L363.80 277.90 L364.95 278.16 L366.10 278.39 L367.25 278.60 L368.40 278.79 L369.56 278.96 L370.71 279.12 L371.86 279.27 L373.01 279.41 L374.16 279.54 L375.32 279.68 L376.47 279.81 L377.62 279.95 L378.77 280.10 L379.92 280.25 L381.08 280.40 L382.23 280.56 L383.38 280.71 L384.53 280.86 L385.68 281.02 L386.84 281.17 L387.99 281.31 L389.14 281.46 L390.29 281.60 L391.44 281.74 L392.60 281.87 L393.75 282.00 L394.90 282.13 L396.05 282.26 L397.20 282.39 L398.36 282.52 L399.51 282.64 L400.66 282.77 L401.81 282.90 L402.96 283.03 L404.12 283.15 L405.27 283.26 L406.42 283.38 L407.57 283.50 L408.72 283.62 L409.88 283.75 L411.03 283.88 L412.18 284.03 L413.33 284.20 L414.48 284.40 L415.64 284.63 L416.79 284.90 L417.94 285.18 L419.09 285.48 L420.24 285.78 L421.40 286.07 L422.55 286.34 L423.70 286.59 L424.85 286.80 L426.00 286.98 L427.16 287.15 L428.31 287.30 L429.46 287.45 L430.61 287.59 L431.76 287.73 L432.92 287.86 L434.07 288.00 L435.22 288.15 L436.37 288.30 L437.52 288.46 L438.68 288.63 L439.83 288.81 L440.98 288.99 L442.13 289.17 L443.28 289.34 L444.44 289.52 L445.59 289.69 L446.74 289.85 L447.89 290.00 L449.04 290.14 L450.20 290.28 L451.35 290.42 L452.50 290.54 L453.65 290.67 L454.80 290.80 L455.96 290.92 L457.11 291.05 L458.26 291.17 L459.41 291.30 L460.56 291.43 L461.72 291.56 L462.87 291.69 L464.02 291.82 L465.17 291.94 L466.32 292.07 L467.48 292.20 L468.63 292.33 L469.78 292.47 L470.93 292.60 L472.08 292.73 L473.24 292.87 L474.39 293.00 L475.54 293.14 L476.69 293.27 L477.84 293.41 L479.00 293.55 L480.15 293.70 L481.30 293.85 L482.45 294.00 L483.60 294.16 L484.76 294.33 L485.91 294.51 L487.06 294.69 L488.21 294.88 L489.36 295.07 L490.52 295.25 L491.67 295.44 L492.82 295.62 L493.97 295.80 L495.12 295.98 L496.28 296.15 L497.43 296.33 L498.58 296.51 L499.73 296.68 L500.88 296.86 L502.04 297.03 L503.19 297.19 L504.34 297.35 L505.49 297.50 L506.64 297.64 L507.80 297.78 L508.95 297.92 L510.10 298.05 L511.25 298.18 L512.40 298.30 L513.56 298.43 L514.71 298.55 L515.86 298.68 L517.01 298.80 L518.16 298.92 L519.32 299.05 L520.47 299.17 L521.62 299.29 L522.77 299.41 L523.92 299.53 L525.08 299.65 L526.23 299.77 L527.38 299.88 L528.53 300.00 L529.68 300.11 L530.84 300.23 L531.99 300.34 L533.14 300.45 L534.29 300.56 L535.44 300.67 L536.60 300.78 L537.75 300.89 L538.90 301.00" fill="none" stroke="#3434ff" stroke-width="1.1" stroke-linejoin="round"/>
<path d="M307.45 247.30H311.85M309.65 245.10V249.50" stroke="#3434ff" stroke-width="0.9" fill="none"/>
<path d="M318.97 260.50H323.37M321.17 258.30V262.70" stroke="#3434ff" stroke-width="0.9" fill="none"/>
<path d="M330.49 267.00H334.89M332.69 264.80V269.20" stroke="#3434ff" stroke-width="0.9" fill="none"/>
<path d="M342.01 272.50H346.41M344.21 270.30V274.70" stroke="#3434ff" stroke-width="0.9" fill="none"/>
<path d="M353.53 275.80H357.93M355.73 273.60V278.00" stroke="#3434ff" stroke-width="0.9" fill="none"/>
<path d="M365.05 278.60H369.45M367.25 276.40V280.80" stroke="#3434ff" stroke-width="0.9" fill="none"/>
<path d="M376.57 280.10H380.97M378.77 277.90V282.30" stroke="#3434ff" stroke-width="0.9" fill="none"/>
<path d="M388.09 281.60H392.49M390.29 279.40V283.80" stroke="#3434ff" stroke-width="0.9" fill="none"/>
<path d="M399.61 282.90H404.01M401.81 280.70V285.10" stroke="#3434ff" stroke-width="0.9" fill="none"/>
<path d="M411.13 284.20H415.53M413.33 282.00V286.40" stroke="#3434ff" stroke-width="0.9" fill="none"/>
<path d="M422.65 286.80H427.05M424.85 284.60V289.00" stroke="#3434ff" stroke-width="0.9" fill="none"/>
<path d="M434.17 288.30H438.57M436.37 286.10V290.50" stroke="#3434ff" stroke-width="0.9" fill="none"/>
<path d="M445.69 290.00H450.09M447.89 287.80V292.20" stroke="#3434ff" stroke-width="0.9" fill="none"/>
<path d="M457.21 291.30H461.61M459.41 289.10V293.50" stroke="#3434ff" stroke-width="0.9" fill="none"/>
<path d="M468.73 292.60H473.13M470.93 290.40V294.80" stroke="#3434ff" stroke-width="0.9" fill="none"/>
<path d="M480.25 294.00H484.65M482.45 291.80V296.20" stroke="#3434ff" stroke-width="0.9" fill="none"/>
<path d="M491.77 295.80H496.17M493.97 293.60V298.00" stroke="#3434ff" stroke-width="0.9" fill="none"/>
<path d="M503.29 297.50H507.69M505.49 295.30V299.70" stroke="#3434ff" stroke-width="0.9" fill="none"/>
<path d="M514.81 298.80H519.21M517.01 296.60V301.00" stroke="#3434ff" stroke-width="0.9" fill="none"/>
<path d="M526.33 300.00H530.73M528.53 297.80V302.20" stroke="#3434ff" stroke-width="0.9" fill="none"/>
<path d="M309.65 249.70 L310.80 270.00 L311.96 281.00 L313.11 285.07 L314.26 287.50 L315.41 289.24 L316.56 290.50 L317.72 291.54 L318.87 292.46 L320.02 293.22 L321.17 293.80 L322.32 294.25 L323.48 294.66 L324.63 295.02 L325.78 295.34 L326.93 295.63 L328.08 295.90 L329.24 296.16 L330.39 296.40 L331.54 296.65 L332.69 296.90 L333.84 297.15 L335.00 297.40 L336.15 297.63 L337.30 297.86 L338.45 298.08 L339.60 298.30 L340.76 298.50 L341.91 298.71 L343.06 298.91 L344.21 299.10 L345.36 299.29 L346.52 299.47 L347.67 299.65 L348.82 299.82 L349.97 299.99 L351.12 300.16 L352.28 300.32 L353.43 300.48 L354.58 300.64 L355.73 300.80 L356.88 300.96 L358.04 301.11 L359.19 301.26 L360.34 301.40 L361.49 301.54 L362.64 301.69 L363.80 301.84 L364.95 301.99 L366.10 302.14 L367.25 302.30 L368.40 302.47 L369.56 302.64 L370.71 302.83 L371.86 303.01 L373.01 303.20 L374.16 303.39 L375.32 303.57 L376.47 303.76 L377.62 303.93 L378.77 304.10 L379.92 304.26 L381.08 304.40 L382.23 304.54 L383.38 304.67 L384.53 304.81 L385.68 304.94 L386.84 305.09 L387.99 305.24 L389.14 305.41 L390.29 305.60 L391.44 305.82 L392.60 306.08 L393.75 306.36 L394.90 306.67 L396.05 306.99 L397.20 307.32 L398.36 307.64 L399.51 307.95 L400.66 308.24 L401.81 308.50 L402.96 308.74 L404.12 308.96 L405.27 309.18 L406.42 309.39 L407.57 309.60 L408.72 309.80 L409.88 310.00 L411.03 310.20 L412.18 310.40 L413.33 310.60 L414.48 310.81 L415.64 311.02 L416.79 311.23 L417.94 311.45 L419.09 311.66 L420.24 311.87 L421.40 312.07 L422.55 312.26 L423.70 312.43 L424.85 312.60 L426.00 312.75 L427.16 312.90 L428.31 313.04 L429.46 313.17 L430.61 313.30 L431.76 313.42 L432.92 313.54 L434.07 313.66 L435.22 313.78 L436.37 313.90 L437.52 314.02 L438.68 314.14 L439.83 314.26 L440.98 314.38 L442.13 314.49 L443.28 314.60 L444.44 314.71 L445.59 314.81 L446.74 314.91 L447.89 315.00 L449.04 315.09 L450.20 315.17 L451.35 315.25 L452.50 315.33 L453.65 315.40 L454.80 315.48 L455.96 315.54 L457.11 315.60 L458.26 315.65 L459.41 315.70 L460.56 315.74 L461.72 315.77 L462.87 315.80 L464.02 315.83 L465.17 315.86 L466.32 315.89 L467.48 315.91 L468.63 315.94 L469.78 315.97 L470.93 316.00 L472.08 316.04 L473.24 316.08 L474.39 316.13 L475.54 316.18 L476.69 316.23 L477.84 316.27 L479.00 316.32 L480.15 316.35 L481.30 316.38 L482.45 316.40 L483.60 316.41 L484.76 316.42 L485.91 316.44 L487.06 316.45 L488.21 316.46 L489.36 316.47 L490.52 316.48 L491.67 316.49 L492.82 316.49 L493.97 316.50 L495.12 316.51 L496.28 316.52 L497.43 316.53 L498.58 316.53 L499.73 316.54 L500.88 316.55 L502.04 316.55 L503.19 316.56 L504.34 316.56 L505.49 316.57 L506.64 316.57 L507.80 316.58 L508.95 316.58 L510.10 316.59 L511.25 316.59 L512.40 316.60 L513.56 316.60 L514.71 316.61 L515.86 316.61 L517.01 316.61 L518.16 316.62 L519.32 316.62 L520.47 316.63 L521.62 316.63 L522.77 316.63 L523.92 316.64 L525.08 316.64 L526.23 316.65 L527.38 316.65 L528.53 316.65 L529.68 316.66 L530.84 316.66 L531.99 316.67 L533.14 316.67 L534.29 316.68 L535.44 316.68 L536.60 316.69 L537.75 316.69 L538.90 316.70" fill="none" stroke="#00ee00" stroke-width="1.1" stroke-linejoin="round"/>
<circle cx="309.65" cy="249.70" r="1.8" fill="#00ee00"/>
<circle cx="321.17" cy="293.80" r="1.8" fill="#00ee00"/>
<circle cx="332.69" cy="296.90" r="1.8" fill="#00ee00"/>
<circle cx="344.21" cy="299.10" r="1.8" fill="#00ee00"/>
<circle cx="355.73" cy="300.80" r="1.8" fill="#00ee00"/>
<circle cx="367.25" cy="302.30" r="1.8" fill="#00ee00"/>
<circle cx="378.77" cy="304.10" r="1.8" fill="#00ee00"/>
<circle cx="390.29" cy="305.60" r="1.8" fill="#00ee00"/>
<circle cx="401.81" cy="308.50" r="1.8" fill="#00ee00"/>
<circle cx="413.33" cy="310.60" r="1.8" fill="#00ee00"/>
<circle cx="424.85" cy="312.60" r="1.8" fill="#00ee00"/>
<circle cx="436.37" cy="313.90" r="1.8" fill="#00ee00"/>
<circle cx="447.89" cy="315.00" r="1.8" fill="#00ee00"/>
<circle cx="459.41" cy="315.70" r="1.8" fill="#00ee00"/>
<circle cx="470.93" cy="316.00" r="1.8" fill="#00ee00"/>
<circle cx="482.45" cy="316.40" r="1.8" fill="#00ee00"/>
<circle cx="493.97" cy="316.50" r="1.8" fill="#00ee00"/>
<circle cx="505.49" cy="316.57" r="1.8" fill="#00ee00"/>
<circle cx="517.01" cy="316.61" r="1.8" fill="#00ee00"/>
<circle cx="528.53" cy="316.65" r="1.8" fill="#00ee00"/>
<path d="M309.65 249.50 L310.80 252.97 L311.96 256.00 L313.11 258.20 L314.26 260.03 L315.41 261.50 L316.56 262.71 L317.72 263.76 L318.87 264.69 L320.02 265.53 L321.17 266.30 L322.32 267.02 L323.48 267.69 L324.63 268.31 L325.78 268.90 L326.93 269.46 L328.08 270.01 L329.24 270.55 L330.39 271.08 L331.54 271.63 L332.69 272.20 L333.84 272.80 L335.00 273.41 L336.15 274.05 L337.30 274.68 L338.45 275.31 L339.60 275.91 L340.76 276.48 L341.91 277.01 L343.06 277.49 L344.21 277.90 L345.36 278.26 L346.52 278.61 L347.67 278.93 L348.82 279.23 L349.97 279.51 L351.12 279.78 L352.28 280.03 L353.43 280.27 L354.58 280.49 L355.73 280.70 L356.88 280.90 L358.04 281.09 L359.19 281.26 L360.34 281.43 L361.49 281.59 L362.64 281.74 L363.80 281.89 L364.95 282.03 L366.10 282.17 L367.25 282.30 L368.40 282.43 L369.56 282.55 L370.71 282.66 L371.86 282.77 L373.01 282.88 L374.16 282.98 L375.32 283.08 L376.47 283.19 L377.62 283.29 L378.77 283.40 L379.92 283.51 L381.08 283.62 L382.23 283.73 L383.38 283.85 L384.53 283.96 L385.68 284.07 L386.84 284.18 L387.99 284.29 L389.14 284.39 L390.29 284.50 L391.44 284.61 L392.60 284.71 L393.75 284.82 L394.90 284.92 L396.05 285.03 L397.20 285.13 L398.36 285.23 L399.51 285.32 L400.66 285.41 L401.81 285.50 L402.96 285.58 L404.12 285.65 L405.27 285.71 L406.42 285.78 L407.57 285.84 L408.72 285.90 L409.88 285.97 L411.03 286.04 L412.18 286.11 L413.33 286.20 L414.48 286.30 L415.64 286.41 L416.79 286.53 L417.94 286.66 L419.09 286.80 L420.24 286.94 L421.40 287.09 L422.55 287.23 L423.70 287.37 L424.85 287.50 L426.00 287.63 L427.16 287.76 L428.31 287.89 L429.46 288.02 L430.61 288.14 L431.76 288.27 L432.92 288.40 L434.07 288.53 L435.22 288.67 L436.37 288.80 L437.52 288.94 L438.68 289.08 L439.83 289.22 L440.98 289.36 L442.13 289.50 L443.28 289.64 L444.44 289.78 L445.59 289.92 L446.74 290.06 L447.89 290.20 L449.04 290.34 L450.20 290.48 L451.35 290.63 L452.50 290.78 L453.65 290.93 L454.80 291.07 L455.96 291.20 L457.11 291.32 L458.26 291.42 L459.41 291.50 L460.56 291.57 L461.72 291.62 L462.87 291.67 L464.02 291.71 L465.17 291.75 L466.32 291.79 L467.48 291.83 L468.63 291.88 L469.78 291.93 L470.93 292.00 L472.08 292.08 L473.24 292.17 L474.39 292.27 L475.54 292.39 L476.69 292.51 L477.84 292.65 L479.00 292.80 L480.15 292.96 L481.30 293.12 L482.45 293.30 L483.60 293.50 L484.76 293.73 L485.91 294.00 L487.06 294.29 L488.21 294.60 L489.36 294.92 L490.52 295.26 L491.67 295.61 L492.82 295.95 L493.97 296.30 L495.12 296.65 L496.28 297.01 L497.43 297.38 L498.58 297.76 L499.73 298.16 L500.88 298.56 L502.04 298.98 L503.19 299.41 L504.34 299.85 L505.49 300.30 L506.64 300.76 L507.80 301.24 L508.95 301.74 L510.10 302.25 L511.25 302.77 L512.40 303.31 L513.56 303.86 L514.71 304.43 L515.86 305.01 L517.01 305.60 L518.16 306.23 L519.32 306.90 L520.47 307.60 L521.62 308.32 L522.77 309.06 L523.92 309.79 L525.08 310.52 L526.23 311.22 L527.38 311.88 L528.53 312.50 L529.68 313.08 L530.84 313.63 L531.99 314.16 L533.14 314.68 L534.29 315.18 L535.44 315.68 L536.60 316.18 L537.75 316.68 L538.90 317.20" fill="none" stroke="#2a2aff" stroke-width="1.1" stroke-linejoin="round"/>
<path d="M312.18 249.50L307.78 247.30L307.78 251.70Z" stroke="#2a2aff" stroke-width="0.9" fill="none"/>
<path d="M323.70 266.30L319.30 264.10L319.30 268.50Z" stroke="#2a2aff" stroke-width="0.9" fill="none"/>
<path d="M335.22 272.20L330.82 270.00L330.82 274.40Z" stroke="#2a2aff" stroke-width="0.9" fill="none"/>
<path d="M346.74 277.90L342.34 275.70L342.34 280.10Z" stroke="#2a2aff" stroke-width="0.9" fill="none"/>
<path d="M358.26 280.70L353.86 278.50L353.86 282.90Z" stroke="#2a2aff" stroke-width="0.9" fill="none"/>
<path d="M369.78 282.30L365.38 280.10L365.38 284.50Z" stroke="#2a2aff" stroke-width="0.9" fill="none"/>
<path d="M381.30 283.40L376.90 281.20L376.90 285.60Z" stroke="#2a2aff" stroke-width="0.9" fill="none"/>
<path d="M392.82 284.50L388.42 282.30L388.42 286.70Z" stroke="#2a2aff" stroke-width="0.9" fill="none"/>
<path d="M404.34 285.50L399.94 283.30L399.94 287.70Z" stroke="#2a2aff" stroke-width="0.9" fill="none"/>
<path d="M415.86 286.20L411.46 284.00L411.46 288.40Z" stroke="#2a2aff" stroke-width="0.9" fill="none"/>
<path d="M427.38 287.50L422.98 285.30L422.98 289.70Z" stroke="#2a2aff" stroke-width="0.9" fill="none"/>
<path d="M438.90 288.80L434.50 286.60L434.50 291.00Z" stroke="#2a2aff" stroke-width="0.9" fill="none"/>
<path d="M450.42 290.20L446.02 288.00L446.02 292.40Z" stroke="#2a2aff" stroke-width="0.9" fill="none"/>
<path d="M461.94 291.50L457.54 289.30L457.54 293.70Z" stroke="#2a2aff" stroke-width="0.9" fill="none"/>
<path d="M473.46 292.00L469.06 289.80L469.06 294.20Z" stroke="#2a2aff" stroke-width="0.9" fill="none"/>
<path d="M484.98 293.30L480.58 291.10L480.58 295.50Z" stroke="#2a2aff" stroke-width="0.9" fill="none"/>
<path d="M496.50 296.30L492.10 294.10L492.10 298.50Z" stroke="#2a2aff" stroke-width="0.9" fill="none"/>
<path d="M508.02 300.30L503.62 298.10L503.62 302.50Z" stroke="#2a2aff" stroke-width="0.9" fill="none"/>
<path d="M519.54 305.60L515.14 303.40L515.14 307.80Z" stroke="#2a2aff" stroke-width="0.9" fill="none"/>
<path d="M531.06 312.50L526.66 310.30L526.66 314.70Z" stroke="#2a2aff" stroke-width="0.9" fill="none"/>
<path d="M309.65 249.70 L310.80 258.00 L311.96 266.00 L313.11 269.11 L314.26 270.60 L315.41 271.11 L316.56 271.49 L317.72 271.78 L318.87 271.99 L320.02 272.16 L321.17 272.30 L322.32 272.43 L323.48 272.54 L324.63 272.64 L325.78 272.72 L326.93 272.79 L328.08 272.86 L329.24 272.93 L330.39 273.01 L331.54 273.10 L332.69 273.20 L333.84 273.32 L335.00 273.45 L336.15 273.60 L337.30 273.75 L338.45 273.91 L339.60 274.07 L340.76 274.22 L341.91 274.36 L343.06 274.49 L344.21 274.60 L345.36 274.70 L346.52 274.81 L347.67 274.92 L348.82 275.03 L349.97 275.13 L351.12 275.22 L352.28 275.29 L353.43 275.35 L354.58 275.39 L355.73 275.40 L356.88 275.40 L358.04 275.40 L359.19 275.40 L360.34 275.40 L361.49 275.40 L362.64 275.40 L363.80 275.40 L364.95 275.40 L366.10 275.40 L367.25 275.40 L368.40 275.40 L369.56 275.40 L370.71 275.40 L371.86 275.40 L373.01 275.40 L374.16 275.40 L375.32 275.40 L376.47 275.40 L377.62 275.40 L378.77 275.40 L379.92 275.40 L381.08 275.40 L382.23 275.40 L383.38 275.40 L384.53 275.40 L385.68 275.40 L386.84 275.40 L387.99 275.40 L389.14 275.40 L390.29 275.40 L391.44 275.40 L392.60 275.40 L393.75 275.40 L394.90 275.40 L396.05 275.40 L397.20 275.40 L398.36 275.40 L399.51 275.40 L400.66 275.40 L401.81 275.40 L402.96 275.40 L404.12 275.40 L405.27 275.40 L406.42 275.40 L407.57 275.40 L408.72 275.40 L409.88 275.40 L411.03 275.40 L412.18 275.40 L413.33 275.40 L414.48 275.41 L415.64 275.42 L416.79 275.45 L417.94 275.48 L419.09 275.52 L420.24 275.57 L421.40 275.62 L422.55 275.68 L423.70 275.74 L424.85 275.80 L426.00 275.88 L427.16 276.00 L428.31 276.15 L429.46 276.32 L430.61 276.51 L431.76 276.71 L432.92 276.92 L434.07 277.12 L435.22 277.32 L436.37 277.50 L437.52 277.67 L438.68 277.84 L439.83 278.01 L440.98 278.17 L442.13 278.34 L443.28 278.51 L444.44 278.69 L445.59 278.88 L446.74 279.09 L447.89 279.30 L449.04 279.54 L450.20 279.80 L451.35 280.09 L452.50 280.39 L453.65 280.71 L454.80 281.02 L455.96 281.34 L457.11 281.64 L458.26 281.93 L459.41 282.20 L460.56 282.46 L461.72 282.74 L462.87 283.02 L464.02 283.30 L465.17 283.57 L466.32 283.82 L467.48 284.04 L468.63 284.24 L469.78 284.39 L470.93 284.50 L472.08 284.58 L473.24 284.66 L474.39 284.73 L475.54 284.79 L476.69 284.85 L477.84 284.90 L479.00 284.94 L480.15 284.97 L481.30 284.99 L482.45 285.00 L483.60 285.00 L484.76 285.00 L485.91 285.00 L487.06 285.00 L488.21 285.00 L489.36 285.00 L490.52 285.00 L491.67 285.00 L492.82 285.00 L493.97 285.00 L495.12 285.00 L496.28 285.00 L497.43 285.00 L498.58 285.00 L499.73 285.00 L500.88 285.00 L502.04 285.00 L503.19 285.00 L504.34 285.00 L505.49 285.00 L506.64 285.00 L507.80 285.00 L508.95 285.00 L510.10 285.00 L511.25 285.00 L512.40 285.00 L513.56 285.00 L514.71 285.00 L515.86 285.00 L517.01 285.00 L518.16 285.00 L519.32 285.00 L520.47 285.00 L521.62 285.00 L522.77 285.00 L523.92 285.00 L525.08 285.00 L526.23 285.00 L527.38 285.00 L528.53 285.00 L529.68 285.00 L530.84 285.00 L531.99 285.00 L533.14 285.00 L534.29 285.00 L535.44 285.00 L536.60 285.00 L537.75 285.00 L538.90 285.00" fill="none" stroke="#00e6e6" stroke-width="1.1" stroke-linejoin="round"/>
<polygon points="309.65,246.70 310.42,248.65 312.51,248.77 310.89,250.10 311.42,252.13 309.65,251.00 307.89,252.13 308.42,250.10 306.80,248.77 308.89,248.65" fill="#00e6e6"/>
<polygon points="321.17,269.30 321.94,271.25 324.03,271.37 322.41,272.70 322.94,274.73 321.17,273.60 319.41,274.73 319.94,272.70 318.32,271.37 320.41,271.25" fill="#00e6e6"/>
<polygon points="332.69,270.20 333.46,272.15 335.55,272.27 333.93,273.60 334.46,275.63 332.69,274.50 330.93,275.63 331.46,273.60 329.84,272.27 331.93,272.15" fill="#00e6e6"/>
<polygon points="344.21,271.60 344.98,273.55 347.07,273.67 345.45,275.00 345.98,277.03 344.21,275.90 342.45,277.03 342.98,275.00 341.36,273.67 343.45,273.55" fill="#00e6e6"/>
<polygon points="355.73,272.40 356.50,274.35 358.59,274.47 356.97,275.80 357.50,277.83 355.73,276.70 353.97,277.83 354.50,275.80 352.88,274.47 354.97,274.35" fill="#00e6e6"/>
<polygon points="367.25,272.40 368.02,274.35 370.11,274.47 368.49,275.80 369.02,277.83 367.25,276.70 365.49,277.83 366.02,275.80 364.40,274.47 366.49,274.35" fill="#00e6e6"/>
<polygon points="378.77,272.40 379.54,274.35 381.63,274.47 380.01,275.80 380.54,277.83 378.77,276.70 377.01,277.83 377.54,275.80 375.92,274.47 378.01,274.35" fill="#00e6e6"/>
<polygon points="390.29,272.40 391.06,274.35 393.15,274.47 391.53,275.80 392.06,277.83 390.29,276.70 388.53,277.83 389.06,275.80 387.44,274.47 389.53,274.35" fill="#00e6e6"/>
<polygon points="401.81,272.40 402.58,274.35 404.67,274.47 403.05,275.80 403.58,277.83 401.81,276.70 400.05,277.83 400.58,275.80 398.96,274.47 401.05,274.35" fill="#00e6e6"/>
<polygon points="413.33,272.40 414.10,274.35 416.19,274.47 414.57,275.80 415.10,277.83 413.33,276.70 411.57,277.83 412.10,275.80 410.48,274.47 412.57,274.35" fill="#00e6e6"/>
<polygon points="424.85,272.80 425.62,274.75 427.71,274.87 426.09,276.20 426.62,278.23 424.85,277.10 423.09,278.23 423.62,276.20 422.00,274.87 424.09,274.75" fill="#00e6e6"/>
<polygon points="436.37,274.50 437.14,276.45 439.23,276.57 437.61,277.90 438.14,279.93 436.37,278.80 434.61,279.93 435.14,277.90 433.52,276.57 435.61,276.45" fill="#00e6e6"/>
<polygon points="447.89,276.30 448.66,278.25 450.75,278.37 449.13,279.70 449.66,281.73 447.89,280.60 446.13,281.73 446.66,279.70 445.04,278.37 447.13,278.25" fill="#00e6e6"/>
<polygon points="459.41,279.20 460.18,281.15 462.27,281.27 460.65,282.60 461.18,284.63 459.41,283.50 457.65,284.63 458.18,282.60 456.56,281.27 458.65,281.15" fill="#00e6e6"/>
<polygon points="470.93,281.50 471.70,283.45 473.79,283.57 472.17,284.90 472.70,286.93 470.93,285.80 469.17,286.93 469.70,284.90 468.08,283.57 470.17,283.45" fill="#00e6e6"/>
<polygon points="482.45,282.00 483.22,283.95 485.31,284.07 483.69,285.40 484.22,287.43 482.45,286.30 480.69,287.43 481.22,285.40 479.60,284.07 481.69,283.95" fill="#00e6e6"/>
<polygon points="493.97,282.00 494.74,283.95 496.83,284.07 495.21,285.40 495.74,287.43 493.97,286.30 492.21,287.43 492.74,285.40 491.12,284.07 493.21,283.95" fill="#00e6e6"/>
<polygon points="505.49,282.00 506.26,283.95 508.35,284.07 506.73,285.40 507.26,287.43 505.49,286.30 503.73,287.43 504.26,285.40 502.64,284.07 504.73,283.95" fill="#00e6e6"/>
<polygon points="517.01,282.00 517.78,283.95 519.87,284.07 518.25,285.40 518.78,287.43 517.01,286.30 515.25,287.43 515.78,285.40 514.16,284.07 516.25,283.95" fill="#00e6e6"/>
<polygon points="528.53,282.00 529.30,283.95 531.39,284.07 529.77,285.40 530.30,287.43 528.53,286.30 526.77,287.43 527.30,285.40 525.68,284.07 527.77,283.95" fill="#00e6e6"/>
<path d="M309.65 247.80 L310.80 249.46 L311.96 251.00 L313.11 252.30 L314.26 253.47 L315.41 254.50 L316.56 255.42 L317.72 256.29 L318.87 257.08 L320.02 257.79 L321.17 258.40 L322.32 258.93 L323.48 259.43 L324.63 259.88 L325.78 260.31 L326.93 260.70 L328.08 261.08 L329.24 261.45 L330.39 261.80 L331.54 262.15 L332.69 262.50 L333.84 262.85 L335.00 263.18 L336.15 263.50 L337.30 263.81 L338.45 264.11 L339.60 264.41 L340.76 264.70 L341.91 265.00 L343.06 265.30 L344.21 265.60 L345.36 265.90 L346.52 266.21 L347.67 266.51 L348.82 266.82 L349.97 267.12 L351.12 267.42 L352.28 267.72 L353.43 268.01 L354.58 268.31 L355.73 268.60 L356.88 268.89 L358.04 269.19 L359.19 269.48 L360.34 269.77 L361.49 270.06 L362.64 270.35 L363.80 270.62 L364.95 270.89 L366.10 271.15 L367.25 271.40 L368.40 271.63 L369.56 271.86 L370.71 272.07 L371.86 272.28 L373.01 272.48 L374.16 272.68 L375.32 272.88 L376.47 273.08 L377.62 273.29 L378.77 273.50 L379.92 273.72 L381.08 273.95 L382.23 274.19 L383.38 274.43 L384.53 274.66 L385.68 274.90 L386.84 275.12 L387.99 275.33 L389.14 275.53 L390.29 275.70 L391.44 275.86 L392.60 276.00 L393.75 276.13 L394.90 276.26 L396.05 276.37 L397.20 276.49 L398.36 276.61 L399.51 276.73 L400.66 276.86 L401.81 277.00 L402.96 277.14 L404.12 277.28 L405.27 277.42 L406.42 277.56 L407.57 277.71 L408.72 277.86 L409.88 278.02 L411.03 278.20 L412.18 278.39 L413.33 278.60 L414.48 278.85 L415.64 279.15 L416.79 279.50 L417.94 279.87 L419.09 280.26 L420.24 280.65 L421.40 281.03 L422.55 281.39 L423.70 281.72 L424.85 282.00 L426.00 282.24 L427.16 282.45 L428.31 282.65 L429.46 282.84 L430.61 283.01 L431.76 283.19 L432.92 283.37 L434.07 283.57 L435.22 283.77 L436.37 284.00 L437.52 284.25 L438.68 284.53 L439.83 284.83 L440.98 285.15 L442.13 285.47 L443.28 285.79 L444.44 286.11 L445.59 286.42 L446.74 286.72 L447.89 287.00 L449.04 287.27 L450.20 287.53 L451.35 287.79 L452.50 288.04 L453.65 288.29 L454.80 288.53 L455.96 288.77 L457.11 288.99 L458.26 289.20 L459.41 289.40 L460.56 289.58 L461.72 289.75 L462.87 289.91 L464.02 290.06 L465.17 290.21 L466.32 290.35 L467.48 290.50 L468.63 290.66 L469.78 290.82 L470.93 291.00 L472.08 291.19 L473.24 291.39 L474.39 291.61 L475.54 291.83 L476.69 292.05 L477.84 292.28 L479.00 292.51 L480.15 292.74 L481.30 292.97 L482.45 293.20 L483.60 293.43 L484.76 293.65 L485.91 293.88 L487.06 294.11 L488.21 294.34 L489.36 294.58 L490.52 294.81 L491.67 295.04 L492.82 295.27 L493.97 295.50 L495.12 295.73 L496.28 295.96 L497.43 296.19 L498.58 296.42 L499.73 296.66 L500.88 296.89 L502.04 297.12 L503.19 297.35 L504.34 297.57 L505.49 297.80 L506.64 298.02 L507.80 298.25 L508.95 298.47 L510.10 298.69 L511.25 298.91 L512.40 299.12 L513.56 299.34 L514.71 299.56 L515.86 299.78 L517.01 300.00 L518.16 300.23 L519.32 300.46 L520.47 300.70 L521.62 300.94 L522.77 301.18 L523.92 301.41 L525.08 301.63 L526.23 301.84 L527.38 302.03 L528.53 302.20 L529.68 302.35 L530.84 302.49 L531.99 302.61 L533.14 302.73 L534.29 302.84 L535.44 302.96 L536.60 303.07 L537.75 303.18 L538.90 303.30" fill="none" stroke="#f000f0" stroke-width="1.1" stroke-linejoin="round"/>
<circle cx="309.65" cy="247.80" r="1.8" fill="#f080f0" stroke="#f000f0" stroke-width="0.8"/>
<circle cx="321.17" cy="258.40" r="1.8" fill="#f080f0" stroke="#f000f0" stroke-width="0.8"/>
<circle cx="332.69" cy="262.50" r="1.8" fill="#f080f0" stroke="#f000f0" stroke-width="0.8"/>
<circle cx="344.21" cy="265.60" r="1.8" fill="#f080f0" stroke="#f000f0" stroke-width="0.8"/>
<circle cx="355.73" cy="268.60" r="1.8" fill="#f080f0" stroke="#f000f0" stroke-width="0.8"/>
<circle cx="367.25" cy="271.40" r="1.8" fill="#f080f0" stroke="#f000f0" stroke-width="0.8"/>
<circle cx="378.77" cy="273.50" r="1.8" fill="#f080f0" stroke="#f000f0" stroke-width="0.8"/>
<circle cx="390.29" cy="275.70" r="1.8" fill="#f080f0" stroke="#f000f0" stroke-width="0.8"/>
<circle cx="401.81" cy="277.00" r="1.8" fill="#f080f0" stroke="#f000f0" stroke-width="0.8"/>
<circle cx="413.33" cy="278.60" r="1.8" fill="#f080f0" stroke="#f000f0" stroke-width="0.8"/>
<circle cx="424.85" cy="282.00" r="1.8" fill="#f080f0" stroke="#f000f0" stroke-width="0.8"/>
<circle cx="436.37" cy="284.00" r="1.8" fill="#f080f0" stroke="#f000f0" stroke-width="0.8"/>
<circle cx="447.89" cy="287.00" r="1.8" fill="#f080f0" stroke="#f000f0" stroke-width="0.8"/>
<circle cx="459.41" cy="289.40" r="1.8" fill="#f080f0" stroke="#f000f0" stroke-width="0.8"/>
<circle cx="470.93" cy="291.00" r="1.8" fill="#f080f0" stroke="#f000f0" stroke-width="0.8"/>
<circle cx="482.45" cy="293.20" r="1.8" fill="#f080f0" stroke="#f000f0" stroke-width="0.8"/>
<circle cx="493.97" cy="295.50" r="1.8" fill="#f080f0" stroke="#f000f0" stroke-width="0.8"/>
<circle cx="505.49" cy="297.80" r="1.8" fill="#f080f0" stroke="#f000f0" stroke-width="0.8"/>
<circle cx="517.01" cy="300.00" r="1.8" fill="#f080f0" stroke="#f000f0" stroke-width="0.8"/>
<circle cx="528.53" cy="302.20" r="1.8" fill="#f080f0" stroke="#f000f0" stroke-width="0.8"/>
<path d="M309.65 230.80 L310.80 262.00 L311.96 269.00 L313.11 271.24 L314.26 272.50 L315.41 273.39 L316.56 274.00 L317.72 274.42 L318.87 274.75 L320.02 275.03 L321.17 275.30 L322.32 275.55 L323.48 275.77 L324.63 275.96 L325.78 276.13 L326.93 276.31 L328.08 276.49 L329.24 276.70 L330.39 276.95 L331.54 277.24 L332.69 277.60 L333.84 278.15 L335.00 278.95 L336.15 279.92 L337.30 280.97 L338.45 282.00 L339.60 283.13 L340.76 284.42 L341.91 285.72 L343.06 286.87 L344.21 287.70 L345.36 288.29 L346.52 288.82 L347.67 289.29 L348.82 289.71 L349.97 290.09 L351.12 290.44 L352.28 290.77 L353.43 291.08 L354.58 291.39 L355.73 291.70 L356.88 292.01 L358.04 292.31 L359.19 292.60 L360.34 292.87 L361.49 293.14 L362.64 293.39 L363.80 293.63 L364.95 293.87 L366.10 294.09 L367.25 294.30 L368.40 294.50 L369.56 294.68 L370.71 294.85 L371.86 295.01 L373.01 295.17 L374.16 295.32 L375.32 295.48 L376.47 295.64 L377.62 295.82 L378.77 296.00 L379.92 296.20 L381.08 296.40 L382.23 296.61 L383.38 296.82 L384.53 297.04 L385.68 297.27 L386.84 297.50 L387.99 297.73 L389.14 297.96 L390.29 298.20 L391.44 298.44 L392.60 298.68 L393.75 298.93 L394.90 299.18 L396.05 299.44 L397.20 299.70 L398.36 299.97 L399.51 300.24 L400.66 300.52 L401.81 300.80 L402.96 301.10 L404.12 301.42 L405.27 301.76 L406.42 302.10 L407.57 302.45 L408.72 302.79 L409.88 303.13 L411.03 303.44 L412.18 303.74 L413.33 304.00 L414.48 304.24 L415.64 304.45 L416.79 304.66 L417.94 304.85 L419.09 305.03 L420.24 305.22 L421.40 305.40 L422.55 305.59 L423.70 305.79 L424.85 306.00 L426.00 306.23 L427.16 306.47 L428.31 306.71 L429.46 306.97 L430.61 307.22 L431.76 307.48 L432.92 307.73 L434.07 307.97 L435.22 308.19 L436.37 308.40 L437.52 308.60 L438.68 308.79 L439.83 308.98 L440.98 309.16 L442.13 309.33 L443.28 309.50 L444.44 309.66 L445.59 309.82 L446.74 309.96 L447.89 310.10 L449.04 310.23 L450.20 310.36 L451.35 310.49 L452.50 310.61 L453.65 310.72 L454.80 310.83 L455.96 310.93 L457.11 311.03 L458.26 311.12 L459.41 311.20 L460.56 311.28 L461.72 311.35 L462.87 311.41 L464.02 311.48 L465.17 311.54 L466.32 311.59 L467.48 311.65 L468.63 311.70 L469.78 311.75 L470.93 311.80 L472.08 311.85 L473.24 311.89 L474.39 311.94 L475.54 311.98 L476.69 312.02 L477.84 312.06 L479.00 312.09 L480.15 312.13 L481.30 312.17 L482.45 312.20 L483.60 312.24 L484.76 312.27 L485.91 312.31 L487.06 312.35 L488.21 312.38 L489.36 312.41 L490.52 312.44 L491.67 312.47 L492.82 312.49 L493.97 312.50 L495.12 312.51 L496.28 312.52 L497.43 312.53 L498.58 312.54 L499.73 312.54 L500.88 312.55 L502.04 312.56 L503.19 312.57 L504.34 312.57 L505.49 312.58 L506.64 312.59 L507.80 312.59 L508.95 312.60 L510.10 312.60 L511.25 312.61 L512.40 312.61 L513.56 312.61 L514.71 312.62 L515.86 312.62 L517.01 312.63 L518.16 312.63 L519.32 312.63 L520.47 312.64 L521.62 312.64 L522.77 312.64 L523.92 312.65 L525.08 312.65 L526.23 312.65 L527.38 312.66 L528.53 312.66 L529.68 312.67 L530.84 312.67 L531.99 312.67 L533.14 312.68 L534.29 312.68 L535.44 312.69 L536.60 312.69 L537.75 312.69 L538.90 312.70" fill="none" stroke="#2e2e2e" stroke-width="1.1" stroke-linejoin="round"/>
<path d="M307.12 230.80L311.52 228.60L311.52 233.00Z" stroke="#2e2e2e" stroke-width="0.9" fill="none"/>
<path d="M318.64 275.30L323.04 273.10L323.04 277.50Z" stroke="#2e2e2e" stroke-width="0.9" fill="none"/>
<path d="M330.16 277.60L334.56 275.40L334.56 279.80Z" stroke="#2e2e2e" stroke-width="0.9" fill="none"/>
<path d="M341.68 287.70L346.08 285.50L346.08 289.90Z" stroke="#2e2e2e" stroke-width="0.9" fill="none"/>
<path d="M353.20 291.70L357.60 289.50L357.60 293.90Z" stroke="#2e2e2e" stroke-width="0.9" fill="none"/>
<path d="M364.72 294.30L369.12 292.10L369.12 296.50Z" stroke="#2e2e2e" stroke-width="0.9" fill="none"/>
<path d="M376.24 296.00L380.64 293.80L380.64 298.20Z" stroke="#2e2e2e" stroke-width="0.9" fill="none"/>
<path d="M387.76 298.20L392.16 296.00L392.16 300.40Z" stroke="#2e2e2e" stroke-width="0.9" fill="none"/>
<path d="M399.28 300.80L403.68 298.60L403.68 303.00Z" stroke="#2e2e2e" stroke-width="0.9" fill="none"/>
<path d="M410.80 304.00L415.20 301.80L415.20 306.20Z" stroke="#2e2e2e" stroke-width="0.9" fill="none"/>
<path d="M422.32 306.00L426.72 303.80L426.72 308.20Z" stroke="#2e2e2e" stroke-width="0.9" fill="none"/>
<path d="M433.84 308.40L438.24 306.20L438.24 310.60Z" stroke="#2e2e2e" stroke-width="0.9" fill="none"/>
<path d="M445.36 310.10L449.76 307.90L449.76 312.30Z" stroke="#2e2e2e" stroke-width="0.9" fill="none"/>
<path d="M456.88 311.20L461.28 309.00L461.28 313.40Z" stroke="#2e2e2e" stroke-width="0.9" fill="none"/>
<path d="M468.40 311.80L472.80 309.60L472.80 314.00Z" stroke="#2e2e2e" stroke-width="0.9" fill="none"/>
<path d="M479.92 312.20L484.32 310.00L484.32 314.40Z" stroke="#2e2e2e" stroke-width="0.9" fill="none"/>
<path d="M491.44 312.50L495.84 310.30L495.84 314.70Z" stroke="#2e2e2e" stroke-width="0.9" fill="none"/>
<path d="M502.96 312.58L507.36 310.38L507.36 314.78Z" stroke="#2e2e2e" stroke-width="0.9" fill="none"/>
<path d="M514.48 312.63L518.88 310.43L518.88 314.83Z" stroke="#2e2e2e" stroke-width="0.9" fill="none"/>
<path d="M526.00 312.66L530.40 310.46L530.40 314.86Z" stroke="#2e2e2e" stroke-width="0.9" fill="none"/>
<path d="M309.65 289.30 L310.80 293.77 L311.96 298.00 L313.11 301.74 L314.26 305.00 L315.41 307.67 L316.56 310.00 L317.72 312.11 L318.87 314.00 L320.02 315.93 L321.17 317.20 L322.32 317.62 L323.48 317.96 L324.63 318.24 L325.78 318.46 L326.93 318.64 L328.08 318.80 L329.24 318.94 L330.39 319.07 L331.54 319.22 L332.69 319.40 L333.84 319.60 L335.00 319.80 L336.15 320.01 L337.30 320.21 L338.45 320.41 L339.60 320.59 L340.76 320.76 L341.91 320.90 L343.06 321.02 L344.21 321.10 L345.36 321.16 L346.52 321.22 L347.67 321.28 L348.82 321.33 L349.97 321.38 L351.12 321.42 L352.28 321.45 L353.43 321.48 L354.58 321.49 L355.73 321.50 L356.88 321.50 L358.04 321.50 L359.19 321.50 L360.34 321.50 L361.49 321.50 L362.64 321.50 L363.80 321.50 L364.95 321.50 L366.10 321.50 L367.25 321.50 L368.40 321.52 L369.56 321.57 L370.71 321.65 L371.86 321.76 L373.01 321.88 L374.16 322.02 L375.32 322.16 L376.47 322.31 L377.62 322.46 L378.77 322.60 L379.92 322.75 L381.08 322.92 L382.23 323.10 L383.38 323.30 L384.53 323.50 L385.68 323.70 L386.84 323.90 L387.99 324.08 L389.14 324.25 L390.29 324.40 L391.44 324.53 L392.60 324.65 L393.75 324.76 L394.90 324.86 L396.05 324.96 L397.20 325.06 L398.36 325.16 L399.51 325.27 L400.66 325.38 L401.81 325.50 L402.96 325.63 L404.12 325.78 L405.27 325.93 L406.42 326.10 L407.57 326.26 L408.72 326.42 L409.88 326.58 L411.03 326.73 L412.18 326.87 L413.33 327.00 L414.48 327.11 L415.64 327.21 L416.79 327.29 L417.94 327.37 L419.09 327.45 L420.24 327.53 L421.40 327.62 L422.55 327.73 L423.70 327.85 L424.85 328.00 L426.00 328.21 L427.16 328.52 L428.31 328.90 L429.46 329.34 L430.61 329.82 L431.76 330.31 L432.92 330.81 L434.07 331.28 L435.22 331.72 L436.37 332.10 L437.52 332.44 L438.68 332.78 L439.83 333.12 L440.98 333.44 L442.13 333.75 L443.28 334.05 L444.44 334.34 L445.59 334.61 L446.74 334.86 L447.89 335.10 L449.04 335.31 L450.20 335.51 L451.35 335.69 L452.50 335.86 L453.65 336.03 L454.80 336.19 L455.96 336.36 L457.11 336.53 L458.26 336.71 L459.41 336.90 L460.56 337.11 L461.72 337.34 L462.87 337.57 L464.02 337.82 L465.17 338.07 L466.32 338.31 L467.48 338.55 L468.63 338.78 L469.78 339.00 L470.93 339.20 L472.08 339.39 L473.24 339.56 L474.39 339.74 L475.54 339.90 L476.69 340.06 L477.84 340.22 L479.00 340.37 L480.15 340.52 L481.30 340.66 L482.45 340.80 L483.60 340.93 L484.76 341.06 L485.91 341.19 L487.06 341.30 L488.21 341.42 L489.36 341.54 L490.52 341.65 L491.67 341.77 L492.82 341.88 L493.97 342.00 L495.12 342.12 L496.28 342.25 L497.43 342.38 L498.58 342.51 L499.73 342.64 L500.88 342.77 L502.04 342.89 L503.19 343.00 L504.34 343.11 L505.49 343.20 L506.64 343.28 L507.80 343.36 L508.95 343.43 L510.10 343.49 L511.25 343.55 L512.40 343.62 L513.56 343.68 L514.71 343.75 L515.86 343.82 L517.01 343.90 L518.16 343.99 L519.32 344.09 L520.47 344.19 L521.62 344.30 L522.77 344.42 L523.92 344.54 L525.08 344.65 L526.23 344.77 L527.38 344.89 L528.53 345.00 L529.68 345.11 L530.84 345.22 L531.99 345.33 L533.14 345.44 L534.29 345.56 L535.44 345.67 L536.60 345.78 L537.75 345.89 L538.90 346.00" fill="none" stroke="#ff1818" stroke-width="1.1" stroke-linejoin="round"/>
<circle cx="309.65" cy="289.30" r="2.1" fill="none" stroke="#ff1818" stroke-width="0.95"/>
<circle cx="321.17" cy="317.20" r="2.1" fill="none" stroke="#ff1818" stroke-width="0.95"/>
<circle cx="332.69" cy="319.40" r="2.1" fill="none" stroke="#ff1818" stroke-width="0.95"/>
<circle cx="344.21" cy="321.10" r="2.1" fill="none" stroke="#ff1818" stroke-width="0.95"/>
<circle cx="355.73" cy="321.50" r="2.1" fill="none" stroke="#ff1818" stroke-width="0.95"/>
<circle cx="367.25" cy="321.50" r="2.1" fill="none" stroke="#ff1818" stroke-width="0.95"/>
<circle cx="378.77" cy="322.60" r="2.1" fill="none" stroke="#ff1818" stroke-width="0.95"/>
<circle cx="390.29" cy="324.40" r="2.1" fill="none" stroke="#ff1818" stroke-width="0.95"/>
<circle cx="401.81" cy="325.50" r="2.1" fill="none" stroke="#ff1818" stroke-width="0.95"/>
<circle cx="413.33" cy="327.00" r="2.1" fill="none" stroke="#ff1818" stroke-width="0.95"/>
<circle cx="424.85" cy="328.00" r="2.1" fill="none" stroke="#ff1818" stroke-width="0.95"/>
<circle cx="436.37" cy="332.10" r="2.1" fill="none" stroke="#ff1818" stroke-width="0.95"/>
<circle cx="447.89" cy="335.10" r="2.1" fill="none" stroke="#ff1818" stroke-width="0.95"/>
<circle cx="459.41" cy="336.90" r="2.1" fill="none" stroke="#ff1818" stroke-width="0.95"/>
<circle cx="470.93" cy="339.20" r="2.1" fill="none" stroke="#ff1818" stroke-width="0.95"/>
<circle cx="482.45" cy="340.80" r="2.1" fill="none" stroke="#ff1818" stroke-width="0.95"/>
<circle cx="493.97" cy="342.00" r="2.1" fill="none" stroke="#ff1818" stroke-width="0.95"/>
<circle cx="505.49" cy="343.20" r="2.1" fill="none" stroke="#ff1818" stroke-width="0.95"/>
<circle cx="517.01" cy="343.90" r="2.1" fill="none" stroke="#ff1818" stroke-width="0.95"/>
<circle cx="528.53" cy="345.00" r="2.1" fill="none" stroke="#ff1818" stroke-width="0.95"/>
<rect x="308.50" y="212.00" width="230.4" height="155.0" fill="none" stroke="#646464" stroke-width="1.0"/>
<path d="M308.50 367.00V364.40M308.50 212.00V214.60" stroke="#646464" stroke-width="0.9"/>
<text x="308.50" y="379.00" text-anchor="middle" font-size="9.0" fill="#222" font-family="Liberation Serif, serif">0</text>
<path d="M366.10 367.00V364.40M366.10 212.00V214.60" stroke="#646464" stroke-width="0.9"/>
<text x="366.10" y="379.00" text-anchor="middle" font-size="9.0" fill="#222" font-family="Liberation Serif, serif">50</text>
<path d="M423.70 367.00V364.40M423.70 212.00V214.60" stroke="#646464" stroke-width="0.9"/>
<text x="423.70" y="379.00" text-anchor="middle" font-size="9.0" fill="#222" font-family="Liberation Serif, serif">100</text>
<path d="M481.30 367.00V364.40M481.30 212.00V214.60" stroke="#646464" stroke-width="0.9"/>
<text x="481.30" y="379.00" text-anchor="middle" font-size="9.0" fill="#222" font-family="Liberation Serif, serif">150</text>
<path d="M538.90 367.00V364.40M538.90 212.00V214.60" stroke="#646464" stroke-width="0.9"/>
<text x="538.90" y="379.00" text-anchor="middle" font-size="9.0" fill="#222" font-family="Liberation Serif, serif">200</text>
<path d="M308.50 367.00H311.10M538.90 367.00H536.30" stroke="#646464" stroke-width="0.9"/>
<text x="305.80" y="370.50" text-anchor="end" letter-spacing="-0.12" font-size="8.9" fill="#222" style="stroke-width:0.3px" font-family="Liberation Serif, serif">0.20</text>
<path d="M308.50 336.00H311.10M538.90 336.00H536.30" stroke="#646464" stroke-width="0.9"/>
<text x="305.80" y="339.50" text-anchor="end" letter-spacing="-0.12" font-size="8.9" fill="#222" style="stroke-width:0.3px" font-family="Liberation Serif, serif">0.25</text>
<path d="M308.50 305.00H311.10M538.90 305.00H536.30" stroke="#646464" stroke-width="0.9"/>
<text x="305.80" y="308.50" text-anchor="end" letter-spacing="-0.12" font-size="8.9" fill="#222" style="stroke-width:0.3px" font-family="Liberation Serif, serif">0.30</text>
<path d="M308.50 274.00H311.10M538.90 274.00H536.30" stroke="#646464" stroke-width="0.9"/>
<text x="305.80" y="277.50" text-anchor="end" letter-spacing="-0.12" font-size="8.9" fill="#222" style="stroke-width:0.3px" font-family="Liberation Serif, serif">0.35</text>
<path d="M308.50 243.00H311.10M538.90 243.00H536.30" stroke="#646464" stroke-width="0.9"/>
<text x="305.80" y="246.50" text-anchor="end" letter-spacing="-0.12" font-size="8.9" fill="#222" style="stroke-width:0.3px" font-family="Liberation Serif, serif">0.40</text>
<path d="M308.50 212.00H311.10M538.90 212.00H536.30" stroke="#646464" stroke-width="0.9"/>
<text x="305.80" y="215.50" text-anchor="end" letter-spacing="-0.12" font-size="8.9" fill="#222" style="stroke-width:0.3px" font-family="Liberation Serif, serif">0.45</text>
<text x="423.70" y="390.30" text-anchor="middle" font-size="10.2" fill="#222" font-family="Liberation Serif, serif">Iter</text>
<text transform="translate(287.90 289.50) rotate(-90)" text-anchor="middle" font-size="9.1" letter-spacing="0.24" fill="#333" style="stroke-width:0.12px" font-family="Liberation Serif, serif">mean finess value</text>
<text x="411.70" y="406.40" text-anchor="middle" font-size="10.6" letter-spacing="0.3" fill="#1a1a1a" style="stroke-width:0.08px" font-family="Liberation Serif, serif"><tspan font-weight="bold">(h)</tspan> Task 400</text>
<rect x="489.40" y="217.00" width="44.8" height="62.9" fill="#fff" stroke="#646464" stroke-width="0.8"/>
<path d="M491.30 222.10H509.90" stroke="#3434ff" stroke-width="1.0"/>
<path d="M498.50 222.10H502.90M500.70 219.90V224.30" stroke="#3434ff" stroke-width="0.9" fill="none"/>
<text x="511.40" y="225.00" font-size="7.3" fill="#222" font-family="Liberation Serif, serif">GA</text>
<path d="M491.30 230.88H509.90" stroke="#00ee00" stroke-width="1.0"/>
<circle cx="500.70" cy="230.88" r="1.8" fill="#00ee00"/>
<text x="511.40" y="233.78" font-size="7.3" fill="#222" font-family="Liberation Serif, serif">WOA</text>
<path d="M491.30 239.66H509.90" stroke="#2a2aff" stroke-width="1.0"/>
<path d="M503.23 239.66L498.83 237.46L498.83 241.86Z" stroke="#2a2aff" stroke-width="0.9" fill="none"/>
<text x="511.40" y="242.56" font-size="7.3" fill="#222" font-family="Liberation Serif, serif">GWO</text>
<path d="M491.30 248.44H509.90" stroke="#00e6e6" stroke-width="1.0"/>
<polygon points="500.70,245.44 501.46,247.39 503.55,247.51 501.94,248.84 502.46,250.87 500.70,249.74 498.94,250.87 499.46,248.84 497.85,247.51 499.94,247.39" fill="#00e6e6"/>
<text x="511.40" y="251.34" font-size="7.3" fill="#222" font-family="Liberation Serif, serif">SSA</text>
<path d="M491.30 257.22H509.90" stroke="#f000f0" stroke-width="1.0"/>
<circle cx="500.70" cy="257.22" r="1.8" fill="#f080f0" stroke="#f000f0" stroke-width="0.8"/>
<text x="511.40" y="260.12" font-size="7.3" fill="#222" font-family="Liberation Serif, serif">PSO</text>
<path d="M491.30 266.00H509.90" stroke="#2e2e2e" stroke-width="1.0"/>
<path d="M498.17 266.00L502.57 263.80L502.57 268.20Z" stroke="#2e2e2e" stroke-width="0.9" fill="none"/>
<text x="511.40" y="268.90" font-size="7.3" fill="#222" font-family="Liberation Serif, serif">ALO</text>
<path d="M491.30 274.78H509.90" stroke="#ff1818" stroke-width="1.0"/>
<circle cx="500.70" cy="274.78" r="2.1" fill="none" stroke="#ff1818" stroke-width="0.95"/>
<text x="511.40" y="277.68" font-size="7.3" fill="#222" font-family="Liberation Serif, serif">HALO</text>
<path d="M170.75 451.20 L171.90 453.07 L173.06 454.90 L174.21 456.67 L175.36 458.38 L176.51 459.90 L177.66 461.22 L178.82 462.45 L179.97 463.58 L181.12 464.63 L182.27 465.60 L183.42 466.51 L184.58 467.39 L185.73 468.22 L186.88 469.03 L188.03 469.79 L189.18 470.53 L190.34 471.24 L191.49 471.92 L192.64 472.57 L193.79 473.20 L194.94 473.81 L196.10 474.42 L197.25 475.01 L198.40 475.58 L199.55 476.13 L200.70 476.65 L201.86 477.14 L203.01 477.60 L204.16 478.02 L205.31 478.40 L206.46 478.74 L207.62 479.07 L208.77 479.37 L209.92 479.66 L211.07 479.93 L212.22 480.19 L213.38 480.43 L214.53 480.67 L215.68 480.89 L216.83 481.10 L217.98 481.30 L219.14 481.50 L220.29 481.69 L221.44 481.87 L222.59 482.04 L223.74 482.21 L224.90 482.37 L226.05 482.52 L227.20 482.66 L228.35 482.80 L229.50 482.93 L230.66 483.04 L231.81 483.15 L232.96 483.26 L234.11 483.36 L235.26 483.46 L236.42 483.56 L237.57 483.67 L238.72 483.78 L239.87 483.90 L241.02 484.03 L242.18 484.18 L243.33 484.33 L244.48 484.49 L245.63 484.65 L246.78 484.81 L247.94 484.97 L249.09 485.12 L250.24 485.27 L251.39 485.40 L252.54 485.52 L253.70 485.65 L254.85 485.76 L256.00 485.87 L257.15 485.98 L258.30 486.09 L259.46 486.20 L260.61 486.30 L261.76 486.40 L262.91 486.50 L264.06 486.59 L265.22 486.68 L266.37 486.76 L267.52 486.84 L268.67 486.92 L269.82 487.00 L270.98 487.09 L272.13 487.18 L273.28 487.28 L274.43 487.40 L275.58 487.54 L276.74 487.71 L277.89 487.91 L279.04 488.12 L280.19 488.34 L281.34 488.57 L282.50 488.79 L283.65 489.01 L284.80 489.22 L285.95 489.40 L287.10 489.57 L288.26 489.72 L289.41 489.88 L290.56 490.02 L291.71 490.17 L292.86 490.31 L294.02 490.45 L295.17 490.59 L296.32 490.74 L297.47 490.90 L298.62 491.06 L299.78 491.24 L300.93 491.42 L302.08 491.60 L303.23 491.78 L304.38 491.96 L305.54 492.14 L306.69 492.30 L307.84 492.46 L308.99 492.60 L310.14 492.73 L311.30 492.84 L312.45 492.95 L313.60 493.06 L314.75 493.16 L315.90 493.26 L317.06 493.36 L318.21 493.47 L319.36 493.58 L320.51 493.70 L321.66 493.83 L322.82 493.97 L323.97 494.11 L325.12 494.26 L326.27 494.42 L327.42 494.57 L328.58 494.73 L329.73 494.89 L330.88 495.04 L332.03 495.20 L333.18 495.36 L334.34 495.51 L335.49 495.67 L336.64 495.83 L337.79 495.99 L338.94 496.15 L340.10 496.31 L341.25 496.47 L342.40 496.64 L343.55 496.80 L344.70 496.97 L345.86 497.14 L347.01 497.31 L348.16 497.49 L349.31 497.66 L350.46 497.84 L351.62 498.01 L352.77 498.18 L353.92 498.34 L355.07 498.50 L356.22 498.65 L357.38 498.80 L358.53 498.95 L359.68 499.09 L360.83 499.23 L361.98 499.37 L363.14 499.50 L364.29 499.64 L365.44 499.77 L366.59 499.90 L367.74 500.03 L368.90 500.15 L370.05 500.28 L371.20 500.40 L372.35 500.52 L373.50 500.64 L374.66 500.75 L375.81 500.87 L376.96 500.99 L378.11 501.10 L379.26 501.21 L380.42 501.33 L381.57 501.44 L382.72 501.55 L383.87 501.66 L385.02 501.76 L386.18 501.87 L387.33 501.98 L388.48 502.09 L389.63 502.20 L390.78 502.31 L391.94 502.42 L393.09 502.53 L394.24 502.64 L395.39 502.76 L396.54 502.87 L397.70 502.98 L398.85 503.09 L400.00 503.20" fill="none" stroke="#3434ff" stroke-width="1.1" stroke-linejoin="round"/>
<path d="M168.55 451.20H172.95M170.75 449.00V453.40" stroke="#3434ff" stroke-width="0.9" fill="none"/>
<path d="M180.07 465.60H184.47M182.27 463.40V467.80" stroke="#3434ff" stroke-width="0.9" fill="none"/>
<path d="M191.59 473.20H195.99M193.79 471.00V475.40" stroke="#3434ff" stroke-width="0.9" fill="none"/>
<path d="M203.11 478.40H207.51M205.31 476.20V480.60" stroke="#3434ff" stroke-width="0.9" fill="none"/>
<path d="M214.63 481.10H219.03M216.83 478.90V483.30" stroke="#3434ff" stroke-width="0.9" fill="none"/>
<path d="M226.15 482.80H230.55M228.35 480.60V485.00" stroke="#3434ff" stroke-width="0.9" fill="none"/>
<path d="M237.67 483.90H242.07M239.87 481.70V486.10" stroke="#3434ff" stroke-width="0.9" fill="none"/>
<path d="M249.19 485.40H253.59M251.39 483.20V487.60" stroke="#3434ff" stroke-width="0.9" fill="none"/>
<path d="M260.71 486.50H265.11M262.91 484.30V488.70" stroke="#3434ff" stroke-width="0.9" fill="none"/>
<path d="M272.23 487.40H276.63M274.43 485.20V489.60" stroke="#3434ff" stroke-width="0.9" fill="none"/>
<path d="M283.75 489.40H288.15M285.95 487.20V491.60" stroke="#3434ff" stroke-width="0.9" fill="none"/>
<path d="M295.27 490.90H299.67M297.47 488.70V493.10" stroke="#3434ff" stroke-width="0.9" fill="none"/>
<path d="M306.79 492.60H311.19M308.99 490.40V494.80" stroke="#3434ff" stroke-width="0.9" fill="none"/>
<path d="M318.31 493.70H322.71M320.51 491.50V495.90" stroke="#3434ff" stroke-width="0.9" fill="none"/>
<path d="M329.83 495.20H334.23M332.03 493.00V497.40" stroke="#3434ff" stroke-width="0.9" fill="none"/>
<path d="M341.35 496.80H345.75M343.55 494.60V499.00" stroke="#3434ff" stroke-width="0.9" fill="none"/>
<path d="M352.87 498.50H357.27M355.07 496.30V500.70" stroke="#3434ff" stroke-width="0.9" fill="none"/>
<path d="M364.39 499.90H368.79M366.59 497.70V502.10" stroke="#3434ff" stroke-width="0.9" fill="none"/>
<path d="M375.91 501.10H380.31M378.11 498.90V503.30" stroke="#3434ff" stroke-width="0.9" fill="none"/>
<path d="M387.43 502.20H391.83M389.63 500.00V504.40" stroke="#3434ff" stroke-width="0.9" fill="none"/>
<path d="M170.75 454.20 L171.90 471.90 L173.06 483.90 L174.21 488.26 L175.36 490.90 L176.51 492.93 L177.66 494.40 L178.82 495.53 L179.97 496.50 L181.12 497.29 L182.27 497.90 L183.42 498.39 L184.58 498.83 L185.73 499.22 L186.88 499.58 L188.03 499.91 L189.18 500.21 L190.34 500.48 L191.49 500.73 L192.64 500.97 L193.79 501.20 L194.94 501.41 L196.10 501.60 L197.25 501.78 L198.40 501.94 L199.55 502.09 L200.70 502.24 L201.86 502.39 L203.01 502.55 L204.16 502.72 L205.31 502.90 L206.46 503.10 L207.62 503.31 L208.77 503.54 L209.92 503.77 L211.07 504.00 L212.22 504.23 L213.38 504.46 L214.53 504.69 L215.68 504.90 L216.83 505.10 L217.98 505.29 L219.14 505.47 L220.29 505.65 L221.44 505.82 L222.59 505.98 L223.74 506.15 L224.90 506.31 L226.05 506.47 L227.20 506.64 L228.35 506.80 L229.50 506.96 L230.66 507.13 L231.81 507.29 L232.96 507.45 L234.11 507.61 L235.26 507.77 L236.42 507.93 L237.57 508.09 L238.72 508.24 L239.87 508.40 L241.02 508.55 L242.18 508.70 L243.33 508.85 L244.48 509.00 L245.63 509.14 L246.78 509.29 L247.94 509.44 L249.09 509.59 L250.24 509.74 L251.39 509.90 L252.54 510.06 L253.70 510.22 L254.85 510.39 L256.00 510.56 L257.15 510.73 L258.30 510.90 L259.46 511.08 L260.61 511.25 L261.76 511.43 L262.91 511.60 L264.06 511.78 L265.22 511.97 L266.37 512.16 L267.52 512.35 L268.67 512.55 L269.82 512.74 L270.98 512.92 L272.13 513.09 L273.28 513.25 L274.43 513.40 L275.58 513.53 L276.74 513.63 L277.89 513.73 L279.04 513.82 L280.19 513.91 L281.34 514.00 L282.50 514.10 L283.65 514.21 L284.80 514.34 L285.95 514.50 L287.10 514.73 L288.26 515.06 L289.41 515.46 L290.56 515.91 L291.71 516.39 L292.86 516.86 L294.02 517.32 L295.17 517.73 L296.32 518.06 L297.47 518.30 L298.62 518.47 L299.78 518.63 L300.93 518.77 L302.08 518.89 L303.23 519.01 L304.38 519.11 L305.54 519.21 L306.69 519.31 L307.84 519.41 L308.99 519.50 L310.14 519.59 L311.30 519.68 L312.45 519.77 L313.60 519.85 L314.75 519.93 L315.90 520.00 L317.06 520.08 L318.21 520.15 L319.36 520.23 L320.51 520.30 L321.66 520.37 L322.82 520.45 L323.97 520.52 L325.12 520.59 L326.27 520.66 L327.42 520.73 L328.58 520.80 L329.73 520.87 L330.88 520.93 L332.03 521.00 L333.18 521.06 L334.34 521.13 L335.49 521.19 L336.64 521.25 L337.79 521.31 L338.94 521.37 L340.10 521.43 L341.25 521.49 L342.40 521.54 L343.55 521.60 L344.70 521.65 L345.86 521.71 L347.01 521.76 L348.16 521.82 L349.31 521.87 L350.46 521.92 L351.62 521.97 L352.77 522.02 L353.92 522.06 L355.07 522.10 L356.22 522.14 L357.38 522.17 L358.53 522.20 L359.68 522.23 L360.83 522.25 L361.98 522.28 L363.14 522.31 L364.29 522.34 L365.44 522.37 L366.59 522.40 L367.74 522.44 L368.90 522.47 L370.05 522.52 L371.20 522.56 L372.35 522.60 L373.50 522.64 L374.66 522.68 L375.81 522.73 L376.96 522.76 L378.11 522.80 L379.26 522.83 L380.42 522.86 L381.57 522.90 L382.72 522.92 L383.87 522.95 L385.02 522.98 L386.18 523.01 L387.33 523.04 L388.48 523.07 L389.63 523.10 L390.78 523.13 L391.94 523.16 L393.09 523.20 L394.24 523.23 L395.39 523.26 L396.54 523.30 L397.70 523.33 L398.85 523.37 L400.00 523.40" fill="none" stroke="#00ee00" stroke-width="1.1" stroke-linejoin="round"/>
<circle cx="170.75" cy="454.20" r="1.8" fill="#00ee00"/>
<circle cx="182.27" cy="497.90" r="1.8" fill="#00ee00"/>
<circle cx="193.79" cy="501.20" r="1.8" fill="#00ee00"/>
<circle cx="205.31" cy="502.90" r="1.8" fill="#00ee00"/>
<circle cx="216.83" cy="505.10" r="1.8" fill="#00ee00"/>
<circle cx="228.35" cy="506.80" r="1.8" fill="#00ee00"/>
<circle cx="239.87" cy="508.40" r="1.8" fill="#00ee00"/>
<circle cx="251.39" cy="509.90" r="1.8" fill="#00ee00"/>
<circle cx="262.91" cy="511.60" r="1.8" fill="#00ee00"/>
<circle cx="274.43" cy="513.40" r="1.8" fill="#00ee00"/>
<circle cx="285.95" cy="514.50" r="1.8" fill="#00ee00"/>
<circle cx="297.47" cy="518.30" r="1.8" fill="#00ee00"/>
<circle cx="308.99" cy="519.50" r="1.8" fill="#00ee00"/>
<circle cx="320.51" cy="520.30" r="1.8" fill="#00ee00"/>
<circle cx="332.03" cy="521.00" r="1.8" fill="#00ee00"/>
<circle cx="343.55" cy="521.60" r="1.8" fill="#00ee00"/>
<circle cx="355.07" cy="522.10" r="1.8" fill="#00ee00"/>
<circle cx="366.59" cy="522.40" r="1.8" fill="#00ee00"/>
<circle cx="378.11" cy="522.80" r="1.8" fill="#00ee00"/>
<circle cx="389.63" cy="523.10" r="1.8" fill="#00ee00"/>
<path d="M170.75 453.20 L171.90 456.17 L173.06 458.90 L174.21 461.18 L175.36 463.21 L176.51 464.90 L177.66 466.31 L178.82 467.56 L179.97 468.68 L181.12 469.72 L182.27 470.70 L183.42 471.65 L184.58 472.56 L185.73 473.44 L186.88 474.29 L188.03 475.10 L189.18 475.88 L190.34 476.63 L191.49 477.35 L192.64 478.04 L193.79 478.70 L194.94 479.35 L196.10 480.00 L197.25 480.64 L198.40 481.27 L199.55 481.87 L200.70 482.43 L201.86 482.94 L203.01 483.40 L204.16 483.79 L205.31 484.10 L206.46 484.36 L207.62 484.58 L208.77 484.79 L209.92 484.98 L211.07 485.15 L212.22 485.31 L213.38 485.46 L214.53 485.61 L215.68 485.75 L216.83 485.90 L217.98 486.05 L219.14 486.19 L220.29 486.34 L221.44 486.47 L222.59 486.61 L223.74 486.73 L224.90 486.86 L226.05 486.98 L227.20 487.09 L228.35 487.20 L229.50 487.30 L230.66 487.41 L231.81 487.51 L232.96 487.60 L234.11 487.69 L235.26 487.78 L236.42 487.87 L237.57 487.95 L238.72 488.03 L239.87 488.10 L241.02 488.17 L242.18 488.24 L243.33 488.30 L244.48 488.36 L245.63 488.42 L246.78 488.48 L247.94 488.54 L249.09 488.59 L250.24 488.65 L251.39 488.70 L252.54 488.75 L253.70 488.80 L254.85 488.85 L256.00 488.90 L257.15 488.95 L258.30 489.00 L259.46 489.05 L260.61 489.10 L261.76 489.15 L262.91 489.20 L264.06 489.25 L265.22 489.31 L266.37 489.36 L267.52 489.42 L268.67 489.48 L269.82 489.54 L270.98 489.60 L272.13 489.66 L273.28 489.73 L274.43 489.80 L275.58 489.87 L276.74 489.95 L277.89 490.04 L279.04 490.12 L280.19 490.21 L281.34 490.30 L282.50 490.40 L283.65 490.50 L284.80 490.60 L285.95 490.70 L287.10 490.81 L288.26 490.92 L289.41 491.05 L290.56 491.17 L291.71 491.30 L292.86 491.43 L294.02 491.55 L295.17 491.68 L296.32 491.79 L297.47 491.90 L298.62 492.00 L299.78 492.10 L300.93 492.21 L302.08 492.30 L303.23 492.40 L304.38 492.49 L305.54 492.58 L306.69 492.66 L307.84 492.73 L308.99 492.80 L310.14 492.86 L311.30 492.91 L312.45 492.96 L313.60 493.00 L314.75 493.04 L315.90 493.09 L317.06 493.13 L318.21 493.18 L319.36 493.24 L320.51 493.30 L321.66 493.37 L322.82 493.45 L323.97 493.54 L325.12 493.64 L326.27 493.75 L327.42 493.86 L328.58 493.98 L329.73 494.11 L330.88 494.25 L332.03 494.40 L333.18 494.56 L334.34 494.75 L335.49 494.96 L336.64 495.19 L337.79 495.43 L338.94 495.69 L340.10 495.95 L341.25 496.23 L342.40 496.51 L343.55 496.80 L344.70 497.10 L345.86 497.41 L347.01 497.74 L348.16 498.09 L349.31 498.45 L350.46 498.82 L351.62 499.20 L352.77 499.60 L353.92 499.99 L355.07 500.40 L356.22 500.83 L357.38 501.28 L358.53 501.76 L359.68 502.26 L360.83 502.76 L361.98 503.26 L363.14 503.75 L364.29 504.23 L365.44 504.68 L366.59 505.10 L367.74 505.49 L368.90 505.84 L370.05 506.18 L371.20 506.51 L372.35 506.82 L373.50 507.15 L374.66 507.48 L375.81 507.82 L376.96 508.20 L378.11 508.60 L379.26 509.05 L380.42 509.55 L381.57 510.08 L382.72 510.64 L383.87 511.22 L385.02 511.79 L386.18 512.36 L387.33 512.91 L388.48 513.43 L389.63 513.90 L390.78 514.34 L391.94 514.75 L393.09 515.14 L394.24 515.53 L395.39 515.90 L396.54 516.27 L397.70 516.64 L398.85 517.02 L400.00 517.40" fill="none" stroke="#2a2aff" stroke-width="1.1" stroke-linejoin="round"/>
<path d="M173.28 453.20L168.88 451.00L168.88 455.40Z" stroke="#2a2aff" stroke-width="0.9" fill="none"/>
<path d="M184.80 470.70L180.40 468.50L180.40 472.90Z" stroke="#2a2aff" stroke-width="0.9" fill="none"/>
<path d="M196.32 478.70L191.92 476.50L191.92 480.90Z" stroke="#2a2aff" stroke-width="0.9" fill="none"/>
<path d="M207.84 484.10L203.44 481.90L203.44 486.30Z" stroke="#2a2aff" stroke-width="0.9" fill="none"/>
<path d="M219.36 485.90L214.96 483.70L214.96 488.10Z" stroke="#2a2aff" stroke-width="0.9" fill="none"/>
<path d="M230.88 487.20L226.48 485.00L226.48 489.40Z" stroke="#2a2aff" stroke-width="0.9" fill="none"/>
<path d="M242.40 488.10L238.00 485.90L238.00 490.30Z" stroke="#2a2aff" stroke-width="0.9" fill="none"/>
<path d="M253.92 488.70L249.52 486.50L249.52 490.90Z" stroke="#2a2aff" stroke-width="0.9" fill="none"/>
<path d="M265.44 489.20L261.04 487.00L261.04 491.40Z" stroke="#2a2aff" stroke-width="0.9" fill="none"/>
<path d="M276.96 489.80L272.56 487.60L272.56 492.00Z" stroke="#2a2aff" stroke-width="0.9" fill="none"/>
<path d="M288.48 490.70L284.08 488.50L284.08 492.90Z" stroke="#2a2aff" stroke-width="0.9" fill="none"/>
<path d="M300.00 491.90L295.60 489.70L295.60 494.10Z" stroke="#2a2aff" stroke-width="0.9" fill="none"/>
<path d="M311.52 492.80L307.12 490.60L307.12 495.00Z" stroke="#2a2aff" stroke-width="0.9" fill="none"/>
<path d="M323.04 493.30L318.64 491.10L318.64 495.50Z" stroke="#2a2aff" stroke-width="0.9" fill="none"/>
<path d="M334.56 494.40L330.16 492.20L330.16 496.60Z" stroke="#2a2aff" stroke-width="0.9" fill="none"/>
<path d="M346.08 496.80L341.68 494.60L341.68 499.00Z" stroke="#2a2aff" stroke-width="0.9" fill="none"/>
<path d="M357.60 500.40L353.20 498.20L353.20 502.60Z" stroke="#2a2aff" stroke-width="0.9" fill="none"/>
<path d="M369.12 505.10L364.72 502.90L364.72 507.30Z" stroke="#2a2aff" stroke-width="0.9" fill="none"/>
<path d="M380.64 508.60L376.24 506.40L376.24 510.80Z" stroke="#2a2aff" stroke-width="0.9" fill="none"/>
<path d="M392.16 513.90L387.76 511.70L387.76 516.10Z" stroke="#2a2aff" stroke-width="0.9" fill="none"/>
<path d="M170.75 453.20 L171.90 461.90 L173.06 469.90 L174.21 472.25 L175.36 473.40 L176.51 474.01 L177.66 474.50 L178.82 474.89 L179.97 475.19 L181.12 475.42 L182.27 475.60 L183.42 475.75 L184.58 475.89 L185.73 476.01 L186.88 476.12 L188.03 476.21 L189.18 476.30 L190.34 476.38 L191.49 476.45 L192.64 476.53 L193.79 476.60 L194.94 476.68 L196.10 476.76 L197.25 476.84 L198.40 476.92 L199.55 476.99 L200.70 477.06 L201.86 477.12 L203.01 477.16 L204.16 477.19 L205.31 477.20 L206.46 477.20 L207.62 477.20 L208.77 477.20 L209.92 477.20 L211.07 477.20 L212.22 477.20 L213.38 477.20 L214.53 477.20 L215.68 477.20 L216.83 477.20 L217.98 477.20 L219.14 477.20 L220.29 477.20 L221.44 477.20 L222.59 477.20 L223.74 477.20 L224.90 477.20 L226.05 477.20 L227.20 477.20 L228.35 477.20 L229.50 477.20 L230.66 477.20 L231.81 477.20 L232.96 477.20 L234.11 477.20 L235.26 477.20 L236.42 477.20 L237.57 477.20 L238.72 477.20 L239.87 477.20 L241.02 477.20 L242.18 477.20 L243.33 477.20 L244.48 477.20 L245.63 477.20 L246.78 477.20 L247.94 477.20 L249.09 477.20 L250.24 477.20 L251.39 477.20 L252.54 477.20 L253.70 477.20 L254.85 477.20 L256.00 477.20 L257.15 477.20 L258.30 477.20 L259.46 477.20 L260.61 477.20 L261.76 477.20 L262.91 477.20 L264.06 477.20 L265.22 477.20 L266.37 477.20 L267.52 477.20 L268.67 477.20 L269.82 477.20 L270.98 477.20 L272.13 477.20 L273.28 477.20 L274.43 477.20 L275.58 477.19 L276.74 477.18 L277.89 477.16 L279.04 477.13 L280.19 477.10 L281.34 477.07 L282.50 477.04 L283.65 477.02 L284.80 477.01 L285.95 477.00 L287.10 477.05 L288.26 477.19 L289.41 477.41 L290.56 477.68 L291.71 477.99 L292.86 478.33 L294.02 478.68 L295.17 479.02 L296.32 479.33 L297.47 479.60 L298.62 479.84 L299.78 480.07 L300.93 480.29 L302.08 480.51 L303.23 480.73 L304.38 480.94 L305.54 481.17 L306.69 481.40 L307.84 481.64 L308.99 481.90 L310.14 482.17 L311.30 482.47 L312.45 482.77 L313.60 483.09 L314.75 483.41 L315.90 483.74 L317.06 484.06 L318.21 484.39 L319.36 484.70 L320.51 485.00 L321.66 485.31 L322.82 485.63 L323.97 485.97 L325.12 486.30 L326.27 486.63 L327.42 486.94 L328.58 487.22 L329.73 487.46 L330.88 487.66 L332.03 487.80 L333.18 487.91 L334.34 488.02 L335.49 488.12 L336.64 488.21 L337.79 488.29 L338.94 488.36 L340.10 488.42 L341.25 488.46 L342.40 488.49 L343.55 488.50 L344.70 488.50 L345.86 488.50 L347.01 488.50 L348.16 488.50 L349.31 488.50 L350.46 488.50 L351.62 488.50 L352.77 488.50 L353.92 488.50 L355.07 488.50 L356.22 488.50 L357.38 488.50 L358.53 488.50 L359.68 488.50 L360.83 488.50 L361.98 488.50 L363.14 488.50 L364.29 488.50 L365.44 488.50 L366.59 488.50 L367.74 488.50 L368.90 488.50 L370.05 488.50 L371.20 488.50 L372.35 488.50 L373.50 488.50 L374.66 488.50 L375.81 488.50 L376.96 488.50 L378.11 488.50 L379.26 488.50 L380.42 488.50 L381.57 488.50 L382.72 488.50 L383.87 488.50 L385.02 488.50 L386.18 488.50 L387.33 488.50 L388.48 488.50 L389.63 488.50 L390.78 488.50 L391.94 488.50 L393.09 488.50 L394.24 488.50 L395.39 488.50 L396.54 488.50 L397.70 488.50 L398.85 488.50 L400.00 488.50" fill="none" stroke="#00e6e6" stroke-width="1.1" stroke-linejoin="round"/>
<polygon points="170.75,450.20 171.52,452.15 173.61,452.27 171.99,453.60 172.52,455.63 170.75,454.50 168.99,455.63 169.52,453.60 167.90,452.27 169.99,452.15" fill="#00e6e6"/>
<polygon points="182.27,472.60 183.04,474.55 185.13,474.67 183.51,476.00 184.04,478.03 182.27,476.90 180.51,478.03 181.04,476.00 179.42,474.67 181.51,474.55" fill="#00e6e6"/>
<polygon points="193.79,473.60 194.56,475.55 196.65,475.67 195.03,477.00 195.56,479.03 193.79,477.90 192.03,479.03 192.56,477.00 190.94,475.67 193.03,475.55" fill="#00e6e6"/>
<polygon points="205.31,474.20 206.08,476.15 208.17,476.27 206.55,477.60 207.08,479.63 205.31,478.50 203.55,479.63 204.08,477.60 202.46,476.27 204.55,476.15" fill="#00e6e6"/>
<polygon points="216.83,474.20 217.60,476.15 219.69,476.27 218.07,477.60 218.60,479.63 216.83,478.50 215.07,479.63 215.60,477.60 213.98,476.27 216.07,476.15" fill="#00e6e6"/>
<polygon points="228.35,474.20 229.12,476.15 231.21,476.27 229.59,477.60 230.12,479.63 228.35,478.50 226.59,479.63 227.12,477.60 225.50,476.27 227.59,476.15" fill="#00e6e6"/>
<polygon points="239.87,474.20 240.64,476.15 242.73,476.27 241.11,477.60 241.64,479.63 239.87,478.50 238.11,479.63 238.64,477.60 237.02,476.27 239.11,476.15" fill="#00e6e6"/>
<polygon points="251.39,474.20 252.16,476.15 254.25,476.27 252.63,477.60 253.16,479.63 251.39,478.50 249.63,479.63 250.16,477.60 248.54,476.27 250.63,476.15" fill="#00e6e6"/>
<polygon points="262.91,474.20 263.68,476.15 265.77,476.27 264.15,477.60 264.68,479.63 262.91,478.50 261.15,479.63 261.68,477.60 260.06,476.27 262.15,476.15" fill="#00e6e6"/>
<polygon points="274.43,474.20 275.20,476.15 277.29,476.27 275.67,477.60 276.20,479.63 274.43,478.50 272.67,479.63 273.20,477.60 271.58,476.27 273.67,476.15" fill="#00e6e6"/>
<polygon points="285.95,474.00 286.72,475.95 288.81,476.07 287.19,477.40 287.72,479.43 285.95,478.30 284.19,479.43 284.72,477.40 283.10,476.07 285.19,475.95" fill="#00e6e6"/>
<polygon points="297.47,476.60 298.24,478.55 300.33,478.67 298.71,480.00 299.24,482.03 297.47,480.90 295.71,482.03 296.24,480.00 294.62,478.67 296.71,478.55" fill="#00e6e6"/>
<polygon points="308.99,478.90 309.76,480.85 311.85,480.97 310.23,482.30 310.76,484.33 308.99,483.20 307.23,484.33 307.76,482.30 306.14,480.97 308.23,480.85" fill="#00e6e6"/>
<polygon points="320.51,482.00 321.28,483.95 323.37,484.07 321.75,485.40 322.28,487.43 320.51,486.30 318.75,487.43 319.28,485.40 317.66,484.07 319.75,483.95" fill="#00e6e6"/>
<polygon points="332.03,484.80 332.80,486.75 334.89,486.87 333.27,488.20 333.80,490.23 332.03,489.10 330.27,490.23 330.80,488.20 329.18,486.87 331.27,486.75" fill="#00e6e6"/>
<polygon points="343.55,485.50 344.32,487.45 346.41,487.57 344.79,488.90 345.32,490.93 343.55,489.80 341.79,490.93 342.32,488.90 340.70,487.57 342.79,487.45" fill="#00e6e6"/>
<polygon points="355.07,485.50 355.84,487.45 357.93,487.57 356.31,488.90 356.84,490.93 355.07,489.80 353.31,490.93 353.84,488.90 352.22,487.57 354.31,487.45" fill="#00e6e6"/>
<polygon points="366.59,485.50 367.36,487.45 369.45,487.57 367.83,488.90 368.36,490.93 366.59,489.80 364.83,490.93 365.36,488.90 363.74,487.57 365.83,487.45" fill="#00e6e6"/>
<polygon points="378.11,485.50 378.88,487.45 380.97,487.57 379.35,488.90 379.88,490.93 378.11,489.80 376.35,490.93 376.88,488.90 375.26,487.57 377.35,487.45" fill="#00e6e6"/>
<polygon points="389.63,485.50 390.40,487.45 392.49,487.57 390.87,488.90 391.40,490.93 389.63,489.80 387.87,490.93 388.40,488.90 386.78,487.57 388.87,487.45" fill="#00e6e6"/>
<path d="M170.75 452.70 L171.90 454.10 L173.06 455.40 L174.21 456.50 L175.36 457.49 L176.51 458.40 L177.66 459.25 L178.82 460.06 L179.97 460.82 L181.12 461.54 L182.27 462.20 L183.42 462.82 L184.58 463.41 L185.73 463.98 L186.88 464.52 L188.03 465.05 L189.18 465.55 L190.34 466.05 L191.49 466.54 L192.64 467.02 L193.79 467.50 L194.94 467.98 L196.10 468.46 L197.25 468.93 L198.40 469.39 L199.55 469.85 L200.70 470.29 L201.86 470.72 L203.01 471.13 L204.16 471.53 L205.31 471.90 L206.46 472.26 L207.62 472.61 L208.77 472.94 L209.92 473.27 L211.07 473.58 L212.22 473.89 L213.38 474.18 L214.53 474.46 L215.68 474.74 L216.83 475.00 L217.98 475.25 L219.14 475.48 L220.29 475.70 L221.44 475.91 L222.59 476.11 L223.74 476.32 L224.90 476.52 L226.05 476.74 L227.20 476.96 L228.35 477.20 L229.50 477.46 L230.66 477.73 L231.81 478.01 L232.96 478.30 L234.11 478.60 L235.26 478.90 L236.42 479.19 L237.57 479.47 L238.72 479.74 L239.87 480.00 L241.02 480.24 L242.18 480.47 L243.33 480.70 L244.48 480.92 L245.63 481.13 L246.78 481.35 L247.94 481.56 L249.09 481.77 L250.24 481.98 L251.39 482.20 L252.54 482.42 L253.70 482.64 L254.85 482.86 L256.00 483.08 L257.15 483.31 L258.30 483.53 L259.46 483.75 L260.61 483.97 L261.76 484.18 L262.91 484.40 L264.06 484.61 L265.22 484.83 L266.37 485.04 L267.52 485.26 L268.67 485.47 L269.82 485.68 L270.98 485.89 L272.13 486.10 L273.28 486.30 L274.43 486.50 L275.58 486.70 L276.74 486.89 L277.89 487.08 L279.04 487.27 L280.19 487.46 L281.34 487.64 L282.50 487.83 L283.65 488.02 L284.80 488.21 L285.95 488.40 L287.10 488.59 L288.26 488.79 L289.41 488.98 L290.56 489.18 L291.71 489.37 L292.86 489.57 L294.02 489.77 L295.17 489.98 L296.32 490.18 L297.47 490.40 L298.62 490.63 L299.78 490.87 L300.93 491.12 L302.08 491.37 L303.23 491.63 L304.38 491.89 L305.54 492.14 L306.69 492.37 L307.84 492.60 L308.99 492.80 L310.14 492.99 L311.30 493.16 L312.45 493.32 L313.60 493.48 L314.75 493.63 L315.90 493.78 L317.06 493.93 L318.21 494.08 L319.36 494.24 L320.51 494.40 L321.66 494.56 L322.82 494.72 L323.97 494.88 L325.12 495.04 L326.27 495.21 L327.42 495.37 L328.58 495.54 L329.73 495.72 L330.88 495.91 L332.03 496.10 L333.18 496.31 L334.34 496.54 L335.49 496.78 L336.64 497.03 L337.79 497.28 L338.94 497.54 L340.10 497.80 L341.25 498.04 L342.40 498.28 L343.55 498.50 L344.70 498.71 L345.86 498.90 L347.01 499.09 L348.16 499.27 L349.31 499.45 L350.46 499.64 L351.62 499.82 L352.77 500.00 L353.92 500.20 L355.07 500.40 L356.22 500.61 L357.38 500.84 L358.53 501.07 L359.68 501.31 L360.83 501.55 L361.98 501.79 L363.14 502.03 L364.29 502.26 L365.44 502.49 L366.59 502.70 L367.74 502.91 L368.90 503.11 L370.05 503.30 L371.20 503.50 L372.35 503.69 L373.50 503.87 L374.66 504.06 L375.81 504.24 L376.96 504.42 L378.11 504.60 L379.26 504.78 L380.42 504.96 L381.57 505.14 L382.72 505.32 L383.87 505.50 L385.02 505.67 L386.18 505.84 L387.33 506.00 L388.48 506.15 L389.63 506.30 L390.78 506.44 L391.94 506.57 L393.09 506.69 L394.24 506.81 L395.39 506.93 L396.54 507.05 L397.70 507.16 L398.85 507.28 L400.00 507.40" fill="none" stroke="#f000f0" stroke-width="1.1" stroke-linejoin="round"/>
<circle cx="170.75" cy="452.70" r="1.8" fill="#f080f0" stroke="#f000f0" stroke-width="0.8"/>
<circle cx="182.27" cy="462.20" r="1.8" fill="#f080f0" stroke="#f000f0" stroke-width="0.8"/>
<circle cx="193.79" cy="467.50" r="1.8" fill="#f080f0" stroke="#f000f0" stroke-width="0.8"/>
<circle cx="205.31" cy="471.90" r="1.8" fill="#f080f0" stroke="#f000f0" stroke-width="0.8"/>
<circle cx="216.83" cy="475.00" r="1.8" fill="#f080f0" stroke="#f000f0" stroke-width="0.8"/>
<circle cx="228.35" cy="477.20" r="1.8" fill="#f080f0" stroke="#f000f0" stroke-width="0.8"/>
<circle cx="239.87" cy="480.00" r="1.8" fill="#f080f0" stroke="#f000f0" stroke-width="0.8"/>
<circle cx="251.39" cy="482.20" r="1.8" fill="#f080f0" stroke="#f000f0" stroke-width="0.8"/>
<circle cx="262.91" cy="484.40" r="1.8" fill="#f080f0" stroke="#f000f0" stroke-width="0.8"/>
<circle cx="274.43" cy="486.50" r="1.8" fill="#f080f0" stroke="#f000f0" stroke-width="0.8"/>
<circle cx="285.95" cy="488.40" r="1.8" fill="#f080f0" stroke="#f000f0" stroke-width="0.8"/>
<circle cx="297.47" cy="490.40" r="1.8" fill="#f080f0" stroke="#f000f0" stroke-width="0.8"/>
<circle cx="308.99" cy="492.80" r="1.8" fill="#f080f0" stroke="#f000f0" stroke-width="0.8"/>
<circle cx="320.51" cy="494.40" r="1.8" fill="#f080f0" stroke="#f000f0" stroke-width="0.8"/>
<circle cx="332.03" cy="496.10" r="1.8" fill="#f080f0" stroke="#f000f0" stroke-width="0.8"/>
<circle cx="343.55" cy="498.50" r="1.8" fill="#f080f0" stroke="#f000f0" stroke-width="0.8"/>
<circle cx="355.07" cy="500.40" r="1.8" fill="#f080f0" stroke="#f000f0" stroke-width="0.8"/>
<circle cx="366.59" cy="502.70" r="1.8" fill="#f080f0" stroke="#f000f0" stroke-width="0.8"/>
<circle cx="378.11" cy="504.60" r="1.8" fill="#f080f0" stroke="#f000f0" stroke-width="0.8"/>
<circle cx="389.63" cy="506.30" r="1.8" fill="#f080f0" stroke="#f000f0" stroke-width="0.8"/>
<path d="M170.75 437.60 L171.90 464.90 L173.06 471.90 L174.21 474.14 L175.36 475.40 L176.51 476.30 L177.66 476.90 L178.82 477.29 L179.97 477.58 L181.12 477.84 L182.27 478.10 L183.42 478.37 L184.58 478.61 L185.73 478.84 L186.88 479.06 L188.03 479.28 L189.18 479.52 L190.34 479.77 L191.49 480.04 L192.64 480.35 L193.79 480.70 L194.94 481.16 L196.10 481.75 L197.25 482.45 L198.40 483.22 L199.55 484.02 L200.70 484.83 L201.86 485.61 L203.01 486.32 L204.16 486.93 L205.31 487.40 L206.46 487.77 L207.62 488.11 L208.77 488.41 L209.92 488.68 L211.07 488.94 L212.22 489.18 L213.38 489.43 L214.53 489.67 L215.68 489.93 L216.83 490.20 L217.98 490.48 L219.14 490.77 L220.29 491.05 L221.44 491.33 L222.59 491.62 L223.74 491.91 L224.90 492.20 L226.05 492.49 L227.20 492.79 L228.35 493.10 L229.50 493.41 L230.66 493.73 L231.81 494.06 L232.96 494.39 L234.11 494.73 L235.26 495.07 L236.42 495.40 L237.57 495.74 L238.72 496.07 L239.87 496.40 L241.02 496.73 L242.18 497.05 L243.33 497.38 L244.48 497.70 L245.63 498.03 L246.78 498.35 L247.94 498.67 L249.09 498.98 L250.24 499.29 L251.39 499.60 L252.54 499.91 L253.70 500.21 L254.85 500.52 L256.00 500.83 L257.15 501.13 L258.30 501.42 L259.46 501.71 L260.61 501.98 L261.76 502.25 L262.91 502.50 L264.06 502.74 L265.22 502.96 L266.37 503.18 L267.52 503.39 L268.67 503.59 L269.82 503.79 L270.98 503.99 L272.13 504.19 L273.28 504.39 L274.43 504.60 L275.58 504.81 L276.74 505.03 L277.89 505.24 L279.04 505.46 L280.19 505.67 L281.34 505.88 L282.50 506.09 L283.65 506.30 L284.80 506.50 L285.95 506.70 L287.10 506.89 L288.26 507.08 L289.41 507.27 L290.56 507.46 L291.71 507.65 L292.86 507.83 L294.02 508.00 L295.17 508.17 L296.32 508.34 L297.47 508.50 L298.62 508.66 L299.78 508.81 L300.93 508.96 L302.08 509.11 L303.23 509.25 L304.38 509.39 L305.54 509.53 L306.69 509.66 L307.84 509.78 L308.99 509.90 L310.14 510.01 L311.30 510.12 L312.45 510.23 L313.60 510.33 L314.75 510.43 L315.90 510.53 L317.06 510.63 L318.21 510.72 L319.36 510.81 L320.51 510.90 L321.66 510.99 L322.82 511.08 L323.97 511.16 L325.12 511.25 L326.27 511.33 L327.42 511.42 L328.58 511.49 L329.73 511.57 L330.88 511.64 L332.03 511.70 L333.18 511.76 L334.34 511.83 L335.49 511.90 L336.64 511.96 L337.79 512.02 L338.94 512.08 L340.10 512.12 L341.25 512.16 L342.40 512.19 L343.55 512.20 L344.70 512.20 L345.86 512.21 L347.01 512.21 L348.16 512.22 L349.31 512.22 L350.46 512.23 L351.62 512.23 L352.77 512.23 L353.92 512.24 L355.07 512.24 L356.22 512.24 L357.38 512.24 L358.53 512.25 L359.68 512.25 L360.83 512.25 L361.98 512.25 L363.14 512.26 L364.29 512.26 L365.44 512.26 L366.59 512.26 L367.74 512.26 L368.90 512.26 L370.05 512.27 L371.20 512.27 L372.35 512.27 L373.50 512.27 L374.66 512.27 L375.81 512.27 L376.96 512.27 L378.11 512.27 L379.26 512.28 L380.42 512.28 L381.57 512.28 L382.72 512.28 L383.87 512.28 L385.02 512.28 L386.18 512.28 L387.33 512.28 L388.48 512.28 L389.63 512.29 L390.78 512.29 L391.94 512.29 L393.09 512.29 L394.24 512.29 L395.39 512.29 L396.54 512.29 L397.70 512.30 L398.85 512.30 L400.00 512.30" fill="none" stroke="#2e2e2e" stroke-width="1.1" stroke-linejoin="round"/>
<path d="M168.22 437.60L172.62 435.40L172.62 439.80Z" stroke="#2e2e2e" stroke-width="0.9" fill="none"/>
<path d="M179.74 478.10L184.14 475.90L184.14 480.30Z" stroke="#2e2e2e" stroke-width="0.9" fill="none"/>
<path d="M191.26 480.70L195.66 478.50L195.66 482.90Z" stroke="#2e2e2e" stroke-width="0.9" fill="none"/>
<path d="M202.78 487.40L207.18 485.20L207.18 489.60Z" stroke="#2e2e2e" stroke-width="0.9" fill="none"/>
<path d="M214.30 490.20L218.70 488.00L218.70 492.40Z" stroke="#2e2e2e" stroke-width="0.9" fill="none"/>
<path d="M225.82 493.10L230.22 490.90L230.22 495.30Z" stroke="#2e2e2e" stroke-width="0.9" fill="none"/>
<path d="M237.34 496.40L241.74 494.20L241.74 498.60Z" stroke="#2e2e2e" stroke-width="0.9" fill="none"/>
<path d="M248.86 499.60L253.26 497.40L253.26 501.80Z" stroke="#2e2e2e" stroke-width="0.9" fill="none"/>
<path d="M260.38 502.50L264.78 500.30L264.78 504.70Z" stroke="#2e2e2e" stroke-width="0.9" fill="none"/>
<path d="M271.90 504.60L276.30 502.40L276.30 506.80Z" stroke="#2e2e2e" stroke-width="0.9" fill="none"/>
<path d="M283.42 506.70L287.82 504.50L287.82 508.90Z" stroke="#2e2e2e" stroke-width="0.9" fill="none"/>
<path d="M294.94 508.50L299.34 506.30L299.34 510.70Z" stroke="#2e2e2e" stroke-width="0.9" fill="none"/>
<path d="M306.46 509.90L310.86 507.70L310.86 512.10Z" stroke="#2e2e2e" stroke-width="0.9" fill="none"/>
<path d="M317.98 510.90L322.38 508.70L322.38 513.10Z" stroke="#2e2e2e" stroke-width="0.9" fill="none"/>
<path d="M329.50 511.70L333.90 509.50L333.90 513.90Z" stroke="#2e2e2e" stroke-width="0.9" fill="none"/>
<path d="M341.02 512.20L345.42 510.00L345.42 514.40Z" stroke="#2e2e2e" stroke-width="0.9" fill="none"/>
<path d="M352.54 512.24L356.94 510.04L356.94 514.44Z" stroke="#2e2e2e" stroke-width="0.9" fill="none"/>
<path d="M364.06 512.26L368.46 510.06L368.46 514.46Z" stroke="#2e2e2e" stroke-width="0.9" fill="none"/>
<path d="M375.58 512.27L379.98 510.07L379.98 514.47Z" stroke="#2e2e2e" stroke-width="0.9" fill="none"/>
<path d="M387.10 512.29L391.50 510.09L391.50 514.49Z" stroke="#2e2e2e" stroke-width="0.9" fill="none"/>
<path d="M170.75 492.40 L171.90 495.46 L173.06 498.40 L174.21 501.09 L175.36 503.62 L176.51 505.90 L177.66 507.96 L178.82 509.90 L179.97 511.71 L181.12 513.38 L182.27 514.90 L183.42 516.35 L184.58 517.75 L185.73 519.03 L186.88 520.11 L188.03 520.90 L189.18 521.50 L190.34 522.03 L191.49 522.48 L192.64 522.81 L193.79 523.00 L194.94 523.11 L196.10 523.21 L197.25 523.30 L198.40 523.38 L199.55 523.44 L200.70 523.50 L201.86 523.54 L203.01 523.57 L204.16 523.59 L205.31 523.60 L206.46 523.60 L207.62 523.60 L208.77 523.60 L209.92 523.60 L211.07 523.60 L212.22 523.60 L213.38 523.60 L214.53 523.60 L215.68 523.60 L216.83 523.60 L217.98 523.61 L219.14 523.62 L220.29 523.64 L221.44 523.67 L222.59 523.71 L223.74 523.75 L224.90 523.78 L226.05 523.82 L227.20 523.86 L228.35 523.90 L229.50 523.94 L230.66 523.97 L231.81 524.01 L232.96 524.05 L234.11 524.09 L235.26 524.13 L236.42 524.18 L237.57 524.22 L238.72 524.26 L239.87 524.30 L241.02 524.34 L242.18 524.38 L243.33 524.41 L244.48 524.45 L245.63 524.49 L246.78 524.52 L247.94 524.56 L249.09 524.61 L250.24 524.65 L251.39 524.70 L252.54 524.75 L253.70 524.81 L254.85 524.88 L256.00 524.94 L257.15 525.02 L258.30 525.09 L259.46 525.17 L260.61 525.24 L261.76 525.32 L262.91 525.40 L264.06 525.48 L265.22 525.56 L266.37 525.65 L267.52 525.74 L268.67 525.83 L269.82 525.92 L270.98 526.02 L272.13 526.11 L273.28 526.21 L274.43 526.30 L275.58 526.39 L276.74 526.47 L277.89 526.56 L279.04 526.64 L280.19 526.72 L281.34 526.81 L282.50 526.91 L283.65 527.02 L284.80 527.15 L285.95 527.30 L287.10 527.51 L288.26 527.79 L289.41 528.15 L290.56 528.56 L291.71 528.99 L292.86 529.45 L294.02 529.90 L295.17 530.34 L296.32 530.75 L297.47 531.10 L298.62 531.41 L299.78 531.71 L300.93 531.99 L302.08 532.27 L303.23 532.54 L304.38 532.80 L305.54 533.07 L306.69 533.34 L307.84 533.61 L308.99 533.90 L310.14 534.21 L311.30 534.53 L312.45 534.87 L313.60 535.21 L314.75 535.55 L315.90 535.89 L317.06 536.21 L318.21 536.50 L319.36 536.77 L320.51 537.00 L321.66 537.20 L322.82 537.38 L323.97 537.55 L325.12 537.70 L326.27 537.85 L327.42 537.99 L328.58 538.13 L329.73 538.28 L330.88 538.43 L332.03 538.60 L333.18 538.78 L334.34 538.97 L335.49 539.17 L336.64 539.38 L337.79 539.58 L338.94 539.79 L340.10 539.98 L341.25 540.17 L342.40 540.34 L343.55 540.50 L344.70 540.64 L345.86 540.77 L347.01 540.90 L348.16 541.02 L349.31 541.13 L350.46 541.25 L351.62 541.36 L352.77 541.47 L353.92 541.58 L355.07 541.70 L356.22 541.82 L357.38 541.95 L358.53 542.07 L359.68 542.20 L360.83 542.32 L361.98 542.44 L363.14 542.57 L364.29 542.68 L365.44 542.79 L366.59 542.90 L367.74 543.00 L368.90 543.09 L370.05 543.18 L371.20 543.27 L372.35 543.35 L373.50 543.43 L374.66 543.52 L375.81 543.61 L376.96 543.70 L378.11 543.80 L379.26 543.91 L380.42 544.02 L381.57 544.13 L382.72 544.25 L383.87 544.37 L385.02 544.49 L386.18 544.62 L387.33 544.75 L388.48 544.87 L389.63 545.00 L390.78 545.13 L391.94 545.26 L393.09 545.39 L394.24 545.52 L395.39 545.66 L396.54 545.80 L397.70 545.93 L398.85 546.07 L400.00 546.20" fill="none" stroke="#ff1818" stroke-width="1.1" stroke-linejoin="round"/>
<circle cx="170.75" cy="492.40" r="2.1" fill="none" stroke="#ff1818" stroke-width="0.95"/>
<circle cx="182.27" cy="514.90" r="2.1" fill="none" stroke="#ff1818" stroke-width="0.95"/>
<circle cx="193.79" cy="523.00" r="2.1" fill="none" stroke="#ff1818" stroke-width="0.95"/>
<circle cx="205.31" cy="523.60" r="2.1" fill="none" stroke="#ff1818" stroke-width="0.95"/>
<circle cx="216.83" cy="523.60" r="2.1" fill="none" stroke="#ff1818" stroke-width="0.95"/>
<circle cx="228.35" cy="523.90" r="2.1" fill="none" stroke="#ff1818" stroke-width="0.95"/>
<circle cx="239.87" cy="524.30" r="2.1" fill="none" stroke="#ff1818" stroke-width="0.95"/>
<circle cx="251.39" cy="524.70" r="2.1" fill="none" stroke="#ff1818" stroke-width="0.95"/>
<circle cx="262.91" cy="525.40" r="2.1" fill="none" stroke="#ff1818" stroke-width="0.95"/>
<circle cx="274.43" cy="526.30" r="2.1" fill="none" stroke="#ff1818" stroke-width="0.95"/>
<circle cx="285.95" cy="527.30" r="2.1" fill="none" stroke="#ff1818" stroke-width="0.95"/>
<circle cx="297.47" cy="531.10" r="2.1" fill="none" stroke="#ff1818" stroke-width="0.95"/>
<circle cx="308.99" cy="533.90" r="2.1" fill="none" stroke="#ff1818" stroke-width="0.95"/>
<circle cx="320.51" cy="537.00" r="2.1" fill="none" stroke="#ff1818" stroke-width="0.95"/>
<circle cx="332.03" cy="538.60" r="2.1" fill="none" stroke="#ff1818" stroke-width="0.95"/>
<circle cx="343.55" cy="540.50" r="2.1" fill="none" stroke="#ff1818" stroke-width="0.95"/>
<circle cx="355.07" cy="541.70" r="2.1" fill="none" stroke="#ff1818" stroke-width="0.95"/>
<circle cx="366.59" cy="542.90" r="2.1" fill="none" stroke="#ff1818" stroke-width="0.95"/>
<circle cx="378.11" cy="543.80" r="2.1" fill="none" stroke="#ff1818" stroke-width="0.95"/>
<circle cx="389.63" cy="545.00" r="2.1" fill="none" stroke="#ff1818" stroke-width="0.95"/>
<rect x="169.60" y="417.40" width="230.4" height="155.0" fill="none" stroke="#646464" stroke-width="1.0"/>
<path d="M169.60 572.40V569.80M169.60 417.40V420.00" stroke="#646464" stroke-width="0.9"/>
<text x="169.60" y="584.40" text-anchor="middle" font-size="9.0" fill="#222" font-family="Liberation Serif, serif">0</text>
<path d="M227.20 572.40V569.80M227.20 417.40V420.00" stroke="#646464" stroke-width="0.9"/>
<text x="227.20" y="584.40" text-anchor="middle" font-size="9.0" fill="#222" font-family="Liberation Serif, serif">50</text>
<path d="M284.80 572.40V569.80M284.80 417.40V420.00" stroke="#646464" stroke-width="0.9"/>
<text x="284.80" y="584.40" text-anchor="middle" font-size="9.0" fill="#222" font-family="Liberation Serif, serif">100</text>
<path d="M342.40 572.40V569.80M342.40 417.40V420.00" stroke="#646464" stroke-width="0.9"/>
<text x="342.40" y="584.40" text-anchor="middle" font-size="9.0" fill="#222" font-family="Liberation Serif, serif">150</text>
<path d="M400.00 572.40V569.80M400.00 417.40V420.00" stroke="#646464" stroke-width="0.9"/>
<text x="400.00" y="584.40" text-anchor="middle" font-size="9.0" fill="#222" font-family="Liberation Serif, serif">200</text>
<path d="M169.60 572.40H172.20M400.00 572.40H397.40" stroke="#646464" stroke-width="0.9"/>
<text x="166.90" y="575.90" text-anchor="end" letter-spacing="-0.12" font-size="8.9" fill="#222" style="stroke-width:0.3px" font-family="Liberation Serif, serif">0.20</text>
<path d="M169.60 541.40H172.20M400.00 541.40H397.40" stroke="#646464" stroke-width="0.9"/>
<text x="166.90" y="544.90" text-anchor="end" letter-spacing="-0.12" font-size="8.9" fill="#222" style="stroke-width:0.3px" font-family="Liberation Serif, serif">0.25</text>
<path d="M169.60 510.40H172.20M400.00 510.40H397.40" stroke="#646464" stroke-width="0.9"/>
<text x="166.90" y="513.90" text-anchor="end" letter-spacing="-0.12" font-size="8.9" fill="#222" style="stroke-width:0.3px" font-family="Liberation Serif, serif">0.30</text>
<path d="M169.60 479.40H172.20M400.00 479.40H397.40" stroke="#646464" stroke-width="0.9"/>
<text x="166.90" y="482.90" text-anchor="end" letter-spacing="-0.12" font-size="8.9" fill="#222" style="stroke-width:0.3px" font-family="Liberation Serif, serif">0.35</text>
<path d="M169.60 448.40H172.20M400.00 448.40H397.40" stroke="#646464" stroke-width="0.9"/>
<text x="166.90" y="451.90" text-anchor="end" letter-spacing="-0.12" font-size="8.9" fill="#222" style="stroke-width:0.3px" font-family="Liberation Serif, serif">0.40</text>
<path d="M169.60 417.40H172.20M400.00 417.40H397.40" stroke="#646464" stroke-width="0.9"/>
<text x="166.90" y="420.90" text-anchor="end" letter-spacing="-0.12" font-size="8.9" fill="#222" style="stroke-width:0.3px" font-family="Liberation Serif, serif">0.45</text>
<text x="284.80" y="595.70" text-anchor="middle" font-size="10.2" fill="#222" font-family="Liberation Serif, serif">Iter</text>
<text transform="translate(149.00 494.90) rotate(-90)" text-anchor="middle" font-size="9.1" letter-spacing="0.24" fill="#333" style="stroke-width:0.12px" font-family="Liberation Serif, serif">mean finess value</text>
<text x="272.80" y="611.80" text-anchor="middle" font-size="10.6" letter-spacing="0.3" fill="#1a1a1a" style="stroke-width:0.08px" font-family="Liberation Serif, serif"><tspan font-weight="bold">(i)</tspan> Task 450</text>
<rect x="350.50" y="422.40" width="44.8" height="62.9" fill="#fff" stroke="#646464" stroke-width="0.8"/>
<path d="M352.40 427.50H371.00" stroke="#3434ff" stroke-width="1.0"/>
<path d="M359.60 427.50H364.00M361.80 425.30V429.70" stroke="#3434ff" stroke-width="0.9" fill="none"/>
<text x="372.50" y="430.40" font-size="7.3" fill="#222" font-family="Liberation Serif, serif">GA</text>
<path d="M352.40 436.28H371.00" stroke="#00ee00" stroke-width="1.0"/>
<circle cx="361.80" cy="436.28" r="1.8" fill="#00ee00"/>
<text x="372.50" y="439.18" font-size="7.3" fill="#222" font-family="Liberation Serif, serif">WOA</text>
<path d="M352.40 445.06H371.00" stroke="#2a2aff" stroke-width="1.0"/>
<path d="M364.33 445.06L359.93 442.86L359.93 447.26Z" stroke="#2a2aff" stroke-width="0.9" fill="none"/>
<text x="372.50" y="447.96" font-size="7.3" fill="#222" font-family="Liberation Serif, serif">GWO</text>
<path d="M352.40 453.84H371.00" stroke="#00e6e6" stroke-width="1.0"/>
<polygon points="361.80,450.84 362.56,452.79 364.65,452.91 363.04,454.24 363.56,456.27 361.80,455.14 360.04,456.27 360.56,454.24 358.95,452.91 361.04,452.79" fill="#00e6e6"/>
<text x="372.50" y="456.74" font-size="7.3" fill="#222" font-family="Liberation Serif, serif">SSA</text>
<path d="M352.40 462.62H371.00" stroke="#f000f0" stroke-width="1.0"/>
<circle cx="361.80" cy="462.62" r="1.8" fill="#f080f0" stroke="#f000f0" stroke-width="0.8"/>
<text x="372.50" y="465.52" font-size="7.3" fill="#222" font-family="Liberation Serif, serif">PSO</text>
<path d="M352.40 471.40H371.00" stroke="#2e2e2e" stroke-width="1.0"/>
<path d="M359.27 471.40L363.67 469.20L363.67 473.60Z" stroke="#2e2e2e" stroke-width="0.9" fill="none"/>
<text x="372.50" y="474.30" font-size="7.3" fill="#222" font-family="Liberation Serif, serif">ALO</text>
<path d="M352.40 480.18H371.00" stroke="#ff1818" stroke-width="1.0"/>
<circle cx="361.80" cy="480.18" r="2.1" fill="none" stroke="#ff1818" stroke-width="0.95"/>
<text x="372.50" y="483.08" font-size="7.3" fill="#222" font-family="Liberation Serif, serif">HALO</text>
</svg>
</body></html>
